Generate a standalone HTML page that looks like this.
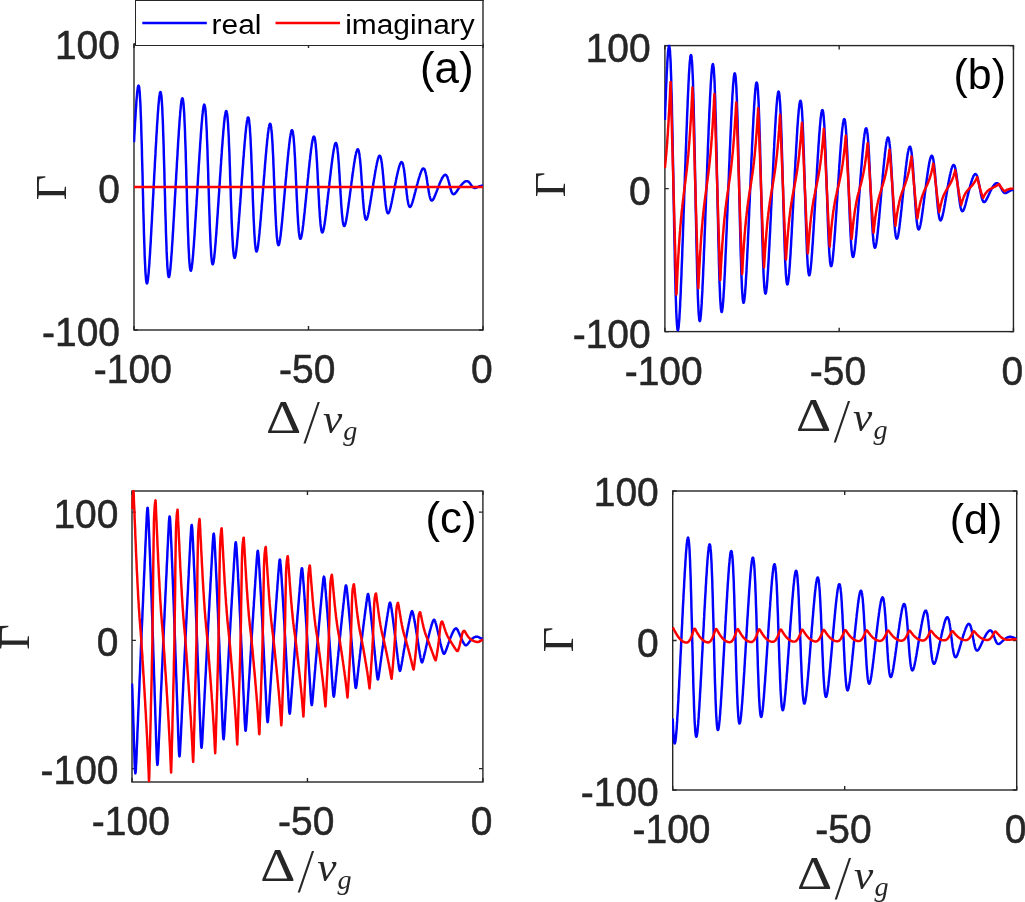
<!DOCTYPE html>
<html lang="en"><head><meta charset="utf-8"><title>Gamma vs Delta/v_g</title>
<style>html,body{margin:0;padding:0;background:#fff}svg{display:block}</style></head><body>
<svg width="1025" height="902" viewBox="0 0 1025 902" role="img" aria-label="Gamma versus Delta over v_g, four panels">
<rect width="1025" height="902" fill="#fff"/>
<clipPath id="clip_a"><rect x="133.3" y="42.4" width="350.4" height="289.2"/></clipPath>
<rect x="134" y="44" width="349" height="286" fill="none" stroke="#262626" stroke-width="1.4"/>
<path d="M134,330v-3.9M134,44v3.9M308.5,330v-3.9M308.5,44v3.9M483,330v-3.9M483,44v3.9M134,330h3.9M483,330h-3.9M134,187h3.9M483,187h-3.9M134,44h3.9M483,44h-3.9" stroke="#262626" stroke-width="1.4" fill="none"/>
<g clip-path="url(#clip_a)" fill="none" stroke-width="2.45" stroke-linejoin="round" stroke-linecap="butt">
<polyline stroke="#0000ff" points="134,142.3 134.2,139 134.3,135.8 134.5,132.6 134.7,129.4 134.9,126.3 135,123.2 135.2,120.2 135.4,117.3 135.6,114.4 135.7,111.6 135.9,108.9 136.1,106.3 136.3,103.8 136.4,101.4 136.6,99.1 136.8,97 137,95 137.1,93.1 137.3,91.5 137.5,90 137.7,88.6 137.8,87.5 138,86.7 138.2,86 138.4,85.6 138.5,85.5 138.7,85.7 138.9,86.1 139.1,86.9 139.2,88 139.4,89.5 139.6,91.3 139.8,93.5 139.9,96.1 140.1,99 140.3,102.4 140.5,106.1 140.6,110.3 140.8,114.8 141,119.7 141.2,125 141.3,130.6 141.5,136.5 141.7,142.7 141.9,149.2 142,155.9 142.2,162.8 142.4,169.9 142.6,177 142.7,184.2 142.9,191.4 143.1,198.5 143.2,205.6 143.4,212.5 143.6,219.2 143.8,225.7 143.9,232 144.1,237.9 144.3,243.6 144.5,248.9 144.6,253.8 144.8,258.4 145,262.6 145.2,266.3 145.3,269.7 145.5,272.7 145.7,275.3 145.9,277.5 146,279.4 146.2,280.9 146.4,282 146.6,282.8 146.7,283.3 146.9,283.5 147.1,283.4 147.3,283 147.4,282.4 147.6,281.5 147.8,280.4 148,279.1 148.1,277.7 148.3,276 148.5,274.2 148.7,272.2 148.8,270.1 149,267.9 149.2,265.6 149.4,263.1 149.5,260.6 149.7,257.9 149.9,255.2 150.1,252.4 150.2,249.6 150.4,246.7 150.6,243.7 150.8,240.7 150.9,237.7 151.1,234.6 151.3,231.4 151.4,228.3 151.6,225.1 151.8,221.9 152,218.7 152.1,215.4 152.3,212.2 152.5,208.9 152.7,205.6 152.8,202.3 153,199 153.2,195.7 153.4,192.5 153.5,189.2 153.7,185.9 153.9,182.6 154.1,179.3 154.2,176 154.4,172.7 154.6,169.5 154.8,166.2 154.9,163 155.1,159.8 155.3,156.6 155.5,153.4 155.6,150.2 155.8,147.1 156,144 156.2,140.9 156.3,137.9 156.5,134.9 156.7,132 156.9,129.1 157,126.2 157.2,123.4 157.4,120.7 157.6,118 157.7,115.5 157.9,113 158.1,110.5 158.3,108.2 158.4,106 158.6,103.9 158.8,102 159,100.1 159.1,98.5 159.3,97 159.5,95.6 159.7,94.4 159.8,93.5 160,92.7 160.2,92.2 160.3,91.9 160.5,91.9 160.7,92.2 160.9,92.7 161,93.5 161.2,94.7 161.4,96.2 161.6,98 161.7,100.2 161.9,102.7 162.1,105.6 162.3,108.9 162.4,112.5 162.6,116.5 162.8,120.8 163,125.6 163.1,130.6 163.3,135.9 163.5,141.6 163.7,147.5 163.8,153.7 164,160 164.2,166.5 164.4,173.1 164.5,179.8 164.7,186.5 164.9,193.3 165.1,199.9 165.2,206.5 165.4,212.9 165.6,219.1 165.8,225.1 165.9,230.9 166.1,236.4 166.3,241.5 166.5,246.4 166.6,250.9 166.8,255 167,258.8 167.2,262.2 167.3,265.3 167.5,267.9 167.7,270.2 167.9,272.2 168,273.8 168.2,275.1 168.4,276 168.6,276.7 168.7,277 168.9,277.1 169.1,276.9 169.2,276.5 169.4,275.8 169.6,274.9 169.8,273.9 169.9,272.6 170.1,271.1 170.3,269.5 170.5,267.8 170.6,265.9 170.8,263.9 171,261.8 171.2,259.6 171.3,257.2 171.5,254.8 171.7,252.3 171.9,249.8 172,247.2 172.2,244.5 172.4,241.7 172.6,238.9 172.7,236.1 172.9,233.3 173.1,230.4 173.3,227.4 173.4,224.5 173.6,221.5 173.8,218.5 174,215.5 174.1,212.4 174.3,209.4 174.5,206.3 174.7,203.3 174.8,200.2 175,197.1 175.2,194 175.4,191 175.5,187.9 175.7,184.8 175.9,181.7 176.1,178.7 176.2,175.6 176.4,172.6 176.6,169.5 176.8,166.5 176.9,163.5 177.1,160.5 177.3,157.5 177.5,154.6 177.6,151.6 177.8,148.7 178,145.8 178.1,143 178.3,140.2 178.5,137.4 178.7,134.7 178.8,132 179,129.3 179.2,126.8 179.4,124.2 179.5,121.8 179.7,119.4 179.9,117.1 180.1,114.9 180.2,112.8 180.4,110.7 180.6,108.8 180.8,107.1 180.9,105.4 181.1,103.9 181.3,102.5 181.5,101.3 181.6,100.3 181.8,99.5 182,98.9 182.2,98.4 182.3,98.3 182.5,98.3 182.7,98.7 182.9,99.3 183,100.1 183.2,101.3 183.4,102.8 183.6,104.6 183.7,106.8 183.9,109.2 184.1,112.1 184.3,115.2 184.4,118.7 184.6,122.6 184.8,126.7 185,131.2 185.1,136 185.3,141.1 185.5,146.4 185.7,152 185.8,157.8 186,163.8 186.2,169.9 186.3,176.1 186.5,182.3 186.7,188.6 186.9,194.8 187,201 187.2,207.1 187.4,213 187.6,218.7 187.7,224.2 187.9,229.5 188.1,234.5 188.3,239.2 188.4,243.6 188.6,247.7 188.8,251.4 189,254.8 189.1,257.9 189.3,260.6 189.5,263 189.7,265 189.8,266.7 190,268.1 190.2,269.2 190.4,270 190.5,270.5 190.7,270.7 190.9,270.7 191.1,270.4 191.2,269.9 191.4,269.3 191.6,268.4 191.8,267.3 191.9,266.1 192.1,264.7 192.3,263.1 192.5,261.5 192.6,259.7 192.8,257.8 193,255.8 193.2,253.7 193.3,251.5 193.5,249.2 193.7,246.9 193.9,244.4 194,242 194.2,239.5 194.4,236.9 194.6,234.3 194.7,231.7 194.9,229 195.1,226.3 195.2,223.5 195.4,220.8 195.6,218 195.8,215.2 195.9,212.4 196.1,209.6 196.3,206.8 196.5,203.9 196.6,201.1 196.8,198.2 197,195.4 197.2,192.5 197.3,189.6 197.5,186.8 197.7,183.9 197.9,181.1 198,178.2 198.2,175.4 198.4,172.6 198.6,169.7 198.7,166.9 198.9,164.1 199.1,161.4 199.3,158.6 199.4,155.9 199.6,153.2 199.8,150.5 200,147.8 200.1,145.2 200.3,142.6 200.5,140 200.7,137.5 200.8,135 201,132.6 201.2,130.2 201.4,127.9 201.5,125.7 201.7,123.5 201.9,121.4 202.1,119.3 202.2,117.4 202.4,115.6 202.6,113.8 202.8,112.2 202.9,110.7 203.1,109.4 203.3,108.2 203.5,107.1 203.6,106.2 203.8,105.5 204,105 204.1,104.7 204.3,104.6 204.5,104.8 204.7,105.2 204.8,105.8 205,106.7 205.2,107.9 205.4,109.4 205.5,111.2 205.7,113.3 205.9,115.7 206.1,118.4 206.2,121.4 206.4,124.8 206.6,128.5 206.8,132.4 206.9,136.7 207.1,141.2 207.3,146 207.5,151.1 207.6,156.3 207.8,161.7 208,167.3 208.2,173 208.3,178.7 208.5,184.5 208.7,190.3 208.9,196.1 209,201.8 209.2,207.3 209.4,212.8 209.6,218 209.7,223.1 209.9,227.9 210.1,232.4 210.3,236.7 210.4,240.6 210.6,244.3 210.8,247.6 211,250.7 211.1,253.4 211.3,255.8 211.5,257.9 211.7,259.6 211.8,261.1 212,262.3 212.2,263.2 212.4,263.8 212.5,264.2 212.7,264.3 212.9,264.2 213,263.9 213.2,263.4 213.4,262.7 213.6,261.8 213.7,260.8 213.9,259.6 214.1,258.3 214.3,256.8 214.4,255.2 214.6,253.5 214.8,251.7 215,249.8 215.1,247.8 215.3,245.8 215.5,243.7 215.7,241.5 215.8,239.2 216,236.9 216.2,234.6 216.4,232.2 216.5,229.8 216.7,227.3 216.9,224.9 217.1,222.3 217.2,219.8 217.4,217.3 217.6,214.7 217.8,212.1 217.9,209.5 218.1,206.9 218.3,204.3 218.5,201.6 218.6,199 218.8,196.4 219,193.7 219.2,191.1 219.3,188.4 219.5,185.8 219.7,183.2 219.9,180.5 220,177.9 220.2,175.3 220.4,172.7 220.6,170.1 220.7,167.5 220.9,164.9 221.1,162.4 221.2,159.9 221.4,157.3 221.6,154.8 221.8,152.4 221.9,149.9 222.1,147.5 222.3,145.1 222.5,142.8 222.6,140.5 222.8,138.2 223,136 223.2,133.8 223.3,131.7 223.5,129.6 223.7,127.7 223.9,125.7 224,123.9 224.2,122.2 224.4,120.5 224.6,119 224.7,117.5 224.9,116.2 225.1,115 225.3,113.9 225.4,113 225.6,112.2 225.8,111.7 226,111.3 226.1,111 226.3,111 226.5,111.3 226.7,111.7 226.8,112.4 227,113.3 227.2,114.5 227.4,116 227.5,117.7 227.7,119.7 227.9,122 228.1,124.6 228.2,127.5 228.4,130.7 228.6,134.2 228.8,138 228.9,142 229.1,146.2 229.3,150.7 229.5,155.4 229.6,160.3 229.8,165.3 230,170.5 230.1,175.8 230.3,181.1 230.5,186.4 230.7,191.7 230.8,197 231,202.2 231.2,207.3 231.4,212.2 231.5,217 231.7,221.6 231.9,225.9 232.1,230 232.2,233.8 232.4,237.4 232.6,240.6 232.8,243.6 232.9,246.3 233.1,248.7 233.3,250.8 233.5,252.6 233.6,254.1 233.8,255.4 234,256.4 234.2,257.1 234.3,257.6 234.5,257.9 234.7,258 234.9,257.8 235,257.4 235.2,256.9 235.4,256.2 235.6,255.3 235.7,254.3 235.9,253.2 236.1,251.9 236.3,250.5 236.4,249 236.6,247.4 236.8,245.7 237,244 237.1,242.1 237.3,240.2 237.5,238.2 237.7,236.2 237.8,234.1 238,232 238.2,229.8 238.4,227.6 238.5,225.4 238.7,223.1 238.9,220.9 239,218.5 239.2,216.2 239.4,213.9 239.6,211.5 239.7,209.1 239.9,206.7 240.1,204.3 240.3,201.9 240.4,199.5 240.6,197.1 240.8,194.7 241,192.2 241.1,189.8 241.3,187.4 241.5,185 241.7,182.6 241.8,180.2 242,177.8 242.2,175.4 242.4,173 242.5,170.6 242.7,168.2 242.9,165.9 243.1,163.6 243.2,161.2 243.4,158.9 243.6,156.7 243.8,154.4 243.9,152.2 244.1,150 244.3,147.8 244.5,145.7 244.6,143.6 244.8,141.5 245,139.5 245.2,137.5 245.3,135.6 245.5,133.8 245.7,132 245.9,130.3 246,128.6 246.2,127 246.4,125.5 246.6,124.2 246.7,122.9 246.9,121.7 247.1,120.7 247.3,119.7 247.4,118.9 247.6,118.3 247.8,117.8 247.9,117.5 248.1,117.4 248.3,117.5 248.5,117.7 248.6,118.2 248.8,118.9 249,119.8 249.2,121 249.3,122.4 249.5,124.1 249.7,126.1 249.9,128.3 250,130.8 250.2,133.5 250.4,136.5 250.6,139.8 250.7,143.3 250.9,147 251.1,151 251.3,155.2 251.4,159.5 251.6,164 251.8,168.7 252,173.4 252.1,178.3 252.3,183.1 252.5,188 252.7,192.9 252.8,197.7 253,202.4 253.2,207 253.4,211.4 253.5,215.7 253.7,219.8 253.9,223.7 254.1,227.3 254.2,230.7 254.4,233.9 254.6,236.8 254.8,239.4 254.9,241.8 255.1,243.8 255.3,245.7 255.5,247.2 255.6,248.5 255.8,249.6 256,250.4 256.1,251 256.3,251.4 256.5,251.6 256.7,251.5 256.8,251.3 257,250.9 257.2,250.4 257.4,249.7 257.5,248.9 257.7,247.9 257.9,246.8 258.1,245.6 258.2,244.3 258.4,242.9 258.6,241.4 258.8,239.9 258.9,238.2 259.1,236.5 259.3,234.8 259.5,232.9 259.6,231.1 259.8,229.2 260,227.2 260.2,225.2 260.3,223.2 260.5,221.2 260.7,219.1 260.9,217 261,214.9 261.2,212.7 261.4,210.6 261.6,208.4 261.7,206.3 261.9,204.1 262.1,201.9 262.3,199.7 262.4,197.5 262.6,195.3 262.8,193.1 263,190.9 263.1,188.7 263.3,186.5 263.5,184.3 263.7,182.1 263.8,179.9 264,177.8 264.2,175.6 264.4,173.4 264.5,171.3 264.7,169.1 264.9,167 265,164.9 265.2,162.8 265.4,160.7 265.6,158.6 265.7,156.6 265.9,154.6 266.1,152.6 266.3,150.6 266.4,148.7 266.6,146.8 266.8,145 267,143.2 267.1,141.4 267.3,139.7 267.5,138 267.7,136.4 267.8,134.9 268,133.4 268.2,132 268.4,130.7 268.5,129.5 268.7,128.3 268.9,127.3 269.1,126.4 269.2,125.6 269.4,125 269.6,124.4 269.8,124.1 269.9,123.8 270.1,123.8 270.3,123.9 270.5,124.2 270.6,124.7 270.8,125.4 271,126.4 271.2,127.5 271.3,128.9 271.5,130.5 271.7,132.3 271.9,134.4 272,136.7 272.2,139.3 272.4,142.1 272.6,145.1 272.7,148.4 272.9,151.9 273.1,155.5 273.3,159.4 273.4,163.4 273.6,167.5 273.8,171.7 273.9,176.1 274.1,180.4 274.3,184.9 274.5,189.3 274.6,193.6 274.8,198 275,202.2 275.2,206.3 275.3,210.3 275.5,214.1 275.7,217.7 275.9,221.2 276,224.4 276.2,227.4 276.4,230.2 276.6,232.7 276.7,235 276.9,237 277.1,238.8 277.3,240.4 277.4,241.7 277.6,242.8 277.8,243.7 278,244.4 278.1,244.8 278.3,245.1 278.5,245.2 278.7,245.1 278.8,244.9 279,244.5 279.2,243.9 279.4,243.2 279.5,242.4 279.7,241.5 279.9,240.5 280.1,239.4 280.2,238.2 280.4,236.9 280.6,235.5 280.8,234.1 280.9,232.6 281.1,231 281.3,229.4 281.5,227.7 281.6,226 281.8,224.3 282,222.5 282.2,220.7 282.3,218.9 282.5,217 282.7,215.2 282.8,213.3 283,211.4 283.2,209.4 283.4,207.5 283.5,205.5 283.7,203.6 283.9,201.6 284.1,199.6 284.2,197.7 284.4,195.7 284.6,193.7 284.8,191.7 284.9,189.7 285.1,187.7 285.3,185.8 285.5,183.8 285.6,181.8 285.8,179.9 286,177.9 286.2,175.9 286.3,174 286.5,172.1 286.7,170.1 286.9,168.2 287,166.3 287.2,164.5 287.4,162.6 287.6,160.8 287.7,158.9 287.9,157.1 288.1,155.4 288.3,153.6 288.4,151.9 288.6,150.2 288.8,148.6 289,146.9 289.1,145.4 289.3,143.8 289.5,142.4 289.7,141 289.8,139.6 290,138.3 290.2,137.1 290.4,135.9 290.5,134.9 290.7,133.9 290.9,133 291.1,132.2 291.2,131.6 291.4,131 291.6,130.6 291.7,130.3 291.9,130.2 292.1,130.2 292.3,130.4 292.4,130.7 292.6,131.2 292.8,131.9 293,132.8 293.1,133.9 293.3,135.2 293.5,136.7 293.7,138.5 293.8,140.4 294,142.6 294.2,145 294.4,147.5 294.5,150.3 294.7,153.3 294.9,156.5 295.1,159.8 295.2,163.3 295.4,166.9 295.6,170.7 295.8,174.5 295.9,178.4 296.1,182.3 296.3,186.3 296.5,190.2 296.6,194.1 296.8,197.9 297,201.7 297.2,205.3 297.3,208.8 297.5,212.2 297.7,215.4 297.9,218.4 298,221.2 298.2,223.8 298.4,226.2 298.6,228.4 298.7,230.4 298.9,232.1 299.1,233.7 299.3,235 299.4,236.1 299.6,237 299.8,237.7 299.9,238.3 300.1,238.6 300.3,238.8 300.5,238.8 300.6,238.7 300.8,238.4 301,238 301.2,237.5 301.3,236.8 301.5,236.1 301.7,235.2 301.9,234.3 302,233.2 302.2,232.1 302.4,230.9 302.6,229.7 302.7,228.4 302.9,227 303.1,225.6 303.3,224.2 303.4,222.7 303.6,221.1 303.8,219.6 304,218 304.1,216.4 304.3,214.7 304.5,213.1 304.7,211.4 304.8,209.7 305,208 305.2,206.2 305.4,204.5 305.5,202.8 305.7,201 305.9,199.3 306.1,197.5 306.2,195.7 306.4,194 306.6,192.2 306.8,190.5 306.9,188.7 307.1,186.9 307.3,185.2 307.5,183.4 307.6,181.7 307.8,179.9 308,178.2 308.2,176.4 308.3,174.7 308.5,173 308.7,171.3 308.8,169.6 309,167.9 309.2,166.3 309.4,164.6 309.5,163 309.7,161.4 309.9,159.8 310.1,158.2 310.2,156.7 310.4,155.2 310.6,153.7 310.8,152.3 310.9,150.9 311.1,149.5 311.3,148.1 311.5,146.9 311.6,145.6 311.8,144.4 312,143.3 312.2,142.3 312.3,141.3 312.5,140.4 312.7,139.5 312.9,138.8 313,138.1 313.2,137.6 313.4,137.1 313.6,136.8 313.7,136.6 313.9,136.5 314.1,136.6 314.3,136.8 314.4,137.2 314.6,137.7 314.8,138.4 315,139.2 315.1,140.3 315.3,141.5 315.5,142.9 315.7,144.5 315.8,146.3 316,148.3 316.2,150.4 316.4,152.8 316.5,155.3 316.7,158 316.9,160.9 317.1,163.9 317.2,167 317.4,170.2 317.6,173.6 317.7,177 317.9,180.4 318.1,183.9 318.3,187.4 318.4,190.8 318.6,194.3 318.8,197.6 319,200.9 319.1,204.1 319.3,207.1 319.5,210 319.7,212.8 319.8,215.4 320,217.8 320.2,220 320.4,222.1 320.5,223.9 320.7,225.6 320.9,227.1 321.1,228.4 321.2,229.5 321.4,230.4 321.6,231.1 321.8,231.7 321.9,232.1 322.1,232.3 322.3,232.4 322.5,232.4 322.6,232.2 322.8,232 323,231.6 323.2,231 323.3,230.4 323.5,229.7 323.7,228.9 323.9,228.1 324,227.1 324.2,226.1 324.4,225.1 324.6,224 324.7,222.8 324.9,221.6 325.1,220.3 325.3,219 325.4,217.7 325.6,216.3 325.8,215 326,213.5 326.1,212.1 326.3,210.7 326.5,209.2 326.6,207.7 326.8,206.2 327,204.7 327.2,203.2 327.3,201.7 327.5,200.1 327.7,198.6 327.9,197.1 328,195.5 328.2,194 328.4,192.4 328.6,190.9 328.7,189.3 328.9,187.8 329.1,186.3 329.3,184.7 329.4,183.2 329.6,181.7 329.8,180.1 330,178.6 330.1,177.1 330.3,175.6 330.5,174.1 330.7,172.6 330.8,171.2 331,169.7 331.2,168.2 331.4,166.8 331.5,165.4 331.7,164 331.9,162.6 332.1,161.3 332.2,159.9 332.4,158.6 332.6,157.4 332.8,156.1 332.9,154.9 333.1,153.7 333.3,152.6 333.5,151.5 333.6,150.4 333.8,149.4 334,148.4 334.2,147.5 334.3,146.7 334.5,145.9 334.7,145.3 334.8,144.6 335,144.1 335.2,143.7 335.4,143.3 335.5,143.1 335.7,142.9 335.9,142.9 336.1,143 336.2,143.3 336.4,143.6 336.6,144.1 336.8,144.8 336.9,145.6 337.1,146.5 337.3,147.7 337.5,149 337.6,150.4 337.8,152 338,153.8 338.2,155.8 338.3,157.8 338.5,160.1 338.7,162.5 338.9,165 339,167.7 339.2,170.4 339.4,173.2 339.6,176.2 339.7,179.1 339.9,182.1 340.1,185.2 340.3,188.2 340.4,191.2 340.6,194.1 340.8,197 341,199.8 341.1,202.5 341.3,205.1 341.5,207.6 341.7,209.9 341.8,212.1 342,214.2 342.2,216 342.4,217.7 342.5,219.3 342.7,220.7 342.9,221.9 343.1,222.9 343.2,223.8 343.4,224.5 343.6,225.1 343.7,225.6 343.9,225.9 344.1,226 344.3,226.1 344.4,226 344.6,225.8 344.8,225.5 345,225.1 345.1,224.7 345.3,224.1 345.5,223.5 345.7,222.7 345.8,222 346,221.1 346.2,220.3 346.4,219.3 346.5,218.3 346.7,217.3 346.9,216.2 347.1,215.1 347.2,214 347.4,212.9 347.6,211.7 347.8,210.5 347.9,209.2 348.1,208 348.3,206.7 348.5,205.5 348.6,204.2 348.8,202.9 349,201.6 349.2,200.3 349.3,199 349.5,197.7 349.7,196.3 349.9,195 350,193.7 350.2,192.4 350.4,191 350.6,189.7 350.7,188.4 350.9,187.1 351.1,185.7 351.3,184.4 351.4,183.1 351.6,181.8 351.8,180.5 352,179.2 352.1,177.9 352.3,176.6 352.5,175.3 352.6,174.1 352.8,172.8 353,171.6 353.2,170.4 353.3,169.1 353.5,167.9 353.7,166.8 353.9,165.6 354,164.4 354.2,163.3 354.4,162.2 354.6,161.1 354.7,160.1 354.9,159.1 355.1,158.1 355.3,157.1 355.4,156.2 355.6,155.3 355.8,154.5 356,153.7 356.1,152.9 356.3,152.2 356.5,151.6 356.7,151.1 356.8,150.6 357,150.1 357.2,149.8 357.4,149.5 357.5,149.4 357.7,149.3 357.9,149.3 358.1,149.4 358.2,149.7 358.4,150 358.6,150.5 358.8,151.1 358.9,151.9 359.1,152.7 359.3,153.8 359.5,154.9 359.6,156.2 359.8,157.6 360,159.2 360.2,160.9 360.3,162.7 360.5,164.7 360.7,166.7 360.9,168.9 361,171.2 361.2,173.5 361.4,176 361.5,178.5 361.7,181 361.9,183.5 362.1,186.1 362.2,188.6 362.4,191.2 362.6,193.6 362.8,196.1 362.9,198.4 363.1,200.7 363.3,202.8 363.5,204.9 363.6,206.8 363.8,208.6 364,210.3 364.2,211.8 364.3,213.2 364.5,214.4 364.7,215.6 364.9,216.5 365,217.4 365.2,218.1 365.4,218.6 365.6,219.1 365.7,219.4 365.9,219.6 366.1,219.7 366.3,219.7 366.4,219.6 366.6,219.4 366.8,219.1 367,218.7 367.1,218.3 367.3,217.8 367.5,217.2 367.7,216.6 367.8,215.9 368,215.2 368.2,214.5 368.4,213.6 368.5,212.8 368.7,211.9 368.9,211 369.1,210.1 369.2,209.1 369.4,208.1 369.6,207.1 369.7,206.1 369.9,205.1 370.1,204 370.3,203 370.4,201.9 370.6,200.8 370.8,199.7 371,198.6 371.1,197.5 371.3,196.4 371.5,195.3 371.7,194.2 371.8,193.1 372,192 372.2,190.9 372.4,189.8 372.5,188.7 372.7,187.6 372.9,186.5 373.1,185.4 373.2,184.3 373.4,183.2 373.6,182.1 373.8,181 373.9,179.9 374.1,178.9 374.3,177.8 374.5,176.7 374.6,175.7 374.8,174.7 375,173.6 375.2,172.6 375.3,171.6 375.5,170.6 375.7,169.6 375.9,168.7 376,167.7 376.2,166.8 376.4,165.9 376.6,165 376.7,164.2 376.9,163.3 377.1,162.5 377.3,161.8 377.4,161 377.6,160.3 377.8,159.6 378,159 378.1,158.4 378.3,157.9 378.5,157.4 378.6,156.9 378.8,156.5 379,156.2 379.2,156 379.3,155.8 379.5,155.7 379.7,155.7 379.9,155.7 380,155.9 380.2,156.1 380.4,156.5 380.6,156.9 380.7,157.4 380.9,158.1 381.1,158.8 381.3,159.7 381.4,160.7 381.6,161.8 381.8,163 382,164.4 382.1,165.8 382.3,167.3 382.5,169 382.7,170.7 382.8,172.5 383,174.4 383.2,176.4 383.4,178.4 383.5,180.5 383.7,182.5 383.9,184.6 384.1,186.7 384.2,188.8 384.4,190.9 384.6,192.9 384.8,194.8 384.9,196.7 385.1,198.5 385.3,200.3 385.5,201.9 385.6,203.4 385.8,204.9 386,206.2 386.2,207.4 386.3,208.5 386.5,209.4 386.7,210.3 386.9,211 387,211.7 387.2,212.2 387.4,212.6 387.5,212.9 387.7,213.1 387.9,213.3 388.1,213.3 388.2,213.3 388.4,213.2 388.6,213 388.8,212.7 388.9,212.4 389.1,212 389.3,211.6 389.5,211.1 389.6,210.6 389.8,210 390,209.4 390.2,208.7 390.3,208.1 390.5,207.4 390.7,206.6 390.9,205.9 391,205.1 391.2,204.3 391.4,203.5 391.6,202.7 391.7,201.9 391.9,201 392.1,200.2 392.3,199.3 392.4,198.5 392.6,197.6 392.8,196.7 393,195.8 393.1,194.9 393.3,194 393.5,193.1 393.7,192.2 393.8,191.4 394,190.5 394.2,189.6 394.4,188.7 394.5,187.8 394.7,186.9 394.9,186 395.1,185.1 395.2,184.3 395.4,183.4 395.6,182.5 395.8,181.7 395.9,180.8 396.1,180 396.3,179.1 396.4,178.3 396.6,177.4 396.8,176.6 397,175.8 397.1,175 397.3,174.2 397.5,173.4 397.7,172.7 397.8,171.9 398,171.2 398.2,170.5 398.4,169.8 398.5,169.1 398.7,168.4 398.9,167.7 399.1,167.1 399.2,166.5 399.4,166 399.6,165.4 399.8,164.9 399.9,164.4 400.1,164 400.3,163.6 400.5,163.2 400.6,162.9 400.8,162.6 401,162.4 401.2,162.2 401.3,162.1 401.5,162 401.7,162.1 401.9,162.1 402,162.3 402.2,162.5 402.4,162.8 402.6,163.2 402.7,163.7 402.9,164.2 403.1,164.9 403.3,165.6 403.4,166.4 403.6,167.3 403.8,168.3 404,169.4 404.1,170.5 404.3,171.8 404.5,173.1 404.6,174.5 404.8,175.9 405,177.4 405.2,179 405.3,180.6 405.5,182.2 405.7,183.8 405.9,185.4 406,187.1 406.2,188.7 406.4,190.2 406.6,191.8 406.7,193.3 406.9,194.7 407.1,196.1 407.3,197.4 407.4,198.7 407.6,199.8 407.8,200.9 408,201.9 408.1,202.8 408.3,203.6 408.5,204.3 408.7,204.9 408.8,205.4 409,205.9 409.2,206.2 409.4,206.5 409.5,206.7 409.7,206.9 409.9,206.9 410.1,206.9 410.2,206.9 410.4,206.7 410.6,206.6 410.8,206.3 410.9,206.1 411.1,205.8 411.3,205.4 411.5,205 411.6,204.6 411.8,204.1 412,203.6 412.2,203.1 412.3,202.6 412.5,202 412.7,201.5 412.9,200.9 413,200.3 413.2,199.7 413.4,199.1 413.5,198.4 413.7,197.8 413.9,197.1 414.1,196.5 414.2,195.8 414.4,195.1 414.6,194.5 414.8,193.8 414.9,193.1 415.1,192.4 415.3,191.8 415.5,191.1 415.6,190.4 415.8,189.7 416,189.1 416.2,188.4 416.3,187.7 416.5,187 416.7,186.4 416.9,185.7 417,185.1 417.2,184.4 417.4,183.8 417.6,183.1 417.7,182.5 417.9,181.8 418.1,181.2 418.3,180.6 418.4,179.9 418.6,179.3 418.8,178.7 419,178.1 419.1,177.5 419.3,177 419.5,176.4 419.7,175.8 419.8,175.3 420,174.8 420.2,174.2 420.4,173.7 420.5,173.2 420.7,172.7 420.9,172.3 421.1,171.8 421.2,171.4 421.4,171 421.6,170.6 421.8,170.3 421.9,169.9 422.1,169.6 422.3,169.3 422.4,169.1 422.6,168.9 422.8,168.7 423,168.6 423.1,168.5 423.3,168.4 423.5,168.4 423.7,168.5 423.8,168.5 424,168.7 424.2,168.9 424.4,169.1 424.5,169.4 424.7,169.8 424.9,170.3 425.1,170.8 425.2,171.3 425.4,171.9 425.6,172.6 425.8,173.4 425.9,174.2 426.1,175 426.3,176 426.5,176.9 426.6,178 426.8,179 427,180.1 427.2,181.3 427.3,182.4 427.5,183.6 427.7,184.7 427.9,185.9 428,187.1 428.2,188.2 428.4,189.3 428.6,190.4 428.7,191.5 428.9,192.5 429.1,193.4 429.3,194.3 429.4,195.2 429.6,196 429.8,196.7 430,197.4 430.1,198 430.3,198.5 430.5,199 430.7,199.4 430.8,199.7 431,200 431.2,200.2 431.3,200.4 431.5,200.5 431.7,200.6 431.9,200.6 432,200.5 432.2,200.5 432.4,200.3 432.6,200.2 432.7,200 432.9,199.8 433.1,199.6 433.3,199.3 433.4,199 433.6,198.7 433.8,198.3 434,198 434.1,197.6 434.3,197.2 434.5,196.8 434.7,196.4 434.8,196 435,195.6 435.2,195.1 435.4,194.7 435.5,194.3 435.7,193.8 435.9,193.4 436.1,192.9 436.2,192.4 436.4,192 436.6,191.5 436.8,191 436.9,190.6 437.1,190.1 437.3,189.7 437.5,189.2 437.6,188.7 437.8,188.3 438,187.8 438.2,187.4 438.3,186.9 438.5,186.5 438.7,186 438.9,185.6 439,185.1 439.2,184.7 439.4,184.3 439.5,183.8 439.7,183.4 439.9,183 440.1,182.6 440.2,182.2 440.4,181.8 440.6,181.4 440.8,181 440.9,180.6 441.1,180.2 441.3,179.9 441.5,179.5 441.6,179.1 441.8,178.8 442,178.5 442.2,178.1 442.3,177.8 442.5,177.5 442.7,177.2 442.9,176.9 443,176.7 443.2,176.4 443.4,176.2 443.6,175.9 443.7,175.7 443.9,175.5 444.1,175.4 444.3,175.2 444.4,175.1 444.6,175 444.8,174.9 445,174.8 445.1,174.8 445.3,174.8 445.5,174.8 445.7,174.9 445.8,174.9 446,175.1 446.2,175.2 446.4,175.4 446.5,175.6 446.7,175.9 446.9,176.2 447.1,176.5 447.2,176.9 447.4,177.3 447.6,177.8 447.8,178.3 447.9,178.8 448.1,179.4 448.3,179.9 448.4,180.6 448.6,181.2 448.8,181.9 449,182.5 449.1,183.2 449.3,183.9 449.5,184.6 449.7,185.4 449.8,186.1 450,186.8 450.2,187.4 450.4,188.1 450.5,188.7 450.7,189.3 450.9,189.9 451.1,190.5 451.2,191 451.4,191.5 451.6,191.9 451.8,192.3 451.9,192.7 452.1,193 452.3,193.3 452.5,193.5 452.6,193.7 452.8,193.9 453,194 453.2,194.1 453.3,194.2 453.5,194.2 453.7,194.2 453.9,194.2 454,194.1 454.2,194.1 454.4,194 454.6,193.9 454.7,193.7 454.9,193.6 455.1,193.4 455.3,193.2 455.4,193.1 455.6,192.9 455.8,192.6 456,192.4 456.1,192.2 456.3,192 456.5,191.7 456.7,191.5 456.8,191.2 457,191 457.2,190.7 457.3,190.5 457.5,190.2 457.7,190 457.9,189.7 458,189.5 458.2,189.2 458.4,188.9 458.6,188.7 458.7,188.4 458.9,188.2 459.1,187.9 459.3,187.7 459.4,187.4 459.6,187.2 459.8,186.9 460,186.7 460.1,186.5 460.3,186.2 460.5,186 460.7,185.8 460.8,185.6 461,185.3 461.2,185.1 461.4,184.9 461.5,184.7 461.7,184.5 461.9,184.3 462.1,184.1 462.2,183.9 462.4,183.7 462.6,183.6 462.8,183.4 462.9,183.2 463.1,183 463.3,182.9 463.5,182.7 463.6,182.6 463.8,182.4 464,182.3 464.2,182.2 464.3,182 464.5,181.9 464.7,181.8 464.9,181.7 465,181.6 465.2,181.5 465.4,181.4 465.6,181.3 465.7,181.3 465.9,181.2 466.1,181.2 466.2,181.1 466.4,181.1 466.6,181.1 466.8,181.1 466.9,181.1 467.1,181.1 467.3,181.2 467.5,181.2 467.6,181.3 467.8,181.3 468,181.4 468.2,181.5 468.3,181.6 468.5,181.7 468.7,181.9 468.9,182 469,182.2 469.2,182.4 469.4,182.6 469.6,182.8 469.7,183 469.9,183.2 470.1,183.4 470.3,183.7 470.4,183.9 470.6,184.2 470.8,184.4 471,184.7 471.1,184.9 471.3,185.2 471.5,185.4 471.7,185.7 471.8,185.9 472,186.1 472.2,186.4 472.4,186.6 472.5,186.8 472.7,186.9 472.9,187.1 473.1,187.3 473.2,187.4 473.4,187.5 473.6,187.6 473.8,187.7 473.9,187.8 474.1,187.8 474.3,187.9 474.4,187.9 474.6,187.9 474.8,187.9 475,187.9 475.1,187.9 475.3,187.9 475.5,187.9 475.7,187.8 475.8,187.8 476,187.7 476.2,187.7 476.4,187.6 476.5,187.6 476.7,187.5 476.9,187.4 477.1,187.3 477.2,187.3 477.4,187.2 477.6,187.1 477.8,187 477.9,187 478.1,186.9 478.3,186.8 478.5,186.7 478.6,186.7 478.8,186.6 479,186.5 479.2,186.4 479.3,186.4 479.5,186.3 479.7,186.3 479.9,186.2 480,186.1 480.2,186.1 480.4,186 480.6,186 480.7,186 480.9,185.9 481.1,185.9 481.3,185.9 481.4,185.8 481.6,185.8 481.8,185.8 482,185.8 482.1,185.7 482.3,185.7 482.5,185.7 482.7,185.7 482.8,185.7 483,185.7"/>
<polyline stroke="#ff0000" points="134,187 134.2,187 134.3,187 134.5,187 134.7,187 134.9,187 135,187 135.2,187 135.4,187 135.6,187 135.7,187 135.9,187 136.1,187 136.3,187 136.4,187 136.6,187 136.8,187 137,187 137.1,187 137.3,187 137.5,187 137.7,187 137.8,187 138,187 138.2,187 138.4,187 138.5,187 138.7,187 138.9,187 139.1,187 139.2,187 139.4,187 139.6,187 139.8,187 139.9,187 140.1,187 140.3,187 140.5,187 140.6,187 140.8,187 141,187 141.2,187 141.3,187 141.5,187 141.7,187 141.9,187 142,187 142.2,187 142.4,187 142.6,187 142.7,187 142.9,187 143.1,187 143.2,187 143.4,187 143.6,187 143.8,187 143.9,187 144.1,187 144.3,187 144.5,187 144.6,187 144.8,187 145,187 145.2,187 145.3,187 145.5,187 145.7,187 145.9,187 146,187 146.2,187 146.4,187 146.6,187 146.7,187 146.9,187 147.1,187 147.3,187 147.4,187 147.6,187 147.8,187 148,187 148.1,187 148.3,187 148.5,187 148.7,187 148.8,187 149,187 149.2,187 149.4,187 149.5,187 149.7,187 149.9,187 150.1,187 150.2,187 150.4,187 150.6,187 150.8,187 150.9,187 151.1,187 151.3,187 151.4,187 151.6,187 151.8,187 152,187 152.1,187 152.3,187 152.5,187 152.7,187 152.8,187 153,187 153.2,187 153.4,187 153.5,187 153.7,187 153.9,187 154.1,187 154.2,187 154.4,187 154.6,187 154.8,187 154.9,187 155.1,187 155.3,187 155.5,187 155.6,187 155.8,187 156,187 156.2,187 156.3,187 156.5,187 156.7,187 156.9,187 157,187 157.2,187 157.4,187 157.6,187 157.7,187 157.9,187 158.1,187 158.3,187 158.4,187 158.6,187 158.8,187 159,187 159.1,187 159.3,187 159.5,187 159.7,187 159.8,187 160,187 160.2,187 160.3,187 160.5,187 160.7,187 160.9,187 161,187 161.2,187 161.4,187 161.6,187 161.7,187 161.9,187 162.1,187 162.3,187 162.4,187 162.6,187 162.8,187 163,187 163.1,187 163.3,187 163.5,187 163.7,187 163.8,187 164,187 164.2,187 164.4,187 164.5,187 164.7,187 164.9,187 165.1,187 165.2,187 165.4,187 165.6,187 165.8,187 165.9,187 166.1,187 166.3,187 166.5,187 166.6,187 166.8,187 167,187 167.2,187 167.3,187 167.5,187 167.7,187 167.9,187 168,187 168.2,187 168.4,187 168.6,187 168.7,187 168.9,187 169.1,187 169.2,187 169.4,187 169.6,187 169.8,187 169.9,187 170.1,187 170.3,187 170.5,187 170.6,187 170.8,187 171,187 171.2,187 171.3,187 171.5,187 171.7,187 171.9,187 172,187 172.2,187 172.4,187 172.6,187 172.7,187 172.9,187 173.1,187 173.3,187 173.4,187 173.6,187 173.8,187 174,187 174.1,187 174.3,187 174.5,187 174.7,187 174.8,187 175,187 175.2,187 175.4,187 175.5,187 175.7,187 175.9,187 176.1,187 176.2,187 176.4,187 176.6,187 176.8,187 176.9,187 177.1,187 177.3,187 177.5,187 177.6,187 177.8,187 178,187 178.1,187 178.3,187 178.5,187 178.7,187 178.8,187 179,187 179.2,187 179.4,187 179.5,187 179.7,187 179.9,187 180.1,187 180.2,187 180.4,187 180.6,187 180.8,187 180.9,187 181.1,187 181.3,187 181.5,187 181.6,187 181.8,187 182,187 182.2,187 182.3,187 182.5,187 182.7,187 182.9,187 183,187 183.2,187 183.4,187 183.6,187 183.7,187 183.9,187 184.1,187 184.3,187 184.4,187 184.6,187 184.8,187 185,187 185.1,187 185.3,187 185.5,187 185.7,187 185.8,187 186,187 186.2,187 186.3,187 186.5,187 186.7,187 186.9,187 187,187 187.2,187 187.4,187 187.6,187 187.7,187 187.9,187 188.1,187 188.3,187 188.4,187 188.6,187 188.8,187 189,187 189.1,187 189.3,187 189.5,187 189.7,187 189.8,187 190,187 190.2,187 190.4,187 190.5,187 190.7,187 190.9,187 191.1,187 191.2,187 191.4,187 191.6,187 191.8,187 191.9,187 192.1,187 192.3,187 192.5,187 192.6,187 192.8,187 193,187 193.2,187 193.3,187 193.5,187 193.7,187 193.9,187 194,187 194.2,187 194.4,187 194.6,187 194.7,187 194.9,187 195.1,187 195.2,187 195.4,187 195.6,187 195.8,187 195.9,187 196.1,187 196.3,187 196.5,187 196.6,187 196.8,187 197,187 197.2,187 197.3,187 197.5,187 197.7,187 197.9,187 198,187 198.2,187 198.4,187 198.6,187 198.7,187 198.9,187 199.1,187 199.3,187 199.4,187 199.6,187 199.8,187 200,187 200.1,187 200.3,187 200.5,187 200.7,187 200.8,187 201,187 201.2,187 201.4,187 201.5,187 201.7,187 201.9,187 202.1,187 202.2,187 202.4,187 202.6,187 202.8,187 202.9,187 203.1,187 203.3,187 203.5,187 203.6,187 203.8,187 204,187 204.1,187 204.3,187 204.5,187 204.7,187 204.8,187 205,187 205.2,187 205.4,187 205.5,187 205.7,187 205.9,187 206.1,187 206.2,187 206.4,187 206.6,187 206.8,187 206.9,187 207.1,187 207.3,187 207.5,187 207.6,187 207.8,187 208,187 208.2,187 208.3,187 208.5,187 208.7,187 208.9,187 209,187 209.2,187 209.4,187 209.6,187 209.7,187 209.9,187 210.1,187 210.3,187 210.4,187 210.6,187 210.8,187 211,187 211.1,187 211.3,187 211.5,187 211.7,187 211.8,187 212,187 212.2,187 212.4,187 212.5,187 212.7,187 212.9,187 213,187 213.2,187 213.4,187 213.6,187 213.7,187 213.9,187 214.1,187 214.3,187 214.4,187 214.6,187 214.8,187 215,187 215.1,187 215.3,187 215.5,187 215.7,187 215.8,187 216,187 216.2,187 216.4,187 216.5,187 216.7,187 216.9,187 217.1,187 217.2,187 217.4,187 217.6,187 217.8,187 217.9,187 218.1,187 218.3,187 218.5,187 218.6,187 218.8,187 219,187 219.2,187 219.3,187 219.5,187 219.7,187 219.9,187 220,187 220.2,187 220.4,187 220.6,187 220.7,187 220.9,187 221.1,187 221.2,187 221.4,187 221.6,187 221.8,187 221.9,187 222.1,187 222.3,187 222.5,187 222.6,187 222.8,187 223,187 223.2,187 223.3,187 223.5,187 223.7,187 223.9,187 224,187 224.2,187 224.4,187 224.6,187 224.7,187 224.9,187 225.1,187 225.3,187 225.4,187 225.6,187 225.8,187 226,187 226.1,187 226.3,187 226.5,187 226.7,187 226.8,187 227,187 227.2,187 227.4,187 227.5,187 227.7,187 227.9,187 228.1,187 228.2,187 228.4,187 228.6,187 228.8,187 228.9,187 229.1,187 229.3,187 229.5,187 229.6,187 229.8,187 230,187 230.1,187 230.3,187 230.5,187 230.7,187 230.8,187 231,187 231.2,187 231.4,187 231.5,187 231.7,187 231.9,187 232.1,187 232.2,187 232.4,187 232.6,187 232.8,187 232.9,187 233.1,187 233.3,187 233.5,187 233.6,187 233.8,187 234,187 234.2,187 234.3,187 234.5,187 234.7,187 234.9,187 235,187 235.2,187 235.4,187 235.6,187 235.7,187 235.9,187 236.1,187 236.3,187 236.4,187 236.6,187 236.8,187 237,187 237.1,187 237.3,187 237.5,187 237.7,187 237.8,187 238,187 238.2,187 238.4,187 238.5,187 238.7,187 238.9,187 239,187 239.2,187 239.4,187 239.6,187 239.7,187 239.9,187 240.1,187 240.3,187 240.4,187 240.6,187 240.8,187 241,187 241.1,187 241.3,187 241.5,187 241.7,187 241.8,187 242,187 242.2,187 242.4,187 242.5,187 242.7,187 242.9,187 243.1,187 243.2,187 243.4,187 243.6,187 243.8,187 243.9,187 244.1,187 244.3,187 244.5,187 244.6,187 244.8,187 245,187 245.2,187 245.3,187 245.5,187 245.7,187 245.9,187 246,187 246.2,187 246.4,187 246.6,187 246.7,187 246.9,187 247.1,187 247.3,187 247.4,187 247.6,187 247.8,187 247.9,187 248.1,187 248.3,187 248.5,187 248.6,187 248.8,187 249,187 249.2,187 249.3,187 249.5,187 249.7,187 249.9,187 250,187 250.2,187 250.4,187 250.6,187 250.7,187 250.9,187 251.1,187 251.3,187 251.4,187 251.6,187 251.8,187 252,187 252.1,187 252.3,187 252.5,187 252.7,187 252.8,187 253,187 253.2,187 253.4,187 253.5,187 253.7,187 253.9,187 254.1,187 254.2,187 254.4,187 254.6,187 254.8,187 254.9,187 255.1,187 255.3,187 255.5,187 255.6,187 255.8,187 256,187 256.1,187 256.3,187 256.5,187 256.7,187 256.8,187 257,187 257.2,187 257.4,187 257.5,187 257.7,187 257.9,187 258.1,187 258.2,187 258.4,187 258.6,187 258.8,187 258.9,187 259.1,187 259.3,187 259.5,187 259.6,187 259.8,187 260,187 260.2,187 260.3,187 260.5,187 260.7,187 260.9,187 261,187 261.2,187 261.4,187 261.6,187 261.7,187 261.9,187 262.1,187 262.3,187 262.4,187 262.6,187 262.8,187 263,187 263.1,187 263.3,187 263.5,187 263.7,187 263.8,187 264,187 264.2,187 264.4,187 264.5,187 264.7,187 264.9,187 265,187 265.2,187 265.4,187 265.6,187 265.7,187 265.9,187 266.1,187 266.3,187 266.4,187 266.6,187 266.8,187 267,187 267.1,187 267.3,187 267.5,187 267.7,187 267.8,187 268,187 268.2,187 268.4,187 268.5,187 268.7,187 268.9,187 269.1,187 269.2,187 269.4,187 269.6,187 269.8,187 269.9,187 270.1,187 270.3,187 270.5,187 270.6,187 270.8,187 271,187 271.2,187 271.3,187 271.5,187 271.7,187 271.9,187 272,187 272.2,187 272.4,187 272.6,187 272.7,187 272.9,187 273.1,187 273.3,187 273.4,187 273.6,187 273.8,187 273.9,187 274.1,187 274.3,187 274.5,187 274.6,187 274.8,187 275,187 275.2,187 275.3,187 275.5,187 275.7,187 275.9,187 276,187 276.2,187 276.4,187 276.6,187 276.7,187 276.9,187 277.1,187 277.3,187 277.4,187 277.6,187 277.8,187 278,187 278.1,187 278.3,187 278.5,187 278.7,187 278.8,187 279,187 279.2,187 279.4,187 279.5,187 279.7,187 279.9,187 280.1,187 280.2,187 280.4,187 280.6,187 280.8,187 280.9,187 281.1,187 281.3,187 281.5,187 281.6,187 281.8,187 282,187 282.2,187 282.3,187 282.5,187 282.7,187 282.8,187 283,187 283.2,187 283.4,187 283.5,187 283.7,187 283.9,187 284.1,187 284.2,187 284.4,187 284.6,187 284.8,187 284.9,187 285.1,187 285.3,187 285.5,187 285.6,187 285.8,187 286,187 286.2,187 286.3,187 286.5,187 286.7,187 286.9,187 287,187 287.2,187 287.4,187 287.6,187 287.7,187 287.9,187 288.1,187 288.3,187 288.4,187 288.6,187 288.8,187 289,187 289.1,187 289.3,187 289.5,187 289.7,187 289.8,187 290,187 290.2,187 290.4,187 290.5,187 290.7,187 290.9,187 291.1,187 291.2,187 291.4,187 291.6,187 291.7,187 291.9,187 292.1,187 292.3,187 292.4,187 292.6,187 292.8,187 293,187 293.1,187 293.3,187 293.5,187 293.7,187 293.8,187 294,187 294.2,187 294.4,187 294.5,187 294.7,187 294.9,187 295.1,187 295.2,187 295.4,187 295.6,187 295.8,187 295.9,187 296.1,187 296.3,187 296.5,187 296.6,187 296.8,187 297,187 297.2,187 297.3,187 297.5,187 297.7,187 297.9,187 298,187 298.2,187 298.4,187 298.6,187 298.7,187 298.9,187 299.1,187 299.3,187 299.4,187 299.6,187 299.8,187 299.9,187 300.1,187 300.3,187 300.5,187 300.6,187 300.8,187 301,187 301.2,187 301.3,187 301.5,187 301.7,187 301.9,187 302,187 302.2,187 302.4,187 302.6,187 302.7,187 302.9,187 303.1,187 303.3,187 303.4,187 303.6,187 303.8,187 304,187 304.1,187 304.3,187 304.5,187 304.7,187 304.8,187 305,187 305.2,187 305.4,187 305.5,187 305.7,187 305.9,187 306.1,187 306.2,187 306.4,187 306.6,187 306.8,187 306.9,187 307.1,187 307.3,187 307.5,187 307.6,187 307.8,187 308,187 308.2,187 308.3,187 308.5,187 308.7,187 308.8,187 309,187 309.2,187 309.4,187 309.5,187 309.7,187 309.9,187 310.1,187 310.2,187 310.4,187 310.6,187 310.8,187 310.9,187 311.1,187 311.3,187 311.5,187 311.6,187 311.8,187 312,187 312.2,187 312.3,187 312.5,187 312.7,187 312.9,187 313,187 313.2,187 313.4,187 313.6,187 313.7,187 313.9,187 314.1,187 314.3,187 314.4,187 314.6,187 314.8,187 315,187 315.1,187 315.3,187 315.5,187 315.7,187 315.8,187 316,187 316.2,187 316.4,187 316.5,187 316.7,187 316.9,187 317.1,187 317.2,187 317.4,187 317.6,187 317.7,187 317.9,187 318.1,187 318.3,187 318.4,187 318.6,187 318.8,187 319,187 319.1,187 319.3,187 319.5,187 319.7,187 319.8,187 320,187 320.2,187 320.4,187 320.5,187 320.7,187 320.9,187 321.1,187 321.2,187 321.4,187 321.6,187 321.8,187 321.9,187 322.1,187 322.3,187 322.5,187 322.6,187 322.8,187 323,187 323.2,187 323.3,187 323.5,187 323.7,187 323.9,187 324,187 324.2,187 324.4,187 324.6,187 324.7,187 324.9,187 325.1,187 325.3,187 325.4,187 325.6,187 325.8,187 326,187 326.1,187 326.3,187 326.5,187 326.6,187 326.8,187 327,187 327.2,187 327.3,187 327.5,187 327.7,187 327.9,187 328,187 328.2,187 328.4,187 328.6,187 328.7,187 328.9,187 329.1,187 329.3,187 329.4,187 329.6,187 329.8,187 330,187 330.1,187 330.3,187 330.5,187 330.7,187 330.8,187 331,187 331.2,187 331.4,187 331.5,187 331.7,187 331.9,187 332.1,187 332.2,187 332.4,187 332.6,187 332.8,187 332.9,187 333.1,187 333.3,187 333.5,187 333.6,187 333.8,187 334,187 334.2,187 334.3,187 334.5,187 334.7,187 334.8,187 335,187 335.2,187 335.4,187 335.5,187 335.7,187 335.9,187 336.1,187 336.2,187 336.4,187 336.6,187 336.8,187 336.9,187 337.1,187 337.3,187 337.5,187 337.6,187 337.8,187 338,187 338.2,187 338.3,187 338.5,187 338.7,187 338.9,187 339,187 339.2,187 339.4,187 339.6,187 339.7,187 339.9,187 340.1,187 340.3,187 340.4,187 340.6,187 340.8,187 341,187 341.1,187 341.3,187 341.5,187 341.7,187 341.8,187 342,187 342.2,187 342.4,187 342.5,187 342.7,187 342.9,187 343.1,187 343.2,187 343.4,187 343.6,187 343.7,187 343.9,187 344.1,187 344.3,187 344.4,187 344.6,187 344.8,187 345,187 345.1,187 345.3,187 345.5,187 345.7,187 345.8,187 346,187 346.2,187 346.4,187 346.5,187 346.7,187 346.9,187 347.1,187 347.2,187 347.4,187 347.6,187 347.8,187 347.9,187 348.1,187 348.3,187 348.5,187 348.6,187 348.8,187 349,187 349.2,187 349.3,187 349.5,187 349.7,187 349.9,187 350,187 350.2,187 350.4,187 350.6,187 350.7,187 350.9,187 351.1,187 351.3,187 351.4,187 351.6,187 351.8,187 352,187 352.1,187 352.3,187 352.5,187 352.6,187 352.8,187 353,187 353.2,187 353.3,187 353.5,187 353.7,187 353.9,187 354,187 354.2,187 354.4,187 354.6,187 354.7,187 354.9,187 355.1,187 355.3,187 355.4,187 355.6,187 355.8,187 356,187 356.1,187 356.3,187 356.5,187 356.7,187 356.8,187 357,187 357.2,187 357.4,187 357.5,187 357.7,187 357.9,187 358.1,187 358.2,187 358.4,187 358.6,187 358.8,187 358.9,187 359.1,187 359.3,187 359.5,187 359.6,187 359.8,187 360,187 360.2,187 360.3,187 360.5,187 360.7,187 360.9,187 361,187 361.2,187 361.4,187 361.5,187 361.7,187 361.9,187 362.1,187 362.2,187 362.4,187 362.6,187 362.8,187 362.9,187 363.1,187 363.3,187 363.5,187 363.6,187 363.8,187 364,187 364.2,187 364.3,187 364.5,187 364.7,187 364.9,187 365,187 365.2,187 365.4,187 365.6,187 365.7,187 365.9,187 366.1,187 366.3,187 366.4,187 366.6,187 366.8,187 367,187 367.1,187 367.3,187 367.5,187 367.7,187 367.8,187 368,187 368.2,187 368.4,187 368.5,187 368.7,187 368.9,187 369.1,187 369.2,187 369.4,187 369.6,187 369.7,187 369.9,187 370.1,187 370.3,187 370.4,187 370.6,187 370.8,187 371,187 371.1,187 371.3,187 371.5,187 371.7,187 371.8,187 372,187 372.2,187 372.4,187 372.5,187 372.7,187 372.9,187 373.1,187 373.2,187 373.4,187 373.6,187 373.8,187 373.9,187 374.1,187 374.3,187 374.5,187 374.6,187 374.8,187 375,187 375.2,187 375.3,187 375.5,187 375.7,187 375.9,187 376,187 376.2,187 376.4,187 376.6,187 376.7,187 376.9,187 377.1,187 377.3,187 377.4,187 377.6,187 377.8,187 378,187 378.1,187 378.3,187 378.5,187 378.6,187 378.8,187 379,187 379.2,187 379.3,187 379.5,187 379.7,187 379.9,187 380,187 380.2,187 380.4,187 380.6,187 380.7,187 380.9,187 381.1,187 381.3,187 381.4,187 381.6,187 381.8,187 382,187 382.1,187 382.3,187 382.5,187 382.7,187 382.8,187 383,187 383.2,187 383.4,187 383.5,187 383.7,187 383.9,187 384.1,187 384.2,187 384.4,187 384.6,187 384.8,187 384.9,187 385.1,187 385.3,187 385.5,187 385.6,187 385.8,187 386,187 386.2,187 386.3,187 386.5,187 386.7,187 386.9,187 387,187 387.2,187 387.4,187 387.5,187 387.7,187 387.9,187 388.1,187 388.2,187 388.4,187 388.6,187 388.8,187 388.9,187 389.1,187 389.3,187 389.5,187 389.6,187 389.8,187 390,187 390.2,187 390.3,187 390.5,187 390.7,187 390.9,187 391,187 391.2,187 391.4,187 391.6,187 391.7,187 391.9,187 392.1,187 392.3,187 392.4,187 392.6,187 392.8,187 393,187 393.1,187 393.3,187 393.5,187 393.7,187 393.8,187 394,187 394.2,187 394.4,187 394.5,187 394.7,187 394.9,187 395.1,187 395.2,187 395.4,187 395.6,187 395.8,187 395.9,187 396.1,187 396.3,187 396.4,187 396.6,187 396.8,187 397,187 397.1,187 397.3,187 397.5,187 397.7,187 397.8,187 398,187 398.2,187 398.4,187 398.5,187 398.7,187 398.9,187 399.1,187 399.2,187 399.4,187 399.6,187 399.8,187 399.9,187 400.1,187 400.3,187 400.5,187 400.6,187 400.8,187 401,187 401.2,187 401.3,187 401.5,187 401.7,187 401.9,187 402,187 402.2,187 402.4,187 402.6,187 402.7,187 402.9,187 403.1,187 403.3,187 403.4,187 403.6,187 403.8,187 404,187 404.1,187 404.3,187 404.5,187 404.6,187 404.8,187 405,187 405.2,187 405.3,187 405.5,187 405.7,187 405.9,187 406,187 406.2,187 406.4,187 406.6,187 406.7,187 406.9,187 407.1,187 407.3,187 407.4,187 407.6,187 407.8,187 408,187 408.1,187 408.3,187 408.5,187 408.7,187 408.8,187 409,187 409.2,187 409.4,187 409.5,187 409.7,187 409.9,187 410.1,187 410.2,187 410.4,187 410.6,187 410.8,187 410.9,187 411.1,187 411.3,187 411.5,187 411.6,187 411.8,187 412,187 412.2,187 412.3,187 412.5,187 412.7,187 412.9,187 413,187 413.2,187 413.4,187 413.5,187 413.7,187 413.9,187 414.1,187 414.2,187 414.4,187 414.6,187 414.8,187 414.9,187 415.1,187 415.3,187 415.5,187 415.6,187 415.8,187 416,187 416.2,187 416.3,187 416.5,187 416.7,187 416.9,187 417,187 417.2,187 417.4,187 417.6,187 417.7,187 417.9,187 418.1,187 418.3,187 418.4,187 418.6,187 418.8,187 419,187 419.1,187 419.3,187 419.5,187 419.7,187 419.8,187 420,187 420.2,187 420.4,187 420.5,187 420.7,187 420.9,187 421.1,187 421.2,187 421.4,187 421.6,187 421.8,187 421.9,187 422.1,187 422.3,187 422.4,187 422.6,187 422.8,187 423,187 423.1,187 423.3,187 423.5,187 423.7,187 423.8,187 424,187 424.2,187 424.4,187 424.5,187 424.7,187 424.9,187 425.1,187 425.2,187 425.4,187 425.6,187 425.8,187 425.9,187 426.1,187 426.3,187 426.5,187 426.6,187 426.8,187 427,187 427.2,187 427.3,187 427.5,187 427.7,187 427.9,187 428,187 428.2,187 428.4,187 428.6,187 428.7,187 428.9,187 429.1,187 429.3,187 429.4,187 429.6,187 429.8,187 430,187 430.1,187 430.3,187 430.5,187 430.7,187 430.8,187 431,187 431.2,187 431.3,187 431.5,187 431.7,187 431.9,187 432,187 432.2,187 432.4,187 432.6,187 432.7,187 432.9,187 433.1,187 433.3,187 433.4,187 433.6,187 433.8,187 434,187 434.1,187 434.3,187 434.5,187 434.7,187 434.8,187 435,187 435.2,187 435.4,187 435.5,187 435.7,187 435.9,187 436.1,187 436.2,187 436.4,187 436.6,187 436.8,187 436.9,187 437.1,187 437.3,187 437.5,187 437.6,187 437.8,187 438,187 438.2,187 438.3,187 438.5,187 438.7,187 438.9,187 439,187 439.2,187 439.4,187 439.5,187 439.7,187 439.9,187 440.1,187 440.2,187 440.4,187 440.6,187 440.8,187 440.9,187 441.1,187 441.3,187 441.5,187 441.6,187 441.8,187 442,187 442.2,187 442.3,187 442.5,187 442.7,187 442.9,187 443,187 443.2,187 443.4,187 443.6,187 443.7,187 443.9,187 444.1,187 444.3,187 444.4,187 444.6,187 444.8,187 445,187 445.1,187 445.3,187 445.5,187 445.7,187 445.8,187 446,187 446.2,187 446.4,187 446.5,187 446.7,187 446.9,187 447.1,187 447.2,187 447.4,187 447.6,187 447.8,187 447.9,187 448.1,187 448.3,187 448.4,187 448.6,187 448.8,187 449,187 449.1,187 449.3,187 449.5,187 449.7,187 449.8,187 450,187 450.2,187 450.4,187 450.5,187 450.7,187 450.9,187 451.1,187 451.2,187 451.4,187 451.6,187 451.8,187 451.9,187 452.1,187 452.3,187 452.5,187 452.6,187 452.8,187 453,187 453.2,187 453.3,187 453.5,187 453.7,187 453.9,187 454,187 454.2,187 454.4,187 454.6,187 454.7,187 454.9,187 455.1,187 455.3,187 455.4,187 455.6,187 455.8,187 456,187 456.1,187 456.3,187 456.5,187 456.7,187 456.8,187 457,187 457.2,187 457.3,187 457.5,187 457.7,187 457.9,187 458,187 458.2,187 458.4,187 458.6,187 458.7,187 458.9,187 459.1,187 459.3,187 459.4,187 459.6,187 459.8,187 460,187 460.1,187 460.3,187 460.5,187 460.7,187 460.8,187 461,187 461.2,187 461.4,187 461.5,187 461.7,187 461.9,187 462.1,187 462.2,187 462.4,187 462.6,187 462.8,187 462.9,187 463.1,187 463.3,187 463.5,187 463.6,187 463.8,187 464,187 464.2,187 464.3,187 464.5,187 464.7,187 464.9,187 465,187 465.2,187 465.4,187 465.6,187 465.7,187 465.9,187 466.1,187 466.2,187 466.4,187 466.6,187 466.8,187 466.9,187 467.1,187 467.3,187 467.5,187 467.6,187 467.8,187 468,187 468.2,187 468.3,187 468.5,187 468.7,187 468.9,187 469,187 469.2,187 469.4,187 469.6,187 469.7,187 469.9,187 470.1,187 470.3,187 470.4,187 470.6,187 470.8,187 471,187 471.1,187 471.3,187 471.5,187 471.7,187 471.8,187 472,187 472.2,187 472.4,187 472.5,187 472.7,187 472.9,187 473.1,187 473.2,187 473.4,187 473.6,187 473.8,187 473.9,187 474.1,187 474.3,187 474.4,187 474.6,187 474.8,187 475,187 475.1,187 475.3,187 475.5,187 475.7,187 475.8,187 476,187 476.2,187 476.4,187 476.5,187 476.7,187 476.9,187 477.1,187 477.2,187 477.4,187 477.6,187 477.8,187 477.9,187 478.1,187 478.3,187 478.5,187 478.6,187 478.8,187 479,187 479.2,187 479.3,187 479.5,187 479.7,187 479.9,187 480,187 480.2,187 480.4,187 480.6,187 480.7,187 480.9,187 481.1,187 481.3,187 481.4,187 481.6,187 481.8,187 482,187 482.1,187 482.3,187 482.5,187 482.7,187 482.8,187 483,187"/>
</g>
<text transform="translate(120,58.9) scale(1.0000,1.0630)" font-size="39" text-anchor="end" fill="#262626" font-family="'Liberation Sans', Arial, Helvetica, sans-serif" stroke="#262626" stroke-width="0.5">100</text>
<text transform="translate(120,202.6) scale(1.0000,1.0630)" font-size="39" text-anchor="end" fill="#262626" font-family="'Liberation Sans', Arial, Helvetica, sans-serif" stroke="#262626" stroke-width="0.5">0</text>
<text transform="translate(120,345.9) scale(1.0000,1.0630)" font-size="39" text-anchor="end" fill="#262626" font-family="'Liberation Sans', Arial, Helvetica, sans-serif" stroke="#262626" stroke-width="0.5">-100</text>
<text transform="translate(132.8,382.6) scale(1.0000,1.0630)" font-size="39" text-anchor="middle" fill="#262626" font-family="'Liberation Sans', Arial, Helvetica, sans-serif" stroke="#262626" stroke-width="0.5">-100</text>
<text transform="translate(307.3,382.6) scale(1.0000,1.0630)" font-size="39" text-anchor="middle" fill="#262626" font-family="'Liberation Sans', Arial, Helvetica, sans-serif" stroke="#262626" stroke-width="0.5">-50</text>
<text transform="translate(481.8,382.6) scale(1.0000,1.0630)" font-size="39" text-anchor="middle" fill="#262626" font-family="'Liberation Sans', Arial, Helvetica, sans-serif" stroke="#262626" stroke-width="0.5">0</text>
<text x="420" y="82.5" font-size="43.9" text-anchor="start" fill="#000" font-family="'Liberation Sans', Arial, Helvetica, sans-serif">(a)</text>
<text transform="translate(66.3,187.5) rotate(-90)" font-size="44.2" text-anchor="middle" fill="#262626" font-family="'Liberation Serif', 'DejaVu Serif', serif">Γ</text>
<g fill="#262626" font-family="'Liberation Serif', 'DejaVu Serif', serif">
<text transform="translate(265.92,432.5) scale(1.181,1)" font-size="46.3">Δ</text>
<text transform="translate(303.5,442.8) skewX(-5.3) scale(1,1.382)" font-size="45">/</text>
<text transform="translate(322.9,432.5) scale(1.04,0.95)" font-size="41.7" font-style="italic">v</text>
<text x="343.2" y="439.9" font-size="28.2" font-style="italic">g</text>
</g>
<clipPath id="clip_b"><rect x="664.2" y="44" width="349.95" height="289.2"/></clipPath>
<rect x="664.9" y="45.6" width="348.55" height="286" fill="none" stroke="#262626" stroke-width="1.4"/>
<path d="M664.9,331.6v-3.9M664.9,45.6v3.9M839.17,331.6v-3.9M839.17,45.6v3.9M1013.45,331.6v-3.9M1013.45,45.6v3.9M664.9,331.6h3.9M1013.45,331.6h-3.9M664.9,188.6h3.9M1013.45,188.6h-3.9M664.9,45.6h3.9M1013.45,45.6h-3.9" stroke="#262626" stroke-width="1.4" fill="none"/>
<g clip-path="url(#clip_b)" fill="none" stroke-width="2.45" stroke-linejoin="round" stroke-linecap="butt">
<polyline stroke="#0000ff" points="664.9,120 665.1,115.2 665.2,110.4 665.4,105.7 665.6,101.1 665.8,96.6 665.9,92.2 666.1,87.9 666.3,83.8 666.5,79.8 666.6,75.9 666.8,72.2 667,68.7 667.2,65.4 667.3,62.3 667.5,59.4 667.7,56.7 667.9,54.3 668,52.1 668.2,50.2 668.4,48.7 668.6,47.4 668.7,46.5 668.9,46 669.1,45.8 669.3,46 669.4,46.6 669.6,47.7 669.8,49.2 670,51.1 670.1,53.6 670.3,56.5 670.5,59.9 670.7,63.9 670.8,68.3 671,73.2 671.2,78.7 671.3,84.6 671.5,91 671.7,97.9 671.9,105.3 672,113.1 672.2,121.2 672.4,129.7 672.6,138.6 672.7,147.7 672.9,157 673.1,166.5 673.3,176.2 673.4,185.9 673.6,195.6 673.8,205.3 674,214.8 674.1,224.3 674.3,233.5 674.5,242.5 674.7,251.1 674.8,259.5 675,267.4 675.2,275 675.4,282.1 675.5,288.7 675.7,294.9 675.9,300.5 676.1,305.7 676.2,310.4 676.4,314.5 676.6,318.1 676.8,321.3 676.9,323.9 677.1,326.1 677.3,327.8 677.4,329.1 677.6,329.9 677.8,330.3 678,330.3 678.1,329.9 678.3,329.1 678.5,328 678.7,326.6 678.8,324.9 679,322.9 679.2,320.7 679.4,318.1 679.5,315.4 679.7,312.4 679.9,309.3 680.1,305.9 680.2,302.4 680.4,298.7 680.6,294.9 680.8,290.9 680.9,286.8 681.1,282.6 681.3,278.3 681.5,273.9 681.6,269.4 681.8,264.8 682,260.2 682.2,255.5 682.3,250.7 682.5,245.9 682.7,241 682.9,236.2 683,231.2 683.2,226.3 683.4,221.3 683.5,216.3 683.7,211.3 683.9,206.2 684.1,201.2 684.2,196.2 684.4,191.1 684.6,186.1 684.8,181.1 684.9,176 685.1,171 685.3,166.1 685.5,161.1 685.6,156.2 685.8,151.3 686,146.4 686.2,141.6 686.3,136.8 686.5,132.1 686.7,127.5 686.9,122.9 687,118.3 687.2,113.9 687.4,109.5 687.6,105.2 687.7,101.1 687.9,97 688.1,93 688.3,89.2 688.4,85.5 688.6,81.9 688.8,78.5 688.9,75.3 689.1,72.3 689.3,69.4 689.5,66.8 689.6,64.3 689.8,62.2 690,60.2 690.2,58.6 690.3,57.2 690.5,56.2 690.7,55.4 690.9,55 691,55 691.2,55.3 691.4,56 691.6,57.2 691.7,58.7 691.9,60.7 692.1,63.1 692.3,66 692.4,69.4 692.6,73.2 692.8,77.6 693,82.3 693.1,87.6 693.3,93.3 693.5,99.5 693.7,106.1 693.8,113.1 694,120.5 694.2,128.3 694.4,136.3 694.5,144.7 694.7,153.3 694.9,162.1 695,171.1 695.2,180.1 695.4,189.2 695.6,198.3 695.7,207.3 695.9,216.2 696.1,225 696.3,233.5 696.4,241.8 696.6,249.8 696.8,257.5 697,264.8 697.1,271.7 697.3,278.2 697.5,284.3 697.7,289.9 697.8,295 698,299.7 698.2,303.9 698.4,307.6 698.5,310.8 698.7,313.6 698.9,315.9 699.1,317.8 699.2,319.3 699.4,320.3 699.6,320.9 699.8,321.1 699.9,321 700.1,320.5 700.3,319.7 700.5,318.6 700.6,317.2 700.8,315.5 701,313.5 701.1,311.3 701.3,308.9 701.5,306.3 701.7,303.4 701.8,300.4 702,297.2 702.2,293.8 702.4,290.4 702.5,286.7 702.7,283 702.9,279.1 703.1,275.1 703.2,271.1 703.4,266.9 703.6,262.7 703.8,258.4 703.9,254.1 704.1,249.6 704.3,245.2 704.5,240.7 704.6,236.1 704.8,231.5 705,226.9 705.2,222.3 705.3,217.6 705.5,213 705.7,208.3 705.9,203.6 706,198.9 706.2,194.2 706.4,189.5 706.6,184.8 706.7,180.1 706.9,175.4 707.1,170.7 707.2,166.1 707.4,161.5 707.6,156.9 707.8,152.3 707.9,147.8 708.1,143.3 708.3,138.9 708.5,134.5 708.6,130.2 708.8,125.9 709,121.7 709.2,117.6 709.3,113.6 709.5,109.6 709.7,105.7 709.9,102 710,98.3 710.2,94.8 710.4,91.4 710.6,88.1 710.7,85 710.9,82.1 711.1,79.3 711.3,76.7 711.4,74.3 711.6,72.1 711.8,70.2 712,68.5 712.1,67 712.3,65.8 712.5,65 712.7,64.4 712.8,64.1 713,64.2 713.2,64.6 713.3,65.4 713.5,66.6 713.7,68.2 713.9,70.2 714,72.6 714.2,75.5 714.4,78.8 714.6,82.5 714.7,86.7 714.9,91.3 715.1,96.3 715.3,101.8 715.4,107.7 715.6,114 715.8,120.7 716,127.7 716.1,135 716.3,142.6 716.5,150.5 716.7,158.6 716.8,166.8 717,175.2 717.2,183.6 717.4,192.1 717.5,200.5 717.7,208.9 717.9,217.2 718.1,225.3 718.2,233.1 718.4,240.8 718.6,248.1 718.8,255.2 718.9,261.8 719.1,268.1 719.3,274.1 719.4,279.6 719.6,284.6 719.8,289.2 720,293.4 720.1,297.2 720.3,300.5 720.5,303.3 720.7,305.8 720.8,307.8 721,309.4 721.2,310.6 721.4,311.4 721.5,311.9 721.7,312 721.9,311.7 722.1,311.2 722.2,310.3 722.4,309.2 722.6,307.8 722.8,306.1 722.9,304.2 723.1,302.1 723.3,299.7 723.5,297.2 723.6,294.5 723.8,291.6 724,288.6 724.2,285.5 724.3,282.2 724.5,278.7 724.7,275.2 724.9,271.6 725,267.9 725.2,264.1 725.4,260.2 725.5,256.2 725.7,252.2 725.9,248.1 726.1,244 726.2,239.9 726.4,235.7 726.6,231.4 726.8,227.1 726.9,222.9 727.1,218.5 727.3,214.2 727.5,209.8 727.6,205.5 727.8,201.1 728,196.8 728.2,192.4 728.3,188 728.5,183.7 728.7,179.3 728.9,175 729,170.7 729.2,166.4 729.4,162.1 729.6,157.8 729.7,153.6 729.9,149.4 730.1,145.3 730.3,141.2 730.4,137.2 730.6,133.2 730.8,129.2 731,125.3 731.1,121.5 731.3,117.8 731.5,114.2 731.6,110.6 731.8,107.2 732,103.8 732.2,100.6 732.3,97.5 732.5,94.5 732.7,91.7 732.9,89 733,86.5 733.2,84.1 733.4,82 733.6,80 733.7,78.3 733.9,76.8 734.1,75.6 734.3,74.6 734.4,73.8 734.6,73.4 734.8,73.3 735,73.5 735.1,74 735.3,74.9 735.5,76.1 735.7,77.7 735.8,79.7 736,82.1 736.2,84.8 736.4,88 736.5,91.6 736.7,95.6 736.9,100.1 737,104.9 737.2,110.1 737.4,115.7 737.6,121.6 737.7,127.9 737.9,134.5 738.1,141.4 738.3,148.5 738.4,155.9 738.6,163.4 738.8,171.1 739,178.9 739.1,186.7 739.3,194.6 739.5,202.4 739.7,210.1 739.8,217.7 740,225.1 740.2,232.3 740.4,239.3 740.5,246 740.7,252.4 740.9,258.5 741.1,264.2 741.2,269.5 741.4,274.5 741.6,279 741.8,283.2 741.9,286.9 742.1,290.2 742.3,293.2 742.5,295.7 742.6,297.8 742.8,299.5 743,300.9 743.1,301.8 743.3,302.5 743.5,302.8 743.7,302.8 743.8,302.4 744,301.8 744.2,300.9 744.4,299.8 744.5,298.4 744.7,296.8 744.9,294.9 745.1,292.9 745.2,290.7 745.4,288.3 745.6,285.7 745.8,283 745.9,280.2 746.1,277.2 746.3,274.1 746.5,270.9 746.6,267.6 746.8,264.2 747,260.8 747.2,257.2 747.3,253.6 747.5,249.9 747.7,246.2 747.9,242.4 748,238.6 748.2,234.7 748.4,230.8 748.6,226.9 748.7,223 748.9,219 749.1,215 749.2,211 749.4,207 749.6,202.9 749.8,198.9 749.9,194.9 750.1,190.8 750.3,186.8 750.5,182.8 750.6,178.8 750.8,174.8 751,170.8 751.2,166.8 751.3,162.9 751.5,159 751.7,155.1 751.9,151.3 752,147.5 752.2,143.7 752.4,140 752.6,136.3 752.7,132.7 752.9,129.2 753.1,125.7 753.3,122.3 753.4,118.9 753.6,115.7 753.8,112.6 754,109.5 754.1,106.6 754.3,103.7 754.5,101 754.7,98.5 754.8,96.1 755,93.8 755.2,91.7 755.3,89.8 755.5,88.1 755.7,86.6 755.9,85.3 756,84.2 756.2,83.4 756.4,82.8 756.6,82.5 756.7,82.5 756.9,82.7 757.1,83.3 757.3,84.3 757.4,85.5 757.6,87.1 757.8,89.1 758,91.4 758.1,94.1 758.3,97.2 758.5,100.6 758.7,104.4 758.8,108.6 759,113.2 759.2,118.1 759.4,123.4 759.5,128.9 759.7,134.8 759.9,141 760.1,147.4 760.2,154.1 760.4,160.9 760.6,167.9 760.8,175 760.9,182.2 761.1,189.4 761.3,196.6 761.4,203.8 761.6,210.8 761.8,217.8 762,224.5 762.1,231.1 762.3,237.5 762.5,243.5 762.7,249.3 762.8,254.8 763,259.9 763.2,264.7 763.4,269.1 763.5,273.2 763.7,276.9 763.9,280.2 764.1,283.1 764.2,285.6 764.4,287.8 764.6,289.6 764.8,291.1 764.9,292.2 765.1,293 765.3,293.5 765.5,293.7 765.6,293.5 765.8,293.1 766,292.5 766.2,291.6 766.3,290.4 766.5,289.1 766.7,287.5 766.9,285.8 767,283.8 767.2,281.7 767.4,279.5 767.5,277.1 767.7,274.5 767.9,271.9 768.1,269.1 768.2,266.2 768.4,263.3 768.6,260.2 768.8,257.1 768.9,253.9 769.1,250.6 769.3,247.2 769.5,243.8 769.6,240.4 769.8,236.9 770,233.4 770.2,229.8 770.3,226.3 770.5,222.6 770.7,219 770.9,215.4 771,211.7 771.2,208 771.4,204.3 771.6,200.6 771.7,196.9 771.9,193.2 772.1,189.5 772.3,185.8 772.4,182.1 772.6,178.5 772.8,174.8 773,171.2 773.1,167.5 773.3,164 773.5,160.4 773.6,156.8 773.8,153.3 774,149.9 774.2,146.4 774.3,143 774.5,139.7 774.7,136.4 774.9,133.2 775,130 775.2,126.9 775.4,123.9 775.6,121 775.7,118.1 775.9,115.4 776.1,112.7 776.3,110.2 776.4,107.8 776.6,105.5 776.8,103.3 777,101.3 777.1,99.4 777.3,97.7 777.5,96.2 777.7,94.9 777.8,93.8 778,92.9 778.2,92.2 778.4,91.8 778.5,91.6 778.7,91.7 778.9,92 779.1,92.7 779.2,93.6 779.4,94.9 779.6,96.5 779.7,98.4 779.9,100.6 780.1,103.2 780.3,106.1 780.4,109.4 780.6,113 780.8,117 781,121.3 781.1,125.9 781.3,130.8 781.5,136 781.7,141.5 781.8,147.2 782,153.1 782.2,159.3 782.4,165.6 782.5,172 782.7,178.5 782.9,185.1 783.1,191.7 783.2,198.2 783.4,204.7 783.6,211.2 783.8,217.4 783.9,223.6 784.1,229.5 784.3,235.2 784.5,240.7 784.6,245.8 784.8,250.7 785,255.3 785.1,259.6 785.3,263.5 785.5,267 785.7,270.3 785.8,273.2 786,275.7 786.2,277.9 786.4,279.8 786.5,281.3 786.7,282.6 786.9,283.5 787.1,284.1 787.2,284.4 787.4,284.5 787.6,284.3 787.8,283.8 787.9,283.1 788.1,282.2 788.3,281.1 788.5,279.8 788.6,278.3 788.8,276.7 789,274.8 789.2,272.9 789.3,270.8 789.5,268.5 789.7,266.2 789.9,263.7 790,261.2 790.2,258.5 790.4,255.8 790.6,253 790.7,250.1 790.9,247.1 791.1,244.1 791.2,241.1 791.4,238 791.6,234.8 791.8,231.6 791.9,228.4 792.1,225.2 792.3,221.9 792.5,218.6 792.6,215.3 792.8,211.9 793,208.6 793.2,205.2 793.3,201.9 793.5,198.5 793.7,195.1 793.9,191.8 794,188.4 794.2,185.1 794.4,181.7 794.6,178.4 794.7,175.1 794.9,171.8 795.1,168.5 795.3,165.2 795.4,162 795.6,158.8 795.8,155.6 796,152.5 796.1,149.4 796.3,146.3 796.5,143.3 796.7,140.3 796.8,137.4 797,134.6 797.2,131.8 797.3,129.1 797.5,126.4 797.7,123.9 797.9,121.4 798,119.1 798.2,116.8 798.4,114.6 798.6,112.6 798.7,110.7 798.9,108.9 799.1,107.3 799.3,105.8 799.4,104.5 799.6,103.4 799.8,102.4 800,101.7 800.1,101.2 800.3,100.8 800.5,100.8 800.7,100.9 800.8,101.4 801,102 801.2,103 801.4,104.2 801.5,105.8 801.7,107.6 801.9,109.8 802.1,112.2 802.2,115 802.4,118 802.6,121.4 802.8,125.1 802.9,129.1 803.1,133.4 803.3,137.9 803.4,142.7 803.6,147.8 803.8,153 804,158.5 804.1,164.1 804.3,169.8 804.5,175.7 804.7,181.6 804.8,187.5 805,193.5 805.2,199.4 805.4,205.3 805.5,211.1 805.7,216.7 805.9,222.2 806.1,227.5 806.2,232.6 806.4,237.4 806.6,242 806.8,246.3 806.9,250.4 807.1,254.1 807.3,257.5 807.5,260.7 807.6,263.5 807.8,266 808,268.2 808.2,270 808.3,271.6 808.5,272.9 808.7,273.9 808.9,274.6 809,275.1 809.2,275.3 809.4,275.3 809.5,275 809.7,274.5 809.9,273.8 810.1,272.9 810.2,271.9 810.4,270.6 810.6,269.2 810.8,267.7 810.9,266 811.1,264.1 811.3,262.2 811.5,260.1 811.6,258 811.8,255.7 812,253.4 812.2,251 812.3,248.5 812.5,245.9 812.7,243.3 812.9,240.6 813,237.9 813.2,235.1 813.4,232.3 813.6,229.4 813.7,226.5 813.9,223.6 814.1,220.7 814.3,217.7 814.4,214.7 814.6,211.7 814.8,208.7 815,205.7 815.1,202.7 815.3,199.7 815.5,196.6 815.6,193.6 815.8,190.6 816,187.5 816.2,184.5 816.3,181.5 816.5,178.5 816.7,175.6 816.9,172.6 817,169.6 817.2,166.7 817.4,163.8 817.6,160.9 817.7,158.1 817.9,155.3 818.1,152.5 818.3,149.8 818.4,147.1 818.6,144.5 818.8,141.9 819,139.3 819.1,136.8 819.3,134.4 819.5,132.1 819.7,129.8 819.8,127.7 820,125.6 820.2,123.6 820.4,121.7 820.5,119.9 820.7,118.2 820.9,116.7 821.1,115.3 821.2,114 821.4,112.9 821.6,111.9 821.7,111.2 821.9,110.6 822.1,110.2 822.3,110 822.4,110 822.6,110.2 822.8,110.7 823,111.4 823.1,112.3 823.3,113.5 823.5,115 823.7,116.7 823.8,118.8 824,121.1 824.2,123.6 824.4,126.5 824.5,129.6 824.7,133 824.9,136.7 825.1,140.6 825.2,144.8 825.4,149.1 825.6,153.7 825.8,158.5 825.9,163.4 826.1,168.5 826.3,173.7 826.5,178.9 826.6,184.2 826.8,189.6 827,194.9 827.2,200.2 827.3,205.4 827.5,210.5 827.7,215.5 827.8,220.4 828,225.1 828.2,229.5 828.4,233.8 828.5,237.8 828.7,241.6 828.9,245.1 829.1,248.3 829.2,251.3 829.4,254 829.6,256.4 829.8,258.5 829.9,260.4 830.1,262 830.3,263.3 830.5,264.4 830.6,265.2 830.8,265.7 831,266.1 831.2,266.2 831.3,266.1 831.5,265.7 831.7,265.2 831.9,264.5 832,263.7 832.2,262.7 832.4,261.5 832.6,260.2 832.7,258.8 832.9,257.2 833.1,255.5 833.2,253.8 833.4,251.9 833.6,249.9 833.8,247.9 833.9,245.8 834.1,243.6 834.3,241.3 834.5,239 834.6,236.6 834.8,234.2 835,231.8 835.2,229.3 835.3,226.8 835.5,224.2 835.7,221.6 835.9,219 836,216.4 836.2,213.8 836.4,211.1 836.6,208.4 836.7,205.8 836.9,203.1 837.1,200.4 837.3,197.7 837.4,195 837.6,192.3 837.8,189.6 838,186.9 838.1,184.2 838.3,181.6 838.5,178.9 838.7,176.3 838.8,173.6 839,171 839.2,168.4 839.3,165.9 839.5,163.3 839.7,160.8 839.9,158.3 840,155.9 840.2,153.5 840.4,151.1 840.6,148.8 840.7,146.5 840.9,144.3 841.1,142.1 841.3,140 841.4,137.9 841.6,136 841.8,134.1 842,132.2 842.1,130.5 842.3,128.9 842.5,127.3 842.7,125.9 842.8,124.6 843,123.4 843.2,122.3 843.4,121.4 843.5,120.6 843.7,120 843.9,119.5 844.1,119.2 844.2,119.1 844.4,119.2 844.6,119.5 844.8,119.9 844.9,120.6 845.1,121.6 845.3,122.7 845.4,124.1 845.6,125.8 845.8,127.6 846,129.8 846.1,132.1 846.3,134.7 846.5,137.6 846.7,140.7 846.8,144 847,147.5 847.2,151.3 847.4,155.2 847.5,159.3 847.7,163.6 847.9,168 848.1,172.5 848.2,177.1 848.4,181.8 848.6,186.5 848.8,191.2 848.9,195.9 849.1,200.5 849.3,205.1 849.5,209.6 849.6,214 849.8,218.2 850,222.2 850.2,226.1 850.3,229.8 850.5,233.3 850.7,236.5 850.9,239.5 851,242.3 851.2,244.8 851.4,247.1 851.5,249.1 851.7,250.9 851.9,252.5 852.1,253.8 852.2,254.9 852.4,255.7 852.6,256.3 852.8,256.8 852.9,257 853.1,257 853.3,256.8 853.5,256.5 853.6,256 853.8,255.3 854,254.5 854.2,253.5 854.3,252.5 854.5,251.3 854.7,250 854.9,248.6 855,247 855.2,245.4 855.4,243.8 855.6,242 855.7,240.2 855.9,238.3 856.1,236.4 856.3,234.4 856.4,232.3 856.6,230.2 856.8,228.1 857,225.9 857.1,223.7 857.3,221.5 857.5,219.2 857.6,217 857.8,214.7 858,212.4 858.2,210 858.3,207.7 858.5,205.3 858.7,203 858.9,200.6 859,198.3 859.2,195.9 859.4,193.6 859.6,191.2 859.7,188.8 859.9,186.5 860.1,184.1 860.3,181.8 860.4,179.5 860.6,177.2 860.8,174.9 861,172.6 861.1,170.4 861.3,168.1 861.5,165.9 861.7,163.8 861.8,161.6 862,159.5 862.2,157.4 862.4,155.3 862.5,153.3 862.7,151.3 862.9,149.4 863.1,147.5 863.2,145.7 863.4,144 863.6,142.3 863.7,140.6 863.9,139.1 864.1,137.6 864.3,136.2 864.4,134.9 864.6,133.7 864.8,132.6 865,131.6 865.1,130.7 865.3,129.9 865.5,129.3 865.7,128.8 865.8,128.5 866,128.3 866.2,128.3 866.4,128.4 866.5,128.7 866.7,129.2 866.9,129.9 867.1,130.8 867.2,131.9 867.4,133.2 867.6,134.7 867.8,136.4 867.9,138.3 868.1,140.4 868.3,142.8 868.5,145.3 868.6,148.1 868.8,151 869,154.2 869.2,157.5 869.3,161 869.5,164.6 869.7,168.3 869.8,172.2 870,176.1 870.2,180.2 870.4,184.2 870.5,188.3 870.7,192.4 870.9,196.5 871.1,200.5 871.2,204.4 871.4,208.3 871.6,212 871.8,215.6 871.9,219.1 872.1,222.4 872.3,225.5 872.5,228.4 872.6,231.1 872.8,233.7 873,236 873.2,238.1 873.3,240 873.5,241.7 873.7,243.1 873.9,244.4 874,245.4 874.2,246.3 874.4,247 874.6,247.4 874.7,247.7 874.9,247.8 875.1,247.8 875.2,247.6 875.4,247.2 875.6,246.7 875.8,246.1 875.9,245.4 876.1,244.5 876.3,243.5 876.5,242.4 876.6,241.3 876.8,240 877,238.7 877.2,237.3 877.3,235.8 877.5,234.3 877.7,232.7 877.9,231 878,229.3 878.2,227.6 878.4,225.8 878.6,224 878.7,222.1 878.9,220.2 879.1,218.3 879.3,216.4 879.4,214.5 879.6,212.5 879.8,210.5 880,208.5 880.1,206.5 880.3,204.5 880.5,202.5 880.7,200.5 880.8,198.4 881,196.4 881.2,194.4 881.3,192.3 881.5,190.3 881.7,188.3 881.9,186.3 882,184.3 882.2,182.3 882.4,180.3 882.6,178.4 882.7,176.4 882.9,174.5 883.1,172.5 883.3,170.6 883.4,168.8 883.6,166.9 883.8,165.1 884,163.3 884.1,161.5 884.3,159.8 884.5,158.1 884.7,156.4 884.8,154.8 885,153.2 885.2,151.7 885.4,150.2 885.5,148.8 885.7,147.4 885.9,146.1 886.1,144.9 886.2,143.7 886.4,142.6 886.6,141.6 886.8,140.7 886.9,139.9 887.1,139.2 887.3,138.6 887.4,138.1 887.6,137.8 887.8,137.5 888,137.4 888.1,137.5 888.3,137.6 888.5,138 888.7,138.4 888.8,139.1 889,139.9 889.2,140.9 889.4,142.1 889.5,143.4 889.7,144.9 889.9,146.7 890.1,148.5 890.2,150.6 890.4,152.8 890.6,155.2 890.8,157.8 890.9,160.5 891.1,163.4 891.3,166.4 891.5,169.5 891.6,172.7 891.8,176 892,179.4 892.2,182.8 892.3,186.3 892.5,189.7 892.7,193.2 892.9,196.6 893,200 893.2,203.3 893.4,206.5 893.5,209.6 893.7,212.6 893.9,215.5 894.1,218.2 894.2,220.8 894.4,223.2 894.6,225.5 894.8,227.5 894.9,229.4 895.1,231.1 895.3,232.7 895.5,234 895.6,235.2 895.8,236.2 896,237 896.2,237.6 896.3,238.1 896.5,238.4 896.7,238.6 896.9,238.7 897,238.6 897.2,238.3 897.4,238 897.6,237.5 897.7,237 897.9,236.3 898.1,235.5 898.3,234.7 898.4,233.7 898.6,232.7 898.8,231.6 899,230.5 899.1,229.2 899.3,228 899.5,226.7 899.6,225.3 899.8,223.9 900,222.4 900.2,221 900.3,219.5 900.5,217.9 900.7,216.3 900.9,214.8 901,213.2 901.2,211.5 901.4,209.9 901.6,208.2 901.7,206.6 901.9,204.9 902.1,203.2 902.3,201.5 902.4,199.8 902.6,198.1 902.8,196.4 903,194.8 903.1,193.1 903.3,191.4 903.5,189.7 903.7,188 903.8,186.3 904,184.7 904.2,183 904.4,181.4 904.5,179.7 904.7,178.1 904.9,176.5 905.1,174.9 905.2,173.3 905.4,171.8 905.6,170.3 905.7,168.8 905.9,167.3 906.1,165.8 906.3,164.4 906.4,163 906.6,161.6 906.8,160.3 907,159 907.1,157.8 907.3,156.6 907.5,155.4 907.7,154.3 907.8,153.3 908,152.3 908.2,151.4 908.4,150.5 908.5,149.7 908.7,149 908.9,148.4 909.1,147.8 909.2,147.4 909.4,147 909.6,146.8 909.8,146.6 909.9,146.6 910.1,146.7 910.3,146.9 910.5,147.2 910.6,147.6 910.8,148.2 911,149 911.2,149.9 911.3,150.9 911.5,152 911.7,153.4 911.8,154.8 912,156.4 912.2,158.2 912.4,160.1 912.5,162.1 912.7,164.3 912.9,166.6 913.1,169 913.2,171.5 913.4,174 913.6,176.7 913.8,179.4 913.9,182.2 914.1,185 914.3,187.9 914.5,190.7 914.6,193.5 914.8,196.3 915,199 915.2,201.7 915.3,204.3 915.5,206.8 915.7,209.3 915.9,211.6 916,213.7 916.2,215.8 916.4,217.7 916.6,219.5 916.7,221.1 916.9,222.6 917.1,223.9 917.3,225.1 917.4,226.1 917.6,227 917.8,227.8 917.9,228.4 918.1,228.9 918.3,229.2 918.5,229.4 918.6,229.5 918.8,229.5 919,229.4 919.2,229.1 919.3,228.8 919.5,228.4 919.7,227.9 919.9,227.3 920,226.6 920.2,225.9 920.4,225.1 920.6,224.2 920.7,223.3 920.9,222.4 921.1,221.4 921.3,220.3 921.4,219.2 921.6,218.1 921.8,216.9 922,215.8 922.1,214.5 922.3,213.3 922.5,212.1 922.7,210.8 922.8,209.5 923,208.2 923.2,206.9 923.3,205.5 923.5,204.2 923.7,202.8 923.9,201.5 924,200.1 924.2,198.8 924.4,197.4 924.6,196.1 924.7,194.7 924.9,193.3 925.1,192 925.3,190.6 925.4,189.3 925.6,187.9 925.8,186.6 926,185.3 926.1,183.9 926.3,182.6 926.5,181.3 926.7,180.1 926.8,178.8 927,177.5 927.2,176.3 927.4,175.1 927.5,173.8 927.7,172.7 927.9,171.5 928.1,170.3 928.2,169.2 928.4,168.1 928.6,167.1 928.8,166 928.9,165 929.1,164.1 929.3,163.1 929.4,162.2 929.6,161.4 929.8,160.6 930,159.8 930.1,159.1 930.3,158.5 930.5,157.9 930.7,157.4 930.8,156.9 931,156.5 931.2,156.2 931.4,156 931.5,155.8 931.7,155.7 931.9,155.8 932.1,155.9 932.2,156.1 932.4,156.4 932.6,156.8 932.8,157.3 932.9,157.9 933.1,158.7 933.3,159.5 933.5,160.5 933.6,161.6 933.8,162.8 934,164.1 934.2,165.5 934.3,167.1 934.5,168.7 934.7,170.4 934.9,172.3 935,174.2 935.2,176.2 935.4,178.2 935.5,180.3 935.7,182.5 935.9,184.6 936.1,186.8 936.2,189.1 936.4,191.3 936.6,193.4 936.8,195.6 936.9,197.7 937.1,199.8 937.3,201.8 937.5,203.7 937.6,205.5 937.8,207.3 938,208.9 938.2,210.5 938.3,211.9 938.5,213.2 938.7,214.4 938.9,215.5 939,216.5 939.2,217.4 939.4,218.1 939.6,218.7 939.7,219.3 939.9,219.7 940.1,220 940.3,220.2 940.4,220.3 940.6,220.4 940.8,220.3 941,220.2 941.1,219.9 941.3,219.6 941.5,219.3 941.6,218.8 941.8,218.4 942,217.8 942.2,217.2 942.3,216.6 942.5,215.9 942.7,215.2 942.9,214.4 943,213.6 943.2,212.8 943.4,212 943.6,211.1 943.7,210.2 943.9,209.3 944.1,208.3 944.3,207.4 944.4,206.4 944.6,205.4 944.8,204.4 945,203.4 945.1,202.4 945.3,201.4 945.5,200.4 945.7,199.3 945.8,198.3 946,197.3 946.2,196.2 946.4,195.2 946.5,194.2 946.7,193.2 946.9,192.1 947.1,191.1 947.2,190.1 947.4,189.1 947.6,188.1 947.7,187.1 947.9,186.1 948.1,185.1 948.3,184.1 948.4,183.2 948.6,182.2 948.8,181.3 949,180.3 949.1,179.4 949.3,178.5 949.5,177.6 949.7,176.8 949.8,175.9 950,175.1 950.2,174.3 950.4,173.5 950.5,172.7 950.7,172 950.9,171.2 951.1,170.5 951.2,169.9 951.4,169.2 951.6,168.6 951.8,168.1 951.9,167.6 952.1,167.1 952.3,166.6 952.5,166.2 952.6,165.9 952.8,165.6 953,165.3 953.2,165.1 953.3,165 953.5,164.9 953.7,164.9 953.8,164.9 954,165.1 954.2,165.3 954.4,165.5 954.5,165.9 954.7,166.3 954.9,166.8 955.1,167.4 955.2,168.1 955.4,168.8 955.6,169.6 955.8,170.6 955.9,171.6 956.1,172.6 956.3,173.8 956.5,175 956.6,176.3 956.8,177.6 957,179 957.2,180.5 957.3,182 957.5,183.5 957.7,185.1 957.9,186.7 958,188.2 958.2,189.8 958.4,191.4 958.6,193 958.7,194.5 958.9,196 959.1,197.4 959.3,198.8 959.4,200.2 959.6,201.4 959.8,202.6 959.9,203.8 960.1,204.8 960.3,205.8 960.5,206.7 960.6,207.5 960.8,208.2 961,208.9 961.2,209.4 961.3,209.9 961.5,210.3 961.7,210.6 961.9,210.9 962,211.1 962.2,211.2 962.4,211.2 962.6,211.2 962.7,211.1 962.9,211 963.1,210.8 963.3,210.5 963.4,210.2 963.6,209.9 963.8,209.5 964,209.1 964.1,208.7 964.3,208.2 964.5,207.7 964.7,207.2 964.8,206.6 965,206 965.2,205.5 965.4,204.8 965.5,204.2 965.7,203.6 965.9,202.9 966,202.3 966.2,201.6 966.4,200.9 966.6,200.2 966.7,199.5 966.9,198.9 967.1,198.2 967.3,197.5 967.4,196.8 967.6,196 967.8,195.3 968,194.6 968.1,193.9 968.3,193.2 968.5,192.5 968.7,191.9 968.8,191.2 969,190.5 969.2,189.8 969.4,189.1 969.5,188.5 969.7,187.8 969.9,187.1 970.1,186.5 970.2,185.9 970.4,185.2 970.6,184.6 970.8,184 970.9,183.4 971.1,182.8 971.3,182.2 971.4,181.6 971.6,181.1 971.8,180.5 972,180 972.1,179.5 972.3,179 972.5,178.5 972.7,178.1 972.8,177.6 973,177.2 973.2,176.8 973.4,176.4 973.5,176 973.7,175.7 973.9,175.4 974.1,175.1 974.2,174.9 974.4,174.6 974.6,174.5 974.8,174.3 974.9,174.2 975.1,174.1 975.3,174 975.5,174 975.6,174.1 975.8,174.1 976,174.3 976.2,174.4 976.3,174.6 976.5,174.9 976.7,175.2 976.9,175.6 977,176 977.2,176.4 977.4,176.9 977.5,177.5 977.7,178.1 977.9,178.8 978.1,179.5 978.2,180.2 978.4,181 978.6,181.8 978.8,182.7 978.9,183.5 979.1,184.5 979.3,185.4 979.5,186.3 979.6,187.3 979.8,188.3 980,189.2 980.2,190.2 980.3,191.1 980.5,192 980.7,192.9 980.9,193.8 981,194.7 981.2,195.5 981.4,196.2 981.6,197 981.7,197.7 981.9,198.3 982.1,198.9 982.3,199.4 982.4,199.9 982.6,200.3 982.8,200.7 983,201.1 983.1,201.3 983.3,201.6 983.5,201.8 983.6,201.9 983.8,202 984,202.1 984.2,202.1 984.3,202.1 984.5,202 984.7,201.9 984.9,201.8 985,201.6 985.2,201.5 985.4,201.3 985.6,201 985.7,200.8 985.9,200.5 986.1,200.2 986.3,199.9 986.4,199.6 986.6,199.3 986.8,199 987,198.6 987.1,198.3 987.3,197.9 987.5,197.5 987.7,197.2 987.8,196.8 988,196.4 988.2,196 988.4,195.7 988.5,195.3 988.7,194.9 988.9,194.5 989.1,194.1 989.2,193.7 989.4,193.4 989.6,193 989.7,192.6 989.9,192.2 990.1,191.9 990.3,191.5 990.4,191.1 990.6,190.8 990.8,190.4 991,190.1 991.1,189.7 991.3,189.4 991.5,189.1 991.7,188.7 991.8,188.4 992,188.1 992.2,187.8 992.4,187.5 992.5,187.2 992.7,186.9 992.9,186.6 993.1,186.4 993.2,186.1 993.4,185.9 993.6,185.6 993.8,185.4 993.9,185.2 994.1,184.9 994.3,184.7 994.5,184.5 994.6,184.4 994.8,184.2 995,184 995.2,183.9 995.3,183.7 995.5,183.6 995.7,183.5 995.8,183.4 996,183.3 996.2,183.2 996.4,183.2 996.5,183.1 996.7,183.1 996.9,183.1 997.1,183.1 997.2,183.1 997.4,183.2 997.6,183.3 997.8,183.3 997.9,183.4 998.1,183.5 998.3,183.7 998.5,183.8 998.6,184 998.8,184.2 999,184.4 999.2,184.6 999.3,184.9 999.5,185.1 999.7,185.4 999.9,185.7 1000,186 1000.2,186.3 1000.4,186.7 1000.6,187 1000.7,187.3 1000.9,187.7 1001.1,188 1001.3,188.4 1001.4,188.7 1001.6,189.1 1001.8,189.4 1001.9,189.8 1002.1,190.1 1002.3,190.4 1002.5,190.7 1002.6,191 1002.8,191.3 1003,191.5 1003.2,191.8 1003.3,192 1003.5,192.2 1003.7,192.4 1003.9,192.5 1004,192.6 1004.2,192.8 1004.4,192.9 1004.6,192.9 1004.7,193 1004.9,193 1005.1,193.1 1005.3,193.1 1005.4,193.1 1005.6,193.1 1005.8,193 1006,193 1006.1,192.9 1006.3,192.9 1006.5,192.8 1006.7,192.7 1006.8,192.6 1007,192.5 1007.2,192.4 1007.4,192.3 1007.5,192.2 1007.7,192.1 1007.9,192 1008,191.9 1008.2,191.8 1008.4,191.7 1008.6,191.6 1008.7,191.5 1008.9,191.4 1009.1,191.3 1009.3,191.2 1009.4,191.1 1009.6,191 1009.8,190.9 1010,190.8 1010.1,190.7 1010.3,190.6 1010.5,190.5 1010.7,190.4 1010.8,190.4 1011,190.3 1011.2,190.2 1011.4,190.2 1011.5,190.1 1011.7,190.1 1011.9,190 1012.1,190 1012.2,190 1012.4,189.9 1012.6,189.9 1012.8,189.9 1012.9,189.9 1013.1,189.9 1013.3,189.9 1013.5,189.9"/>
<polyline stroke="#ff0000" points="664.9,168.1 665.1,166.4 665.2,164.6 665.4,162.9 665.6,161 665.8,159.2 665.9,157.3 666.1,155.3 666.3,153.3 666.5,151.2 666.6,149.1 666.8,146.9 667,144.6 667.2,142.3 667.3,139.9 667.5,137.4 667.7,134.9 667.9,132.3 668,129.6 668.2,126.8 668.4,123.9 668.6,121 668.7,117.9 668.9,114.8 669.1,111.6 669.3,108.2 669.4,104.8 669.6,101.3 669.8,97.6 670,93.9 670.1,90 670.3,86.1 670.5,82 670.7,82.3 670.8,88.9 671,95.4 671.2,101.9 671.3,108.4 671.5,115 671.7,121.5 671.9,128 672,134.4 672.2,140.9 672.4,147.4 672.6,153.9 672.7,160.4 672.9,166.8 673.1,173.3 673.3,179.7 673.4,186.2 673.6,192.6 673.8,199 674,205.4 674.1,211.8 674.3,218.2 674.5,224.6 674.7,231 674.8,237.4 675,243.8 675.2,250.2 675.4,256.6 675.5,262.9 675.7,269.3 675.9,275.6 676.1,282 676.2,288.3 676.4,294.6 676.6,292.3 676.8,288.2 676.9,284.3 677.1,280.4 677.3,276.7 677.4,273.1 677.6,269.6 677.8,266.2 678,262.9 678.1,259.7 678.3,256.6 678.5,253.6 678.7,250.7 678.8,247.9 679,245.1 679.2,242.5 679.4,239.9 679.5,237.4 679.7,235 679.9,232.7 680.1,230.4 680.2,228.2 680.4,226.1 680.6,224 680.8,222 680.9,220 681.1,218.1 681.3,216.3 681.5,214.5 681.6,212.7 681.8,211 682,209.4 682.2,207.7 682.3,206.1 682.5,204.6 682.7,203.1 682.9,201.6 683,200.1 683.2,198.6 683.4,197.2 683.5,195.8 683.7,194.4 683.9,193 684.1,191.6 684.2,190.3 684.4,188.9 684.6,187.5 684.8,186.2 684.9,184.8 685.1,183.4 685.3,182 685.5,180.7 685.6,179.2 685.8,177.8 686,176.4 686.2,174.9 686.3,173.4 686.5,171.9 686.7,170.4 686.9,168.8 687,167.2 687.2,165.6 687.4,163.9 687.6,162.2 687.7,160.4 687.9,158.6 688.1,156.8 688.3,154.9 688.4,152.9 688.6,150.9 688.8,148.8 688.9,146.7 689.1,144.5 689.3,142.2 689.5,139.9 689.6,137.5 689.8,135 690,132.4 690.2,129.8 690.3,127.1 690.5,124.3 690.7,121.4 690.9,118.5 691,115.4 691.2,112.3 691.4,109 691.6,105.7 691.7,102.3 691.9,98.7 692.1,95.1 692.3,91.4 692.4,87.5 692.6,91.2 692.8,97.3 693,103.4 693.1,109.5 693.3,115.6 693.5,121.7 693.7,127.8 693.8,133.9 694,140 694.2,146 694.4,152.1 694.5,158.2 694.7,164.2 694.9,170.2 695,176.3 695.2,182.3 695.4,188.3 695.6,194.3 695.7,200.4 695.9,206.4 696.1,212.4 696.3,218.3 696.4,224.3 696.6,230.3 696.8,236.3 697,242.2 697.1,248.2 697.3,254.1 697.5,260.1 697.7,266 697.8,272 698,277.9 698.2,283.8 698.4,288.2 698.5,284.3 698.7,280.5 698.9,276.8 699.1,273.3 699.2,269.8 699.4,266.5 699.6,263.2 699.8,260.1 699.9,257 700.1,254.1 700.3,251.2 700.5,248.4 700.6,245.7 700.8,243.1 701,240.6 701.1,238.1 701.3,235.8 701.5,233.5 701.7,231.2 701.8,229.1 702,227 702.2,224.9 702.4,222.9 702.5,221 702.7,219.2 702.9,217.4 703.1,215.6 703.2,213.9 703.4,212.2 703.6,210.6 703.8,209 703.9,207.5 704.1,206 704.3,204.5 704.5,203 704.6,201.6 704.8,200.2 705,198.9 705.2,197.5 705.3,196.2 705.5,194.9 705.7,193.6 705.9,192.3 706,191 706.2,189.7 706.4,188.4 706.6,187.2 706.7,185.9 706.9,184.6 707.1,183.3 707.2,182 707.4,180.7 707.6,179.4 707.8,178.1 707.9,176.7 708.1,175.4 708.3,174 708.5,172.6 708.6,171.1 708.8,169.6 709,168.1 709.2,166.6 709.3,165 709.5,163.4 709.7,161.8 709.9,160.1 710,158.3 710.2,156.5 710.4,154.7 710.6,152.8 710.7,150.8 710.9,148.8 711.1,146.7 711.3,144.6 711.4,142.4 711.6,140.2 711.8,137.8 712,135.4 712.1,133 712.3,130.4 712.5,127.8 712.7,125.1 712.8,122.3 713,119.4 713.2,116.5 713.3,113.4 713.5,110.3 713.7,107.1 713.9,103.7 714,100.3 714.2,96.8 714.4,94 714.6,99.7 714.7,105.4 714.9,111.1 715.1,116.8 715.3,122.5 715.4,128.2 715.6,133.9 715.8,139.5 716,145.2 716.1,150.9 716.3,156.5 716.5,162.1 716.7,167.8 716.8,173.4 717,179 717.2,184.6 717.4,190.2 717.5,195.8 717.7,201.4 717.9,207 718.1,212.6 718.2,218.2 718.4,223.7 718.6,229.3 718.8,234.8 718.9,240.4 719.1,245.9 719.3,251.5 719.4,257 719.6,262.5 719.8,268 720,273.5 720.1,279 720.3,280 720.5,276.4 720.7,272.9 720.8,269.6 721,266.3 721.2,263.1 721.4,260 721.5,257 721.7,254.1 721.9,251.3 722.1,248.6 722.2,245.9 722.4,243.4 722.6,240.9 722.8,238.5 722.9,236.2 723.1,233.9 723.3,231.7 723.5,229.6 723.6,227.5 723.8,225.6 724,223.6 724.2,221.7 724.3,219.9 724.5,218.2 724.7,216.4 724.9,214.8 725,213.2 725.2,211.6 725.4,210 725.5,208.6 725.7,207.1 725.9,205.7 726.1,204.3 726.2,202.9 726.4,201.6 726.6,200.3 726.8,199 726.9,197.7 727.1,196.5 727.3,195.2 727.5,194 727.6,192.8 727.8,191.6 728,190.4 728.2,189.2 728.3,188.1 728.5,186.9 728.7,185.7 728.9,184.5 729,183.3 729.2,182.1 729.4,180.9 729.6,179.7 729.7,178.4 729.9,177.2 730.1,175.9 730.3,174.6 730.4,173.3 730.6,171.9 730.8,170.5 731,169.1 731.1,167.7 731.3,166.2 731.5,164.7 731.6,163.2 731.8,161.6 732,159.9 732.2,158.3 732.3,156.5 732.5,154.8 732.7,152.9 732.9,151.1 733,149.1 733.2,147.1 733.4,145.1 733.6,143 733.7,140.8 733.9,138.5 734.1,136.2 734.3,133.8 734.4,131.4 734.6,128.8 734.8,126.2 735,123.6 735.1,120.8 735.3,117.9 735.5,115 735.7,112 735.8,108.9 736,105.7 736.2,102.4 736.4,102.7 736.5,108 736.7,113.3 736.9,118.6 737,123.9 737.2,129.1 737.4,134.4 737.6,139.7 737.7,144.9 737.9,150.2 738.1,155.4 738.3,160.6 738.4,165.8 738.6,171.1 738.8,176.3 739,181.5 739.1,186.7 739.3,191.9 739.5,197 739.7,202.2 739.8,207.4 740,212.6 740.2,217.7 740.4,222.9 740.5,228 740.7,233.1 740.9,238.3 741.1,243.4 741.2,248.5 741.4,253.6 741.6,258.7 741.8,263.8 741.9,268.9 742.1,274 742.3,272.1 742.5,268.8 742.6,265.6 742.8,262.5 743,259.5 743.1,256.5 743.3,253.7 743.5,251 743.7,248.3 743.8,245.7 744,243.2 744.2,240.8 744.4,238.5 744.5,236.2 744.7,234 744.9,231.9 745.1,229.8 745.2,227.8 745.4,225.9 745.6,224 745.8,222.1 745.9,220.4 746.1,218.7 746.3,217 746.5,215.4 746.6,213.8 746.8,212.3 747,210.8 747.2,209.4 747.3,207.9 747.5,206.6 747.7,205.2 747.9,203.9 748,202.7 748.2,201.4 748.4,200.2 748.6,199 748.7,197.8 748.9,196.6 749.1,195.5 749.2,194.3 749.4,193.2 749.6,192.1 749.8,191 749.9,189.9 750.1,188.8 750.3,187.7 750.5,186.6 750.6,185.5 750.8,184.4 751,183.3 751.2,182.2 751.3,181.1 751.5,180 751.7,178.8 751.9,177.7 752,176.5 752.2,175.3 752.4,174 752.6,172.8 752.7,171.5 752.9,170.2 753.1,168.9 753.3,167.5 753.4,166.1 753.6,164.7 753.8,163.2 754,161.7 754.1,160.1 754.3,158.5 754.5,156.8 754.7,155.1 754.8,153.4 755,151.6 755.2,149.7 755.3,147.8 755.5,145.9 755.7,143.8 755.9,141.7 756,139.6 756.2,137.4 756.4,135.1 756.6,132.7 756.7,130.3 756.9,127.8 757.1,125.2 757.3,122.6 757.4,119.9 757.6,117.1 757.8,114.2 758,111.2 758.1,108.2 758.3,111.2 758.5,116 758.7,120.9 758.8,125.8 759,130.6 759.2,135.5 759.4,140.3 759.5,145.2 759.7,150 759.9,154.8 760.1,159.7 760.2,164.5 760.4,169.3 760.6,174.1 760.8,178.9 760.9,183.7 761.1,188.4 761.3,193.2 761.4,198 761.6,202.7 761.8,207.5 762,212.2 762.1,217 762.3,221.7 762.5,226.4 762.7,231.1 762.8,235.9 763,240.6 763.2,245.3 763.4,250 763.5,254.6 763.7,259.3 763.9,264 764.1,267.4 764.2,264.3 764.4,261.3 764.6,258.4 764.8,255.6 764.9,252.8 765.1,250.2 765.3,247.6 765.5,245.1 765.6,242.7 765.8,240.3 766,238 766.2,235.8 766.3,233.7 766.5,231.6 766.7,229.6 766.9,227.7 767,225.8 767.2,224 767.4,222.2 767.5,220.5 767.7,218.9 767.9,217.2 768.1,215.7 768.2,214.2 768.4,212.7 768.6,211.3 768.8,209.9 768.9,208.5 769.1,207.2 769.3,205.9 769.5,204.7 769.6,203.5 769.8,202.3 770,201.1 770.2,200 770.3,198.8 770.5,197.7 770.7,196.7 770.9,195.6 771,194.6 771.2,193.5 771.4,192.5 771.6,191.5 771.7,190.5 771.9,189.5 772.1,188.5 772.3,187.5 772.4,186.5 772.6,185.5 772.8,184.5 773,183.4 773.1,182.4 773.3,181.4 773.5,180.3 773.6,179.3 773.8,178.2 774,177.1 774.2,176 774.3,174.9 774.5,173.7 774.7,172.5 774.9,171.3 775,170.1 775.2,168.8 775.4,167.5 775.6,166.2 775.7,164.9 775.9,163.5 776.1,162 776.3,160.5 776.4,159 776.6,157.4 776.8,155.8 777,154.2 777.1,152.4 777.3,150.7 777.5,148.9 777.7,147 777.8,145.1 778,143.1 778.2,141 778.4,138.9 778.5,136.8 778.7,134.5 778.9,132.2 779.1,129.9 779.2,127.4 779.4,124.9 779.6,122.3 779.7,119.7 779.9,116.9 780.1,114.8 780.3,119.3 780.4,123.8 780.6,128.2 780.8,132.7 781,137.1 781.1,141.6 781.3,146 781.5,150.4 781.7,154.8 781.8,159.2 782,163.6 782.2,168 782.4,172.4 782.5,176.8 782.7,181.2 782.9,185.5 783.1,189.9 783.2,194.3 783.4,198.6 783.6,203 783.8,207.3 783.9,211.6 784.1,215.9 784.3,220.3 784.5,224.6 784.6,228.9 784.8,233.2 785,237.5 785.1,241.7 785.3,246 785.5,250.3 785.7,254.6 785.8,258.8 786,259.5 786.2,256.7 786.4,254 786.5,251.4 786.7,248.8 786.9,246.3 787.1,243.9 787.2,241.6 787.4,239.3 787.6,237.2 787.8,235 787.9,233 788.1,231 788.3,229.1 788.5,227.2 788.6,225.4 788.8,223.6 789,221.9 789.2,220.3 789.3,218.7 789.5,217.2 789.7,215.7 789.9,214.2 790,212.8 790.2,211.4 790.4,210.1 790.6,208.8 790.7,207.6 790.9,206.3 791.1,205.1 791.2,204 791.4,202.9 791.6,201.8 791.8,200.7 791.9,199.6 792.1,198.6 792.3,197.6 792.5,196.6 792.6,195.6 792.8,194.7 793,193.7 793.2,192.8 793.3,191.8 793.5,190.9 793.7,190 793.9,189.1 794,188.2 794.2,187.3 794.4,186.4 794.6,185.4 794.7,184.5 794.9,183.6 795.1,182.7 795.3,181.7 795.4,180.8 795.6,179.8 795.8,178.8 796,177.8 796.1,176.8 796.3,175.8 796.5,174.7 796.7,173.7 796.8,172.6 797,171.4 797.2,170.3 797.3,169.1 797.5,167.9 797.7,166.6 797.9,165.3 798,164 798.2,162.7 798.4,161.3 798.6,159.8 798.7,158.4 798.9,156.8 799.1,155.3 799.3,153.7 799.4,152 799.6,150.3 799.8,148.5 800,146.7 800.1,144.8 800.3,142.9 800.5,140.9 800.7,138.9 800.8,136.8 801,134.6 801.2,132.4 801.4,130.1 801.5,127.7 801.7,125.3 801.9,122.8 802.1,123.1 802.2,127.2 802.4,131.2 802.6,135.3 802.8,139.3 802.9,143.3 803.1,147.3 803.3,151.4 803.4,155.4 803.6,159.4 803.8,163.4 804,167.3 804.1,171.3 804.3,175.3 804.5,179.3 804.7,183.2 804.8,187.2 805,191.1 805.2,195.1 805.4,199 805.5,202.9 805.7,206.8 805.9,210.7 806.1,214.7 806.2,218.6 806.4,222.4 806.6,226.3 806.8,230.2 806.9,234.1 807.1,238 807.3,241.8 807.5,245.7 807.6,249.5 807.8,253.4 808,251.8 808.2,249.3 808.3,246.9 808.5,244.5 808.7,242.2 808.9,240 809,237.9 809.2,235.8 809.4,233.8 809.5,231.8 809.7,229.9 809.9,228.1 810.1,226.3 810.2,224.6 810.4,222.9 810.6,221.3 810.8,219.7 810.9,218.2 811.1,216.7 811.3,215.3 811.5,213.9 811.6,212.6 811.8,211.3 812,210 812.2,208.8 812.3,207.6 812.5,206.4 812.7,205.3 812.9,204.2 813,203.2 813.2,202.1 813.4,201.1 813.6,200.1 813.7,199.2 813.9,198.2 814.1,197.3 814.3,196.4 814.4,195.5 814.6,194.6 814.8,193.8 815,192.9 815.1,192.1 815.3,191.2 815.5,190.4 815.6,189.6 815.8,188.8 816,187.9 816.2,187.1 816.3,186.3 816.5,185.5 816.7,184.7 816.9,183.8 817,183 817.2,182.1 817.4,181.3 817.6,180.4 817.7,179.5 817.9,178.6 818.1,177.7 818.3,176.8 818.4,175.8 818.6,174.8 818.8,173.8 819,172.8 819.1,171.8 819.3,170.7 819.5,169.6 819.7,168.5 819.8,167.3 820,166.1 820.2,164.9 820.4,163.6 820.5,162.3 820.7,161 820.9,159.6 821.1,158.2 821.2,156.7 821.4,155.2 821.6,153.7 821.7,152.1 821.9,150.4 822.1,148.8 822.3,147 822.4,145.2 822.6,143.4 822.8,141.5 823,139.5 823.1,137.5 823.3,135.4 823.5,133.3 823.7,131.1 823.8,128.8 824,131.1 824.2,134.8 824.4,138.4 824.5,142 824.7,145.6 824.9,149.2 825.1,152.8 825.2,156.4 825.4,160 825.6,163.6 825.8,167.2 825.9,170.8 826.1,174.3 826.3,177.9 826.5,181.4 826.6,185 826.8,188.5 827,192 827.2,195.6 827.3,199.1 827.5,202.6 827.7,206.1 827.8,209.6 828,213.1 828.2,216.6 828.4,220 828.5,223.5 828.7,227 828.9,230.4 829.1,233.9 829.2,237.3 829.4,240.8 829.6,244.2 829.8,246.6 829.9,244.3 830.1,242.1 830.3,239.9 830.5,237.8 830.6,235.8 830.8,233.9 831,231.9 831.2,230.1 831.3,228.3 831.5,226.6 831.7,224.9 831.9,223.3 832,221.7 832.2,220.2 832.4,218.7 832.6,217.3 832.7,215.9 832.9,214.5 833.1,213.2 833.2,212 833.4,210.8 833.6,209.6 833.8,208.4 833.9,207.3 834.1,206.2 834.3,205.2 834.5,204.2 834.6,203.2 834.8,202.2 835,201.3 835.2,200.3 835.3,199.4 835.5,198.6 835.7,197.7 835.9,196.9 836,196.1 836.2,195.3 836.4,194.5 836.6,193.7 836.7,192.9 836.9,192.2 837.1,191.4 837.3,190.7 837.4,190 837.6,189.2 837.8,188.5 838,187.8 838.1,187 838.3,186.3 838.5,185.6 838.7,184.8 838.8,184.1 839,183.4 839.2,182.6 839.3,181.8 839.5,181.1 839.7,180.3 839.9,179.5 840,178.6 840.2,177.8 840.4,177 840.6,176.1 840.7,175.2 840.9,174.3 841.1,173.4 841.3,172.4 841.4,171.4 841.6,170.4 841.8,169.4 842,168.3 842.1,167.2 842.3,166.1 842.5,164.9 842.7,163.7 842.8,162.5 843,161.2 843.2,159.9 843.4,158.6 843.5,157.2 843.7,155.8 843.9,154.3 844.1,152.8 844.2,151.2 844.4,149.6 844.6,148 844.8,146.3 844.9,144.6 845.1,142.8 845.3,140.9 845.4,139 845.6,137.1 845.8,135.6 846,138.9 846.1,142.1 846.3,145.3 846.5,148.5 846.7,151.7 846.8,154.9 847,158.1 847.2,161.3 847.4,164.4 847.5,167.6 847.7,170.8 847.9,173.9 848.1,177 848.2,180.2 848.4,183.3 848.6,186.4 848.8,189.6 848.9,192.7 849.1,195.8 849.3,198.9 849.5,202 849.6,205.1 849.8,208.1 850,211.2 850.2,214.3 850.3,217.3 850.5,220.4 850.7,223.4 850.9,226.5 851,229.5 851.2,232.5 851.4,235.6 851.5,238.6 851.7,239 851.9,237 852.1,235.1 852.2,233.2 852.4,231.3 852.6,229.6 852.8,227.9 852.9,226.2 853.1,224.6 853.3,223 853.5,221.5 853.6,220 853.8,218.6 854,217.2 854.2,215.9 854.3,214.6 854.5,213.4 854.7,212.2 854.9,211 855,209.9 855.2,208.8 855.4,207.7 855.6,206.7 855.7,205.7 855.9,204.7 856.1,203.8 856.3,202.8 856.4,202 856.6,201.1 856.8,200.2 857,199.4 857.1,198.6 857.3,197.9 857.5,197.1 857.6,196.4 857.8,195.6 858,194.9 858.2,194.2 858.3,193.5 858.5,192.8 858.7,192.2 858.9,191.5 859,190.9 859.2,190.2 859.4,189.6 859.6,188.9 859.7,188.3 859.9,187.7 860.1,187 860.3,186.4 860.4,185.7 860.6,185.1 860.8,184.4 861,183.8 861.1,183.1 861.3,182.5 861.5,181.8 861.7,181.1 861.8,180.4 862,179.7 862.2,178.9 862.4,178.2 862.5,177.4 862.7,176.6 862.9,175.8 863.1,175 863.2,174.2 863.4,173.3 863.6,172.4 863.7,171.5 863.9,170.6 864.1,169.6 864.3,168.6 864.4,167.6 864.6,166.6 864.8,165.5 865,164.4 865.1,163.2 865.3,162 865.5,160.8 865.7,159.6 865.8,158.3 866,157 866.2,155.6 866.4,154.2 866.5,152.8 866.7,151.3 866.9,149.8 867.1,148.2 867.2,146.6 867.4,144.9 867.6,143.2 867.8,143.5 867.9,146.3 868.1,149.1 868.3,151.9 868.5,154.7 868.6,157.5 868.8,160.3 869,163 869.2,165.8 869.3,168.5 869.5,171.3 869.7,174 869.8,176.8 870,179.5 870.2,182.2 870.4,184.9 870.5,187.6 870.7,190.3 870.9,193 871.1,195.7 871.2,198.4 871.4,201.1 871.6,203.8 871.8,206.4 871.9,209.1 872.1,211.7 872.3,214.4 872.5,217 872.6,219.6 872.8,222.3 873,224.9 873.2,227.5 873.3,230.1 873.5,232.7 873.7,231.6 873.9,229.9 874,228.2 874.2,226.6 874.4,225 874.6,223.5 874.7,222 874.9,220.6 875.1,219.2 875.2,217.9 875.4,216.6 875.6,215.3 875.8,214.1 875.9,212.9 876.1,211.8 876.3,210.7 876.5,209.6 876.6,208.6 876.8,207.6 877,206.6 877.2,205.7 877.3,204.8 877.5,203.9 877.7,203 877.9,202.2 878,201.4 878.2,200.6 878.4,199.8 878.6,199.1 878.7,198.4 878.9,197.7 879.1,197 879.3,196.3 879.4,195.7 879.6,195 879.8,194.4 880,193.8 880.1,193.2 880.3,192.6 880.5,192.1 880.7,191.5 880.8,190.9 881,190.4 881.2,189.8 881.3,189.2 881.5,188.7 881.7,188.2 881.9,187.6 882,187.1 882.2,186.5 882.4,186 882.6,185.4 882.7,184.9 882.9,184.3 883.1,183.7 883.3,183.1 883.4,182.6 883.6,182 883.8,181.4 884,180.7 884.1,180.1 884.3,179.5 884.5,178.8 884.7,178.1 884.8,177.5 885,176.7 885.2,176 885.4,175.3 885.5,174.5 885.7,173.7 885.9,172.9 886.1,172.1 886.2,171.3 886.4,170.4 886.6,169.5 886.8,168.6 886.9,167.6 887.1,166.6 887.3,165.6 887.4,164.6 887.6,163.5 887.8,162.4 888,161.3 888.1,160.1 888.3,158.9 888.5,157.7 888.7,156.4 888.8,155.1 889,153.8 889.2,152.4 889.4,151 889.5,149.5 889.7,151.1 889.9,153.5 890.1,155.9 890.2,158.2 890.4,160.6 890.6,163 890.8,165.3 890.9,167.7 891.1,170 891.3,172.4 891.5,174.7 891.6,177 891.8,179.4 892,181.7 892.2,184 892.3,186.3 892.5,188.6 892.7,190.8 892.9,193.1 893,195.4 893.2,197.7 893.4,199.9 893.5,202.2 893.7,204.4 893.9,206.7 894.1,208.9 894.2,211.1 894.4,213.3 894.6,215.6 894.8,217.8 894.9,220 895.1,222.2 895.3,224.3 895.5,225.8 895.6,224.4 895.8,222.9 896,221.5 896.2,220.2 896.3,218.8 896.5,217.6 896.7,216.3 896.9,215.1 897,214 897.2,212.9 897.4,211.8 897.6,210.7 897.7,209.7 897.9,208.7 898.1,207.8 898.3,206.8 898.4,206 898.6,205.1 898.8,204.3 899,203.4 899.1,202.7 899.3,201.9 899.5,201.2 899.6,200.5 899.8,199.8 900,199.1 900.2,198.4 900.3,197.8 900.5,197.2 900.7,196.6 900.9,196 901,195.4 901.2,194.9 901.4,194.3 901.6,193.8 901.7,193.3 901.9,192.8 902.1,192.3 902.3,191.8 902.4,191.3 902.6,190.8 902.8,190.4 903,189.9 903.1,189.4 903.3,189 903.5,188.5 903.7,188.1 903.8,187.6 904,187.2 904.2,186.7 904.4,186.3 904.5,185.8 904.7,185.3 904.9,184.9 905.1,184.4 905.2,183.9 905.4,183.4 905.6,182.9 905.7,182.4 905.9,181.9 906.1,181.4 906.3,180.8 906.4,180.3 906.6,179.7 906.8,179.2 907,178.6 907.1,178 907.3,177.4 907.5,176.7 907.7,176.1 907.8,175.4 908,174.7 908.2,174 908.4,173.3 908.5,172.5 908.7,171.8 908.9,171 909.1,170.2 909.2,169.3 909.4,168.5 909.6,167.6 909.8,166.7 909.9,165.7 910.1,164.8 910.3,163.8 910.5,162.8 910.6,161.7 910.8,160.6 911,159.5 911.2,158.4 911.3,157.2 911.5,156.4 911.7,158.4 911.8,160.4 912,162.3 912.2,164.3 912.4,166.3 912.5,168.2 912.7,170.1 912.9,172.1 913.1,174 913.2,175.9 913.4,177.8 913.6,179.8 913.8,181.7 913.9,183.5 914.1,185.4 914.3,187.3 914.5,189.2 914.6,191.1 914.8,192.9 915,194.8 915.2,196.6 915.3,198.5 915.5,200.3 915.7,202.1 915.9,204 916,205.8 916.2,207.6 916.4,209.4 916.6,211.2 916.7,213 916.9,214.8 917.1,216.5 917.3,218.3 917.4,218.5 917.6,217.3 917.8,216.1 917.9,215 918.1,213.9 918.3,212.8 918.5,211.8 918.6,210.8 918.8,209.8 919,208.9 919.2,208 919.3,207.1 919.5,206.3 919.7,205.4 919.9,204.6 920,203.9 920.2,203.1 920.4,202.4 920.6,201.7 920.7,201 920.9,200.4 921.1,199.8 921.3,199.1 921.4,198.6 921.6,198 921.8,197.4 922,196.9 922.1,196.4 922.3,195.9 922.5,195.4 922.7,194.9 922.8,194.4 923,194 923.2,193.5 923.3,193.1 923.5,192.7 923.7,192.2 923.9,191.8 924,191.4 924.2,191 924.4,190.7 924.6,190.3 924.7,189.9 924.9,189.5 925.1,189.2 925.3,188.8 925.4,188.4 925.6,188.1 925.8,187.7 926,187.3 926.1,187 926.3,186.6 926.5,186.2 926.7,185.9 926.8,185.5 927,185.1 927.2,184.7 927.4,184.3 927.5,183.9 927.7,183.5 927.9,183.1 928.1,182.7 928.2,182.3 928.4,181.8 928.6,181.4 928.8,180.9 928.9,180.5 929.1,180 929.3,179.5 929.4,179 929.6,178.5 929.8,178 930,177.4 930.1,176.9 930.3,176.3 930.5,175.7 930.7,175.1 930.8,174.5 931,173.8 931.2,173.2 931.4,172.5 931.5,171.8 931.7,171.1 931.9,170.3 932.1,169.6 932.2,168.8 932.4,168 932.6,167.2 932.8,166.3 932.9,165.5 933.1,164.6 933.3,163.6 933.5,163.9 933.6,165.4 933.8,167 934,168.5 934.2,170.1 934.3,171.6 934.5,173.1 934.7,174.7 934.9,176.2 935,177.7 935.2,179.2 935.4,180.7 935.5,182.2 935.7,183.7 935.9,185.2 936.1,186.6 936.2,188.1 936.4,189.6 936.6,191 936.8,192.5 936.9,193.9 937.1,195.3 937.3,196.8 937.5,198.2 937.6,199.6 937.8,201 938,202.4 938.2,203.8 938.3,205.2 938.5,206.5 938.7,207.9 938.9,209.3 939,210.6 939.2,212 939.4,211.4 939.6,210.4 939.7,209.5 939.9,208.7 940.1,207.8 940.3,207 940.4,206.2 940.6,205.4 940.8,204.7 941,203.9 941.1,203.2 941.3,202.6 941.5,201.9 941.6,201.3 941.8,200.7 942,200.1 942.2,199.5 942.3,199 942.5,198.4 942.7,197.9 942.9,197.4 943,197 943.2,196.5 943.4,196 943.6,195.6 943.7,195.2 943.9,194.8 944.1,194.4 944.3,194 944.4,193.6 944.6,193.2 944.8,192.9 945,192.5 945.1,192.2 945.3,191.9 945.5,191.6 945.7,191.2 945.8,190.9 946,190.6 946.2,190.3 946.4,190.1 946.5,189.8 946.7,189.5 946.9,189.2 947.1,188.9 947.2,188.6 947.4,188.4 947.6,188.1 947.7,187.8 947.9,187.6 948.1,187.3 948.3,187 948.4,186.7 948.6,186.5 948.8,186.2 949,185.9 949.1,185.6 949.3,185.3 949.5,185 949.7,184.7 949.8,184.4 950,184.1 950.2,183.8 950.4,183.5 950.5,183.1 950.7,182.8 950.9,182.5 951.1,182.1 951.2,181.8 951.4,181.4 951.6,181 951.8,180.6 951.9,180.2 952.1,179.8 952.3,179.4 952.5,179 952.6,178.5 952.8,178.1 953,177.6 953.2,177.1 953.3,176.6 953.5,176.1 953.7,175.6 953.8,175.1 954,174.5 954.2,173.9 954.4,173.4 954.5,172.8 954.7,172.2 954.9,171.5 955.1,170.9 955.2,170.2 955.4,171 955.6,172.2 955.8,173.3 955.9,174.4 956.1,175.6 956.3,176.7 956.5,177.8 956.6,178.9 956.8,180 957,181.1 957.2,182.2 957.3,183.3 957.5,184.4 957.7,185.4 957.9,186.5 958,187.5 958.2,188.6 958.4,189.6 958.6,190.7 958.7,191.7 958.9,192.7 959.1,193.7 959.3,194.7 959.4,195.7 959.6,196.7 959.8,197.7 959.9,198.7 960.1,199.7 960.3,200.7 960.5,201.6 960.6,202.6 960.8,203.5 961,204.5 961.2,205.1 961.3,204.4 961.5,203.7 961.7,203.1 961.9,202.5 962,201.9 962.2,201.3 962.4,200.7 962.6,200.2 962.7,199.6 962.9,199.1 963.1,198.7 963.3,198.2 963.4,197.7 963.6,197.3 963.8,196.8 964,196.4 964.1,196 964.3,195.7 964.5,195.3 964.7,194.9 964.8,194.6 965,194.2 965.2,193.9 965.4,193.6 965.5,193.3 965.7,193 965.9,192.7 966,192.5 966.2,192.2 966.4,191.9 966.6,191.7 966.7,191.4 966.9,191.2 967.1,191 967.3,190.8 967.4,190.5 967.6,190.3 967.8,190.1 968,189.9 968.1,189.7 968.3,189.5 968.5,189.3 968.7,189.1 968.8,188.9 969,188.8 969.2,188.6 969.4,188.4 969.5,188.2 969.7,188 969.9,187.8 970.1,187.7 970.2,187.5 970.4,187.3 970.6,187.1 970.8,186.9 970.9,186.8 971.1,186.6 971.3,186.4 971.4,186.2 971.6,186 971.8,185.8 972,185.6 972.1,185.4 972.3,185.2 972.5,185 972.7,184.8 972.8,184.5 973,184.3 973.2,184.1 973.4,183.8 973.5,183.6 973.7,183.4 973.9,183.1 974.1,182.9 974.2,182.6 974.4,182.3 974.6,182 974.8,181.8 974.9,181.5 975.1,181.2 975.3,180.9 975.5,180.6 975.6,180.2 975.8,179.9 976,179.6 976.2,179.2 976.3,178.9 976.5,178.5 976.7,178.2 976.9,177.8 977,177.4 977.2,177.2 977.4,177.9 977.5,178.6 977.7,179.4 977.9,180.1 978.1,180.8 978.2,181.5 978.4,182.2 978.6,182.9 978.8,183.6 978.9,184.2 979.1,184.9 979.3,185.6 979.5,186.2 979.6,186.9 979.8,187.5 980,188.2 980.2,188.8 980.3,189.4 980.5,190.1 980.7,190.7 980.9,191.3 981,191.9 981.2,192.5 981.4,193 981.6,193.6 981.7,194.2 981.9,194.8 982.1,195.3 982.3,195.9 982.4,196.4 982.6,197 982.8,197.5 983,198 983.1,198 983.3,197.6 983.5,197.2 983.6,196.8 983.8,196.5 984,196.1 984.2,195.7 984.3,195.4 984.5,195.1 984.7,194.8 984.9,194.5 985,194.2 985.2,193.9 985.4,193.6 985.6,193.4 985.7,193.1 985.9,192.9 986.1,192.7 986.3,192.4 986.4,192.2 986.6,192 986.8,191.8 987,191.6 987.1,191.4 987.3,191.3 987.5,191.1 987.7,190.9 987.8,190.8 988,190.6 988.2,190.5 988.4,190.3 988.5,190.2 988.7,190.1 988.9,189.9 989.1,189.8 989.2,189.7 989.4,189.6 989.6,189.5 989.7,189.4 989.9,189.2 990.1,189.1 990.3,189 990.4,188.9 990.6,188.8 990.8,188.7 991,188.6 991.1,188.6 991.3,188.5 991.5,188.4 991.7,188.3 991.8,188.2 992,188.1 992.2,188 992.4,187.9 992.5,187.8 992.7,187.8 992.9,187.7 993.1,187.6 993.2,187.5 993.4,187.4 993.6,187.3 993.8,187.2 993.9,187.2 994.1,187.1 994.3,187 994.5,186.9 994.6,186.8 994.8,186.7 995,186.6 995.2,186.5 995.3,186.4 995.5,186.3 995.7,186.2 995.8,186.1 996,186 996.2,185.9 996.4,185.8 996.5,185.7 996.7,185.6 996.9,185.5 997.1,185.4 997.2,185.3 997.4,185.2 997.6,185 997.8,184.9 997.9,184.8 998.1,184.7 998.3,184.6 998.5,184.5 998.6,184.3 998.8,184.2 999,184.1 999.2,184.2 999.3,184.5 999.5,184.8 999.7,185.1 999.9,185.4 1000,185.7 1000.2,186 1000.4,186.3 1000.6,186.6 1000.7,186.8 1000.9,187.1 1001.1,187.4 1001.3,187.6 1001.4,187.8 1001.6,188.1 1001.8,188.3 1001.9,188.5 1002.1,188.7 1002.3,189 1002.5,189.2 1002.6,189.3 1002.8,189.5 1003,189.7 1003.2,189.9 1003.3,190.1 1003.5,190.2 1003.7,190.4 1003.9,190.5 1004,190.7 1004.2,190.8 1004.4,190.9 1004.6,191.1 1004.7,191.2 1004.9,191.3 1005.1,191.2 1005.3,191 1005.4,190.9 1005.6,190.7 1005.8,190.6 1006,190.5 1006.1,190.4 1006.3,190.2 1006.5,190.1 1006.7,190 1006.8,189.9 1007,189.8 1007.2,189.8 1007.4,189.7 1007.5,189.6 1007.7,189.5 1007.9,189.5 1008,189.4 1008.2,189.3 1008.4,189.3 1008.6,189.2 1008.7,189.2 1008.9,189.1 1009.1,189.1 1009.3,189 1009.4,189 1009.6,188.9 1009.8,188.9 1010,188.9 1010.1,188.8 1010.3,188.8 1010.5,188.8 1010.7,188.8 1010.8,188.7 1011,188.7 1011.2,188.7 1011.4,188.7 1011.5,188.7 1011.7,188.7 1011.9,188.6 1012.1,188.6 1012.2,188.6 1012.4,188.6 1012.6,188.6 1012.8,188.6 1012.9,188.6 1013.1,188.6 1013.3,188.6 1013.5,188.6"/>
</g>
<text transform="translate(650.7,62.2) scale(1.0000,1.0630)" font-size="39" text-anchor="end" fill="#262626" font-family="'Liberation Sans', Arial, Helvetica, sans-serif" stroke="#262626" stroke-width="0.5">100</text>
<text transform="translate(650.7,205.2) scale(1.0000,1.0630)" font-size="39" text-anchor="end" fill="#262626" font-family="'Liberation Sans', Arial, Helvetica, sans-serif" stroke="#262626" stroke-width="0.5">0</text>
<text transform="translate(650.7,347.7) scale(1.0000,1.0630)" font-size="39" text-anchor="end" fill="#262626" font-family="'Liberation Sans', Arial, Helvetica, sans-serif" stroke="#262626" stroke-width="0.5">-100</text>
<text transform="translate(663.7,384.5) scale(1.0000,1.0630)" font-size="39" text-anchor="middle" fill="#262626" font-family="'Liberation Sans', Arial, Helvetica, sans-serif" stroke="#262626" stroke-width="0.5">-100</text>
<text transform="translate(837.97,384.5) scale(1.0000,1.0630)" font-size="39" text-anchor="middle" fill="#262626" font-family="'Liberation Sans', Arial, Helvetica, sans-serif" stroke="#262626" stroke-width="0.5">-50</text>
<text transform="translate(1012.25,384.5) scale(1.0000,1.0630)" font-size="39" text-anchor="middle" fill="#262626" font-family="'Liberation Sans', Arial, Helvetica, sans-serif" stroke="#262626" stroke-width="0.5">0</text>
<text x="953.6" y="88.7" font-size="42.8" text-anchor="start" fill="#000" font-family="'Liberation Sans', Arial, Helvetica, sans-serif">(b)</text>
<text transform="translate(565,184.6) rotate(-90)" font-size="44.2" text-anchor="middle" fill="#262626" font-family="'Liberation Serif', 'DejaVu Serif', serif">Γ</text>
<g fill="#262626" font-family="'Liberation Serif', 'DejaVu Serif', serif">
<text transform="translate(796.12,431.2) scale(1.181,1)" font-size="46.3">Δ</text>
<text transform="translate(833.7,441.5) skewX(-5.3) scale(1,1.382)" font-size="45">/</text>
<text transform="translate(853.1,431.2) scale(1.04,0.95)" font-size="41.7" font-style="italic">v</text>
<text x="873.4" y="438.6" font-size="28.2" font-style="italic">g</text>
</g>
<clipPath id="clip_c"><rect x="131.3" y="489.4" width="352.3" height="294.2"/></clipPath>
<rect x="132" y="491" width="350.9" height="291" fill="none" stroke="#262626" stroke-width="1.4"/>
<path d="M132,782v-3.9M132,491v3.9M307.45,782v-3.9M307.45,491v3.9M482.9,782v-3.9M482.9,491v3.9M132,768.6h3.9M482.9,768.6h-3.9M132,640.35h3.9M482.9,640.35h-3.9M132,512.1h3.9M482.9,512.1h-3.9" stroke="#262626" stroke-width="1.4" fill="none"/>
<g clip-path="url(#clip_c)" fill="none" stroke-width="2.45" stroke-linejoin="round" stroke-linecap="butt">
<polyline stroke="#0000ff" points="132,683.5 132.2,686.8 132.4,690.8 132.5,695.4 132.7,700.5 132.9,705.9 133.1,711.5 133.2,717.3 133.4,723.1 133.6,729 133.8,735 133.9,740.8 134.1,746.7 134.3,752.3 134.5,757.7 134.6,762.7 134.8,766.9 135,770.2 135.2,772.4 135.3,773.4 135.5,773.1 135.7,771.7 135.9,769.2 136,766.1 136.2,762.5 136.4,758.5 136.6,754.4 136.7,750.2 136.9,746 137.1,741.7 137.3,737.5 137.4,733.2 137.6,728.9 137.8,724.7 138,720.5 138.1,716.2 138.3,712 138.5,707.7 138.7,703.5 138.8,699.3 139,695.1 139.2,690.9 139.4,686.6 139.5,682.4 139.7,678.2 139.9,674 140.1,669.8 140.2,665.7 140.4,661.5 140.6,657.3 140.8,653.1 140.9,648.9 141.1,644.8 141.3,640.6 141.5,636.5 141.6,632.4 141.8,628.4 142,624.3 142.2,620.3 142.4,616.2 142.5,612.2 142.7,608.1 142.9,604.1 143.1,600.1 143.2,596 143.4,592 143.6,588 143.8,584 143.9,580 144.1,576 144.3,572 144.5,568 144.6,564 144.8,560 145,556 145.2,552 145.3,548 145.5,544.1 145.7,540.1 145.9,536.2 146,532.2 146.2,528.3 146.4,524.4 146.6,520.7 146.7,517.2 146.9,514 147.1,511.3 147.3,509.2 147.4,508 147.6,507.7 147.8,508.4 148,510 148.1,512.4 148.3,515.5 148.5,519 148.7,522.8 148.8,526.9 149,531.2 149.2,535.5 149.4,540 149.5,544.5 149.7,549.1 149.9,553.7 150.1,558.4 150.2,563.1 150.4,567.9 150.6,572.7 150.8,577.6 150.9,582.5 151.1,587.4 151.3,592.3 151.5,597.3 151.7,602.3 151.8,607.4 152,612.4 152.2,617.5 152.4,622.6 152.5,627.8 152.7,632.9 152.9,638.1 153.1,643.4 153.2,648.8 153.4,654.1 153.6,659.5 153.8,664.9 153.9,670.3 154.1,675.7 154.3,681.2 154.5,686.6 154.6,692.1 154.8,697.6 155,703.1 155.2,708.6 155.3,714.1 155.5,719.7 155.7,725.2 155.9,730.7 156,736.2 156.2,741.7 156.4,746.9 156.6,751.8 156.7,756.3 156.9,760 157.1,762.8 157.3,764.4 157.4,764.9 157.6,764.3 157.8,762.6 158,760 158.1,756.9 158.3,753.4 158.5,749.6 158.7,745.7 158.8,741.8 159,737.8 159.2,733.8 159.4,729.8 159.5,725.8 159.7,721.9 159.9,717.9 160.1,713.9 160.2,709.9 160.4,706 160.6,702 160.8,698 160.9,694.1 161.1,690.1 161.3,686.2 161.5,682.2 161.7,678.3 161.8,674.4 162,670.5 162.2,666.5 162.4,662.6 162.5,658.7 162.7,654.8 162.9,650.9 163.1,647 163.2,643.1 163.4,639.2 163.6,635.4 163.8,631.6 163.9,627.8 164.1,624 164.3,620.2 164.5,616.4 164.6,612.6 164.8,608.8 165,605.1 165.2,601.3 165.3,597.5 165.5,593.8 165.7,590 165.9,586.3 166,582.5 166.2,578.8 166.4,575.1 166.6,571.3 166.7,567.6 166.9,563.9 167.1,560.2 167.3,556.4 167.4,552.7 167.6,549 167.8,545.3 168,541.6 168.1,538 168.3,534.3 168.5,530.7 168.7,527.3 168.8,524.1 169,521.2 169.2,518.9 169.4,517.3 169.5,516.4 169.7,516.5 169.9,517.4 170.1,519.2 170.2,521.7 170.4,524.7 170.6,528.1 170.8,531.8 170.9,535.6 171.1,539.6 171.3,543.7 171.5,547.9 171.7,552.2 171.8,556.5 172,560.8 172.2,565.2 172.4,569.6 172.5,574.1 172.7,578.6 172.9,583.2 173.1,587.7 173.2,592.3 173.4,597 173.6,601.6 173.8,606.3 173.9,611 174.1,615.8 174.3,620.5 174.5,625.3 174.6,630.1 174.8,634.9 175,639.8 175.2,644.8 175.3,649.8 175.5,654.8 175.7,659.8 175.9,664.8 176,669.9 176.2,674.9 176.4,680 176.6,685.1 176.7,690.2 176.9,695.3 177.1,700.5 177.3,705.6 177.4,710.8 177.6,716 177.8,721.1 178,726.3 178.1,731.4 178.3,736.4 178.5,741.2 178.7,745.7 178.8,749.6 179,752.8 179.2,755.1 179.4,756.3 179.5,756.4 179.7,755.4 179.9,753.5 180.1,750.9 180.2,747.8 180.4,744.5 180.6,740.9 180.8,737.2 181,733.5 181.1,729.8 181.3,726.1 181.5,722.4 181.7,718.7 181.8,714.9 182,711.2 182.2,707.5 182.4,703.8 182.5,700.1 182.7,696.4 182.9,692.7 183.1,689.1 183.2,685.4 183.4,681.7 183.6,678 183.8,674.4 183.9,670.7 184.1,667 184.3,663.4 184.5,659.7 184.6,656.1 184.8,652.5 185,648.8 185.2,645.2 185.3,641.6 185.5,637.9 185.7,634.4 185.9,630.9 186,627.3 186.2,623.8 186.4,620.3 186.6,616.8 186.7,613.3 186.9,609.7 187.1,606.2 187.3,602.7 187.4,599.2 187.6,595.7 187.8,592.3 188,588.8 188.1,585.3 188.3,581.8 188.5,578.3 188.7,574.9 188.8,571.4 189,567.9 189.2,564.5 189.4,561 189.5,557.6 189.7,554.1 189.9,550.7 190.1,547.3 190.2,543.9 190.4,540.5 190.6,537.2 190.8,534.1 191,531.2 191.1,528.7 191.3,526.7 191.5,525.4 191.7,524.9 191.8,525.3 192,526.4 192.2,528.3 192.4,530.8 192.5,533.7 192.7,537 192.9,540.5 193.1,544.2 193.2,547.9 193.4,551.8 193.6,555.7 193.8,559.6 193.9,563.7 194.1,567.7 194.3,571.8 194.5,575.9 194.6,580.1 194.8,584.3 195,588.6 195.2,592.8 195.3,597.1 195.5,601.4 195.7,605.8 195.9,610.1 196,614.5 196.2,618.9 196.4,623.3 196.6,627.8 196.7,632.2 196.9,636.7 197.1,641.3 197.3,645.9 197.4,650.5 197.6,655.2 197.8,659.9 198,664.5 198.1,669.2 198.3,673.9 198.5,678.6 198.7,683.4 198.8,688.1 199,692.9 199.2,697.6 199.4,702.4 199.5,707.2 199.7,712 199.9,716.8 200.1,721.5 200.3,726.2 200.4,730.8 200.6,735.2 200.8,739.2 201,742.6 201.1,745.3 201.3,747 201.5,747.8 201.7,747.5 201.8,746.3 202,744.4 202.2,741.8 202.4,738.9 202.5,735.7 202.7,732.3 202.9,728.9 203.1,725.5 203.2,722 203.4,718.5 203.6,715.1 203.8,711.6 203.9,708.2 204.1,704.8 204.3,701.3 204.5,697.9 204.6,694.5 204.8,691.1 205,687.6 205.2,684.2 205.3,680.8 205.5,677.4 205.7,674 205.9,670.6 206,667.2 206.2,663.8 206.4,660.4 206.6,657.1 206.7,653.7 206.9,650.3 207.1,646.9 207.3,643.6 207.4,640.2 207.6,636.9 207.8,633.6 208,630.4 208.1,627.1 208.3,623.8 208.5,620.6 208.7,617.3 208.8,614.1 209,610.8 209.2,607.6 209.4,604.3 209.5,601.1 209.7,597.9 209.9,594.6 210.1,591.4 210.3,588.2 210.4,585 210.6,581.8 210.8,578.6 211,575.4 211.1,572.2 211.3,569 211.5,565.8 211.7,562.6 211.8,559.4 212,556.3 212.2,553.1 212.4,550 212.5,546.9 212.7,543.9 212.9,541.1 213.1,538.5 213.2,536.4 213.4,534.8 213.6,533.8 213.8,533.6 213.9,534.2 214.1,535.5 214.3,537.4 214.5,539.9 214.6,542.7 214.8,545.8 215,549.1 215.2,552.5 215.3,556 215.5,559.6 215.7,563.2 215.9,566.9 216,570.7 216.2,574.4 216.4,578.2 216.6,582 216.7,585.9 216.9,589.8 217.1,593.7 217.3,597.7 217.4,601.6 217.6,605.6 217.8,609.6 218,613.7 218.1,617.7 218.3,621.8 218.5,625.9 218.7,630 218.8,634.1 219,638.3 219.2,642.5 219.4,646.8 219.5,651.1 219.7,655.4 219.9,659.7 220.1,664 220.3,668.3 220.4,672.7 220.6,677 220.8,681.4 221,685.8 221.1,690.2 221.3,694.5 221.5,699 221.7,703.4 221.8,707.8 222,712.2 222.2,716.6 222.4,720.9 222.5,725 222.7,729 222.9,732.5 223.1,735.4 223.2,737.6 223.4,738.9 223.6,739.3 223.8,738.7 223.9,737.4 224.1,735.3 224.3,732.8 224.5,730 224.6,727 224.8,723.9 225,720.7 225.2,717.6 225.3,714.4 225.5,711.2 225.7,708 225.9,704.8 226,701.7 226.2,698.5 226.4,695.3 226.6,692.2 226.7,689 226.9,685.8 227.1,682.7 227.3,679.6 227.4,676.4 227.6,673.3 227.8,670.2 228,667 228.1,663.9 228.3,660.8 228.5,657.7 228.7,654.6 228.8,651.5 229,648.4 229.2,645.3 229.4,642.2 229.6,639.1 229.7,636 229.9,633 230.1,630 230.3,627 230.4,624 230.6,621 230.8,618 231,615 231.1,612.1 231.3,609.1 231.5,606.1 231.7,603.1 231.8,600.2 232,597.2 232.2,594.3 232.4,591.3 232.5,588.4 232.7,585.4 232.9,582.5 233.1,579.5 233.2,576.6 233.4,573.7 233.6,570.7 233.8,567.8 233.9,564.9 234.1,562 234.3,559.1 234.5,556.3 234.6,553.5 234.8,550.8 235,548.2 235.2,546 235.3,544.2 235.5,542.9 235.7,542.2 235.9,542.3 236,543.1 236.2,544.5 236.4,546.5 236.6,548.9 236.7,551.6 236.9,554.5 237.1,557.5 237.3,560.7 237.4,564 237.6,567.3 237.8,570.6 238,574 238.1,577.4 238.3,580.9 238.5,584.4 238.7,587.9 238.8,591.5 239,595.1 239.2,598.7 239.4,602.3 239.6,606 239.7,609.6 239.9,613.3 240.1,617 240.3,620.7 240.4,624.5 240.6,628.2 240.8,632 241,635.8 241.1,639.6 241.3,643.5 241.5,647.4 241.7,651.4 241.8,655.3 242,659.3 242.2,663.2 242.4,667.2 242.5,671.2 242.7,675.2 242.9,679.2 243.1,683.2 243.2,687.2 243.4,691.2 243.6,695.2 243.8,699.3 243.9,703.3 244.1,707.3 244.3,711.3 244.5,715.2 244.6,719 244.8,722.5 245,725.5 245.2,728 245.3,729.8 245.5,730.7 245.7,730.7 245.9,729.9 246,728.4 246.2,726.4 246.4,724 246.6,721.3 246.7,718.5 246.9,715.7 247.1,712.8 247.3,709.8 247.4,706.9 247.6,704 247.8,701.1 248,698.2 248.1,695.3 248.3,692.4 248.5,689.5 248.7,686.6 248.8,683.7 249,680.8 249.2,678 249.4,675.1 249.6,672.2 249.7,669.3 249.9,666.5 250.1,663.6 250.3,660.8 250.4,657.9 250.6,655.1 250.8,652.2 251,649.4 251.1,646.6 251.3,643.7 251.5,640.9 251.7,638.1 251.8,635.4 252,632.6 252.2,629.9 252.4,627.1 252.5,624.4 252.7,621.7 252.9,618.9 253.1,616.2 253.2,613.5 253.4,610.8 253.6,608.1 253.8,605.4 253.9,602.7 254.1,600 254.3,597.3 254.5,594.6 254.6,591.9 254.8,589.2 255,586.5 255.2,583.9 255.3,581.2 255.5,578.5 255.7,575.9 255.9,573.2 256,570.6 256.2,567.9 256.4,565.3 256.6,562.7 256.7,560.2 256.9,557.8 257.1,555.6 257.3,553.6 257.4,552.1 257.6,551.1 257.8,550.8 258,551.1 258.1,552 258.3,553.5 258.5,555.4 258.7,557.7 258.9,560.2 259,563 259.2,565.8 259.4,568.7 259.6,571.7 259.7,574.7 259.9,577.8 260.1,580.9 260.3,584 260.4,587.2 260.6,590.4 260.8,593.6 261,596.9 261.1,600.1 261.3,603.4 261.5,606.7 261.7,610.1 261.8,613.4 262,616.8 262.2,620.1 262.4,623.5 262.5,626.9 262.7,630.4 262.9,633.8 263.1,637.2 263.2,640.7 263.4,644.3 263.6,647.9 263.8,651.4 263.9,655 264.1,658.6 264.3,662.2 264.5,665.8 264.6,669.4 264.8,673 265,676.7 265.2,680.3 265.3,684 265.5,687.6 265.7,691.3 265.9,694.9 266,698.6 266.2,702.2 266.4,705.8 266.6,709.3 266.7,712.6 266.9,715.7 267.1,718.3 267.3,720.3 267.4,721.6 267.6,722.2 267.8,722 268,721 268.1,719.5 268.3,717.5 268.5,715.2 268.7,712.8 268.9,710.2 269,707.6 269.2,705 269.4,702.3 269.6,699.7 269.7,697 269.9,694.4 270.1,691.7 270.3,689.1 270.4,686.5 270.6,683.8 270.8,681.2 271,678.6 271.1,676 271.3,673.4 271.5,670.8 271.7,668.2 271.8,665.6 272,663 272.2,660.4 272.4,657.8 272.5,655.2 272.7,652.7 272.9,650.1 273.1,647.5 273.2,645 273.4,642.4 273.6,639.9 273.8,637.3 273.9,634.9 274.1,632.4 274.3,629.9 274.5,627.4 274.6,624.9 274.8,622.5 275,620 275.2,617.6 275.3,615.1 275.5,612.6 275.7,610.2 275.9,607.8 276,605.3 276.2,602.9 276.4,600.5 276.6,598 276.7,595.6 276.9,593.2 277.1,590.8 277.3,588.4 277.4,586 277.6,583.6 277.8,581.2 278,578.8 278.1,576.4 278.3,574 278.5,571.7 278.7,569.4 278.9,567.1 279,565 279.2,563.1 279.4,561.5 279.6,560.3 279.7,559.6 279.9,559.5 280.1,559.9 280.3,560.9 280.4,562.4 280.6,564.3 280.8,566.4 281,568.8 281.1,571.3 281.3,573.9 281.5,576.5 281.7,579.2 281.8,582 282,584.8 282.2,587.6 282.4,590.4 282.5,593.3 282.7,596.2 282.9,599.1 283.1,602 283.2,605 283.4,607.9 283.6,610.9 283.8,613.9 283.9,616.9 284.1,620 284.3,623 284.5,626.1 284.6,629.2 284.8,632.2 285,635.3 285.2,638.4 285.3,641.6 285.5,644.8 285.7,648 285.9,651.2 286,654.5 286.2,657.7 286.4,660.9 286.6,664.2 286.7,667.4 286.9,670.7 287.1,673.9 287.3,677.2 287.4,680.5 287.6,683.8 287.8,687 288,690.3 288.2,693.6 288.3,696.9 288.5,700.1 288.7,703.2 288.9,706.1 289,708.7 289.2,710.8 289.4,712.5 289.6,713.4 289.7,713.7 289.9,713.2 290.1,712.2 290.3,710.7 290.4,708.8 290.6,706.7 290.8,704.4 291,702.1 291.1,699.7 291.3,697.3 291.5,694.9 291.7,692.6 291.8,690.2 292,687.8 292.2,685.5 292.4,683.1 292.5,680.7 292.7,678.4 292.9,676 293.1,673.7 293.2,671.3 293.4,669 293.6,666.7 293.8,664.3 293.9,662 294.1,659.7 294.3,657.4 294.5,655.1 294.6,652.7 294.8,650.4 295,648.1 295.2,645.8 295.3,643.6 295.5,641.3 295.7,639 295.9,636.7 296,634.5 296.2,632.3 296.4,630.1 296.6,627.9 296.7,625.7 296.9,623.5 297.1,621.3 297.3,619.1 297.4,616.9 297.6,614.7 297.8,612.5 298,610.3 298.2,608.2 298.3,606 298.5,603.8 298.7,601.7 298.9,599.5 299,597.4 299.2,595.2 299.4,593.1 299.6,590.9 299.7,588.8 299.9,586.7 300.1,584.5 300.3,582.4 300.4,580.3 300.6,578.2 300.8,576.2 301,574.2 301.1,572.4 301.3,570.8 301.5,569.4 301.7,568.5 301.8,568.1 302,568.1 302.2,568.7 302.4,569.8 302.5,571.3 302.7,573 302.9,575 303.1,577.2 303.2,579.4 303.4,581.8 303.6,584.1 303.8,586.6 303.9,589 304.1,591.5 304.3,594 304.5,596.6 304.6,599.2 304.8,601.7 305,604.3 305.2,607 305.3,609.6 305.5,612.2 305.7,614.9 305.9,617.6 306,620.3 306.2,623 306.4,625.7 306.6,628.4 306.7,631.2 306.9,633.9 307.1,636.6 307.3,639.4 307.4,642.3 307.6,645.1 307.8,648 308,650.8 308.2,653.7 308.3,656.5 308.5,659.4 308.7,662.3 308.9,665.2 309,668.1 309.2,671 309.4,673.9 309.6,676.8 309.7,679.7 309.9,682.6 310.1,685.5 310.3,688.4 310.4,691.2 310.6,694.1 310.8,696.7 311,699.2 311.1,701.4 311.3,703.2 311.5,704.4 311.7,705.1 311.8,705.1 312,704.5 312.2,703.4 312.4,701.9 312.5,700.2 312.7,698.2 312.9,696.2 313.1,694.1 313.2,692 313.4,689.9 313.6,687.8 313.8,685.7 313.9,683.6 314.1,681.5 314.3,679.4 314.5,677.3 314.6,675.2 314.8,673.1 315,671 315.2,668.9 315.3,666.9 315.5,664.8 315.7,662.7 315.9,660.7 316,658.6 316.2,656.6 316.4,654.5 316.6,652.5 316.7,650.4 316.9,648.4 317.1,646.4 317.3,644.3 317.5,642.3 317.6,640.3 317.8,638.3 318,636.3 318.2,634.4 318.3,632.4 318.5,630.5 318.7,628.5 318.9,626.6 319,624.6 319.2,622.7 319.4,620.8 319.6,618.8 319.7,616.9 319.9,615 320.1,613.1 320.3,611.2 320.4,609.3 320.6,607.4 320.8,605.5 321,603.6 321.1,601.7 321.3,599.8 321.5,597.9 321.7,596.1 321.8,594.2 322,592.3 322.2,590.5 322.4,588.6 322.5,586.8 322.7,584.9 322.9,583.2 323.1,581.5 323.2,579.9 323.4,578.6 323.6,577.6 323.8,576.9 323.9,576.6 324.1,576.9 324.3,577.5 324.5,578.6 324.6,580 324.8,581.6 325,583.5 325.2,585.4 325.3,587.4 325.5,589.5 325.7,591.6 325.9,593.7 326,595.9 326.2,598.1 326.4,600.3 326.6,602.6 326.7,604.8 326.9,607.1 327.1,609.4 327.3,611.7 327.5,614 327.6,616.3 327.8,618.7 328,621 328.2,623.4 328.3,625.8 328.5,628.1 328.7,630.5 328.9,632.9 329,635.3 329.2,637.7 329.4,640.2 329.6,642.7 329.7,645.1 329.9,647.6 330.1,650.1 330.3,652.6 330.4,655.1 330.6,657.6 330.8,660.2 331,662.7 331.1,665.2 331.3,667.7 331.5,670.3 331.7,672.8 331.8,675.3 332,677.9 332.2,680.4 332.4,682.9 332.5,685.4 332.7,687.8 332.9,690.1 333.1,692.1 333.2,693.9 333.4,695.3 333.6,696.2 333.8,696.6 333.9,696.4 334.1,695.7 334.3,694.6 334.5,693.2 334.6,691.7 334.8,689.9 335,688.1 335.2,686.3 335.3,684.5 335.5,682.6 335.7,680.8 335.9,678.9 336,677.1 336.2,675.3 336.4,673.4 336.6,671.6 336.8,669.8 336.9,668 337.1,666.2 337.3,664.4 337.5,662.6 337.6,660.8 337.8,659 338,657.2 338.2,655.4 338.3,653.6 338.5,651.8 338.7,650.1 338.9,648.3 339,646.5 339.2,644.8 339.4,643 339.6,641.3 339.7,639.5 339.9,637.8 340.1,636.1 340.3,634.4 340.4,632.7 340.6,631 340.8,629.3 341,627.7 341.1,626 341.3,624.3 341.5,622.6 341.7,621 341.8,619.3 342,617.7 342.2,616 342.4,614.4 342.5,612.7 342.7,611.1 342.9,609.5 343.1,607.8 343.2,606.2 343.4,604.6 343.6,603 343.8,601.4 343.9,599.7 344.1,598.1 344.3,596.5 344.5,595 344.6,593.4 344.8,591.8 345,590.3 345.2,588.9 345.3,587.7 345.5,586.6 345.7,585.8 345.9,585.4 346,585.3 346.2,585.7 346.4,586.4 346.6,587.4 346.8,588.7 346.9,590.1 347.1,591.7 347.3,593.4 347.5,595.2 347.6,597 347.8,598.8 348,600.7 348.2,602.6 348.3,604.5 348.5,606.4 348.7,608.3 348.9,610.3 349,612.2 349.2,614.2 349.4,616.2 349.6,618.2 349.7,620.2 349.9,622.2 350.1,624.2 350.3,626.3 350.4,628.3 350.6,630.3 350.8,632.4 351,634.5 351.1,636.5 351.3,638.6 351.5,640.7 351.7,642.8 351.8,645 352,647.1 352.2,649.2 352.4,651.4 352.5,653.5 352.7,655.6 352.9,657.8 353.1,659.9 353.2,662.1 353.4,664.2 353.6,666.4 353.8,668.6 353.9,670.7 354.1,672.9 354.3,675 354.5,677.2 354.6,679.2 354.8,681.3 355,683.2 355.2,684.9 355.3,686.3 355.5,687.3 355.7,687.9 355.9,688 356,687.7 356.2,687 356.4,686 356.6,684.7 356.8,683.3 356.9,681.8 357.1,680.3 357.3,678.7 357.5,677.1 357.6,675.5 357.8,674 358,672.4 358.2,670.8 358.3,669.3 358.5,667.7 358.7,666.1 358.9,664.6 359,663.1 359.2,661.5 359.4,660 359.6,658.4 359.7,656.9 359.9,655.4 360.1,653.9 360.3,652.4 360.4,650.8 360.6,649.3 360.8,647.8 361,646.3 361.1,644.8 361.3,643.4 361.5,641.9 361.7,640.4 361.8,638.9 362,637.5 362.2,636 362.4,634.6 362.5,633.2 362.7,631.7 362.9,630.3 363.1,628.9 363.2,627.5 363.4,626.1 363.6,624.7 363.8,623.3 363.9,621.9 364.1,620.5 364.3,619.1 364.5,617.7 364.6,616.4 364.8,615 365,613.6 365.2,612.3 365.3,610.9 365.5,609.5 365.7,608.2 365.9,606.8 366.1,605.5 366.2,604.2 366.4,602.8 366.6,601.5 366.8,600.2 366.9,598.9 367.1,597.7 367.3,596.5 367.5,595.5 367.6,594.7 367.8,594.2 368,593.9 368.2,594 368.3,594.4 368.5,595.1 368.7,596 368.9,597.2 369,598.5 369.2,599.9 369.4,601.3 369.6,602.8 369.7,604.3 369.9,605.9 370.1,607.4 370.3,609 370.4,610.6 370.6,612.3 370.8,613.9 371,615.5 371.1,617.2 371.3,618.8 371.5,620.5 371.7,622.1 371.8,623.8 372,625.5 372.2,627.2 372.4,628.9 372.5,630.6 372.7,632.3 372.9,634 373.1,635.8 373.2,637.5 373.4,639.2 373.6,641 373.8,642.8 373.9,644.6 374.1,646.3 374.3,648.1 374.5,649.9 374.6,651.7 374.8,653.5 375,655.3 375.2,657.1 375.3,658.9 375.5,660.7 375.7,662.4 375.9,664.2 376.1,666 376.2,667.8 376.4,669.5 376.6,671.3 376.8,673 376.9,674.6 377.1,676.1 377.3,677.3 377.5,678.4 377.6,679.1 377.8,679.5 378,679.5 378.2,679.1 378.3,678.4 378.5,677.5 378.7,676.5 378.9,675.3 379,674.1 379.2,672.8 379.4,671.5 379.6,670.3 379.7,669 379.9,667.7 380.1,666.4 380.3,665.1 380.4,663.8 380.6,662.6 380.8,661.3 381,660 381.1,658.7 381.3,657.4 381.5,656.1 381.7,654.9 381.8,653.6 382,652.3 382.2,651 382.4,649.8 382.5,648.5 382.7,647.2 382.9,646 383.1,644.7 383.2,643.5 383.4,642.2 383.6,641 383.8,639.7 383.9,638.5 384.1,637.3 384.3,636.1 384.5,634.9 384.6,633.7 384.8,632.5 385,631.3 385.2,630.1 385.3,629 385.5,627.8 385.7,626.6 385.9,625.5 386.1,624.3 386.2,623.1 386.4,622 386.6,620.8 386.8,619.7 386.9,618.6 387.1,617.5 387.3,616.3 387.5,615.2 387.6,614.1 387.8,613 388,612 388.2,610.9 388.3,609.8 388.5,608.8 388.7,607.8 388.9,606.8 389,605.8 389.2,604.9 389.4,604.1 389.6,603.4 389.7,602.9 389.9,602.6 390.1,602.5 390.3,602.7 390.4,603.1 390.6,603.7 390.8,604.5 391,605.4 391.1,606.4 391.3,607.5 391.5,608.6 391.7,609.8 391.8,611 392,612.3 392.2,613.5 392.4,614.8 392.5,616.1 392.7,617.4 392.9,618.8 393.1,620.1 393.2,621.4 393.4,622.8 393.6,624.2 393.8,625.6 393.9,627 394.1,628.4 394.3,629.8 394.5,631.2 394.6,632.6 394.8,634 395,635.4 395.2,636.8 395.4,638.3 395.5,639.7 395.7,641.2 395.9,642.7 396.1,644.1 396.2,645.6 396.4,647.1 396.6,648.5 396.8,650 396.9,651.5 397.1,652.9 397.3,654.4 397.5,655.8 397.6,657.2 397.8,658.6 398,660 398.2,661.4 398.3,662.7 398.5,664 398.7,665.3 398.9,666.6 399,667.7 399.2,668.7 399.4,669.6 399.6,670.3 399.7,670.7 399.9,670.9 400.1,670.8 400.3,670.5 400.4,670 400.6,669.3 400.8,668.5 401,667.7 401.1,666.8 401.3,665.8 401.5,664.9 401.7,663.9 401.8,662.9 402,661.9 402.2,660.9 402.4,659.9 402.5,658.8 402.7,657.8 402.9,656.8 403.1,655.7 403.2,654.7 403.4,653.7 403.6,652.6 403.8,651.6 403.9,650.5 404.1,649.5 404.3,648.5 404.5,647.4 404.6,646.4 404.8,645.3 405,644.3 405.2,643.3 405.4,642.3 405.5,641.2 405.7,640.2 405.9,639.2 406.1,638.2 406.2,637.3 406.4,636.3 406.6,635.3 406.8,634.4 406.9,633.4 407.1,632.5 407.3,631.5 407.5,630.6 407.6,629.6 407.8,628.7 408,627.8 408.2,626.9 408.3,626 408.5,625.1 408.7,624.2 408.9,623.3 409,622.4 409.2,621.5 409.4,620.7 409.6,619.8 409.7,619 409.9,618.2 410.1,617.4 410.3,616.6 410.4,615.8 410.6,615.1 410.8,614.4 411,613.7 411.1,613.1 411.3,612.5 411.5,612 411.7,611.6 411.8,611.3 412,611.1 412.2,611.2 412.4,611.4 412.5,611.7 412.7,612.2 412.9,612.8 413.1,613.5 413.2,614.3 413.4,615.1 413.6,615.9 413.8,616.8 413.9,617.7 414.1,618.7 414.3,619.6 414.5,620.6 414.6,621.6 414.8,622.6 415,623.6 415.2,624.7 415.4,625.7 415.5,626.8 415.7,627.9 415.9,628.9 416.1,630 416.2,631.1 416.4,632.2 416.6,633.3 416.8,634.4 416.9,635.5 417.1,636.6 417.3,637.7 417.5,638.8 417.6,640 417.8,641.1 418,642.2 418.2,643.4 418.3,644.5 418.5,645.6 418.7,646.8 418.9,647.9 419,649 419.2,650.1 419.4,651.1 419.6,652.2 419.7,653.2 419.9,654.2 420.1,655.2 420.3,656.2 420.4,657.2 420.6,658.1 420.8,658.9 421,659.8 421.1,660.5 421.3,661.2 421.5,661.7 421.7,662.1 421.8,662.3 422,662.4 422.2,662.3 422.4,662 422.5,661.6 422.7,661.2 422.9,660.6 423.1,660 423.2,659.4 423.4,658.7 423.6,658.1 423.8,657.4 423.9,656.6 424.1,655.9 424.3,655.2 424.5,654.4 424.7,653.6 424.8,652.9 425,652.1 425.2,651.3 425.4,650.5 425.5,649.7 425.7,649 425.9,648.2 426.1,647.4 426.2,646.6 426.4,645.8 426.6,645 426.8,644.2 426.9,643.5 427.1,642.7 427.3,641.9 427.5,641.1 427.6,640.4 427.8,639.6 428,638.9 428.2,638.1 428.3,637.4 428.5,636.7 428.7,636 428.9,635.3 429,634.6 429.2,633.9 429.4,633.2 429.6,632.5 429.7,631.9 429.9,631.2 430.1,630.5 430.3,629.9 430.4,629.2 430.6,628.6 430.8,627.9 431,627.3 431.1,626.7 431.3,626.1 431.5,625.5 431.7,624.9 431.8,624.4 432,623.8 432.2,623.3 432.4,622.8 432.5,622.3 432.7,621.8 432.9,621.4 433.1,621 433.2,620.6 433.4,620.3 433.6,620.1 433.8,619.9 433.9,619.8 434.1,619.7 434.3,619.8 434.5,620 434.7,620.3 434.8,620.6 435,621.1 435.2,621.5 435.4,622.1 435.5,622.6 435.7,623.2 435.9,623.8 436.1,624.4 436.2,625.1 436.4,625.7 436.6,626.4 436.8,627.1 436.9,627.8 437.1,628.5 437.3,629.3 437.5,630 437.6,630.7 437.8,631.5 438,632.3 438.2,633 438.3,633.8 438.5,634.5 438.7,635.3 438.9,636.1 439,636.8 439.2,637.6 439.4,638.3 439.6,639.1 439.7,639.9 439.9,640.7 440.1,641.5 440.3,642.2 440.4,643 440.6,643.8 440.8,644.5 441,645.2 441.1,646 441.3,646.7 441.5,647.4 441.7,648 441.8,648.7 442,649.3 442.2,650 442.4,650.5 442.5,651.1 442.7,651.6 442.9,652.1 443.1,652.6 443.2,653 443.4,653.3 443.6,653.6 443.8,653.7 444,653.8 444.1,653.8 444.3,653.7 444.5,653.5 444.7,653.3 444.8,653 445,652.7 445.2,652.3 445.4,651.9 445.5,651.5 445.7,651.1 445.9,650.6 446.1,650.2 446.2,649.7 446.4,649.2 446.6,648.7 446.8,648.2 446.9,647.7 447.1,647.2 447.3,646.7 447.5,646.2 447.6,645.7 447.8,645.2 448,644.6 448.2,644.1 448.3,643.6 448.5,643.1 448.7,642.6 448.9,642.1 449,641.6 449.2,641.1 449.4,640.6 449.6,640.1 449.7,639.6 449.9,639.2 450.1,638.7 450.3,638.2 450.4,637.8 450.6,637.4 450.8,636.9 451,636.5 451.1,636.1 451.3,635.7 451.5,635.2 451.7,634.8 451.8,634.4 452,634 452.2,633.7 452.4,633.3 452.5,632.9 452.7,632.5 452.9,632.2 453.1,631.8 453.2,631.5 453.4,631.2 453.6,630.8 453.8,630.5 454,630.2 454.1,630 454.3,629.7 454.5,629.5 454.7,629.2 454.8,629 455,628.8 455.2,628.7 455.4,628.5 455.5,628.4 455.7,628.4 455.9,628.3 456.1,628.3 456.2,628.4 456.4,628.5 456.6,628.6 456.8,628.8 456.9,629 457.1,629.3 457.3,629.5 457.5,629.8 457.6,630.1 457.8,630.5 458,630.8 458.2,631.2 458.3,631.5 458.5,631.9 458.7,632.3 458.9,632.7 459,633.1 459.2,633.5 459.4,633.9 459.6,634.3 459.7,634.7 459.9,635.1 460.1,635.5 460.3,635.9 460.4,636.3 460.6,636.7 460.8,637.1 461,637.5 461.1,637.9 461.3,638.3 461.5,638.7 461.7,639.1 461.8,639.5 462,639.9 462.2,640.3 462.4,640.7 462.5,641.1 462.7,641.4 462.9,641.8 463.1,642.1 463.2,642.4 463.4,642.8 463.6,643.1 463.8,643.4 464,643.6 464.1,643.9 464.3,644.1 464.5,644.4 464.7,644.6 464.8,644.8 465,644.9 465.2,645.1 465.4,645.2 465.5,645.2 465.7,645.3 465.9,645.3 466.1,645.3 466.2,645.3 466.4,645.2 466.6,645.1 466.8,645 466.9,644.8 467.1,644.7 467.3,644.5 467.5,644.3 467.6,644.1 467.8,643.9 468,643.7 468.2,643.5 468.3,643.3 468.5,643 468.7,642.8 468.9,642.6 469,642.3 469.2,642.1 469.4,641.9 469.6,641.7 469.7,641.4 469.9,641.2 470.1,641 470.3,640.8 470.4,640.6 470.6,640.4 470.8,640.2 471,640 471.1,639.8 471.3,639.6 471.5,639.4 471.7,639.2 471.8,639 472,638.9 472.2,638.7 472.4,638.6 472.5,638.4 472.7,638.3 472.9,638.2 473.1,638 473.3,637.9 473.4,637.8 473.6,637.7 473.8,637.6 474,637.5 474.1,637.4 474.3,637.3 474.5,637.2 474.7,637.1 474.8,637 475,637 475.2,636.9 475.4,636.8 475.5,636.8 475.7,636.7 475.9,636.7 476.1,636.7 476.2,636.7 476.4,636.7 476.6,636.7 476.8,636.7 476.9,636.7 477.1,636.7 477.3,636.7 477.5,636.7 477.6,636.8 477.8,636.8 478,636.9 478.2,637 478.3,637 478.5,637.1 478.7,637.2 478.9,637.3 479,637.3 479.2,637.4 479.4,637.5 479.6,637.6 479.7,637.7 479.9,637.8 480.1,637.9 480.3,638 480.4,638 480.6,638.1 480.8,638.2 481,638.3 481.1,638.3 481.3,638.4 481.5,638.5 481.7,638.5 481.8,638.6 482,638.6 482.2,638.7 482.4,638.7 482.5,638.7 482.7,638.8 482.9,638.8"/>
<polyline stroke="#ff0000" points="132,509 132.2,505.7 132.4,502.3 132.5,499.4 132.7,497 132.9,494.9 133.1,493.2 133.2,491.8 133.4,490.9 133.6,492.1 133.8,495.9 133.9,500.3 134.1,504.7 134.3,509.1 134.5,513.4 134.6,517.8 134.8,522.1 135,526.3 135.2,530.6 135.3,534.8 135.5,539.1 135.7,543.3 135.9,547.6 136,551.7 136.2,555.9 136.4,559.9 136.6,563.8 136.7,567.6 136.9,571.3 137.1,574.8 137.3,578.3 137.4,581.8 137.6,585.2 137.8,588.5 138,591.8 138.1,595 138.3,598.1 138.5,601.1 138.7,604 138.8,606.9 139,609.7 139.2,612.4 139.4,614.9 139.5,617.4 139.7,619.7 139.9,622 140.1,624.3 140.2,626.5 140.4,628.7 140.6,631 140.8,633.2 140.9,635.5 141.1,637.9 141.3,640.4 141.5,643 141.6,645.6 141.8,648.3 142,651 142.2,653.8 142.4,656.6 142.5,659.4 142.7,662.2 142.9,665 143.1,667.8 143.2,670.7 143.4,673.5 143.6,676.3 143.8,679.2 143.9,682.1 144.1,684.9 144.3,687.8 144.5,690.8 144.6,693.7 144.8,696.7 145,699.6 145.2,702.7 145.3,705.7 145.5,708.8 145.7,711.9 145.9,715 146,718.1 146.2,721.3 146.4,724.5 146.6,727.7 146.7,731 146.9,734.4 147.1,737.9 147.3,741.4 147.4,745 147.6,748.8 147.8,752.6 148,756.6 148.1,760.7 148.3,764.8 148.5,769.1 148.7,773.4 148.8,777.8 149,781.1 149.2,778.8 149.4,772.7 149.5,765.8 149.7,758.7 149.9,751.6 150.1,744.4 150.2,737 150.4,729.5 150.6,722 150.8,714.5 150.9,707.1 151.1,699.6 151.3,692 151.5,684.2 151.7,676.2 151.8,667.9 152,659.2 152.2,650.1 152.4,640.4 152.5,629.7 152.7,616.9 152.9,602.5 153.1,587 153.2,571.4 153.4,556.4 153.6,542.7 153.8,531.1 153.9,522.4 154.1,516.9 154.3,513 154.5,510 154.6,507.4 154.8,505.2 155,503.4 155.2,501.9 155.3,500.7 155.5,500.3 155.7,502.4 155.9,506.3 156,510.4 156.2,514.6 156.4,518.7 156.6,522.7 156.7,526.8 156.9,530.8 157.1,534.8 157.3,538.8 157.4,542.8 157.6,546.8 157.8,550.7 158,554.7 158.1,558.6 158.3,562.4 158.5,566.2 158.7,569.8 158.8,573.3 159,576.7 159.2,580.1 159.4,583.3 159.5,586.5 159.7,589.7 159.9,592.8 160.1,595.8 160.2,598.8 160.4,601.7 160.6,604.5 160.8,607.2 160.9,609.9 161.1,612.5 161.3,614.9 161.5,617.3 161.7,619.6 161.8,621.8 162,623.9 162.2,626 162.4,628.1 162.5,630.2 162.7,632.2 162.9,634.4 163.1,636.6 163.2,638.8 163.4,641.2 163.6,643.6 163.8,646.1 163.9,648.6 164.1,651.2 164.3,653.8 164.5,656.4 164.6,659 164.8,661.6 165,664.3 165.2,666.9 165.3,669.6 165.5,672.2 165.7,674.9 165.9,677.6 166,680.3 166.2,682.9 166.4,685.7 166.6,688.4 166.7,691.1 166.9,693.9 167.1,696.7 167.3,699.6 167.4,702.4 167.6,705.3 167.8,708.2 168,711.1 168.1,714 168.3,717 168.5,720 168.7,723 168.8,726.2 169,729.3 169.2,732.6 169.4,735.9 169.5,739.3 169.7,742.9 169.9,746.5 170.1,750.2 170.2,754.1 170.4,758 170.6,762 170.8,766.1 170.9,770.2 171.1,772.6 171.3,768.1 171.5,761.8 171.7,755.3 171.8,748.7 172,742 172.2,735.2 172.4,728.3 172.5,721.3 172.7,714.2 172.9,707.3 173.1,700.3 173.2,693.3 173.4,686.1 173.6,678.8 173.8,671.2 173.9,663.3 174.1,655.1 174.3,646.4 174.5,637.2 174.6,626.6 174.8,614.1 175,600.2 175.2,585.6 175.3,571.2 175.5,557.5 175.7,545.3 175.9,535.3 176,528.2 176.2,523.8 176.4,520.5 176.6,517.8 176.7,515.5 176.9,513.6 177.1,512 177.3,510.7 177.4,509.6 177.6,509.6 177.8,512.7 178,516.5 178.1,520.4 178.3,524.2 178.5,528.1 178.7,531.9 178.8,535.6 179,539.4 179.2,543.1 179.4,546.8 179.5,550.5 179.7,554.3 179.9,558 180.1,561.7 180.2,565.3 180.4,568.8 180.6,572.3 180.8,575.7 181,578.9 181.1,582 181.3,585.1 181.5,588.2 181.7,591.2 181.8,594.1 182,596.9 182.2,599.8 182.4,602.5 182.5,605.2 182.7,607.8 182.9,610.3 183.1,612.8 183.2,615.1 183.4,617.4 183.6,619.6 183.8,621.7 183.9,623.7 184.1,625.7 184.3,627.6 184.5,629.5 184.6,631.5 184.8,633.4 185,635.4 185.2,637.5 185.3,639.6 185.5,641.9 185.7,644.2 185.9,646.5 186,648.8 186.2,651.2 186.4,653.6 186.6,656.1 186.7,658.5 186.9,661 187.1,663.4 187.3,665.9 187.4,668.4 187.6,670.9 187.8,673.3 188,675.8 188.1,678.3 188.3,680.8 188.5,683.4 188.7,685.9 188.8,688.5 189,691.1 189.2,693.7 189.4,696.3 189.5,699 189.7,701.7 189.9,704.4 190.1,707.1 190.2,709.8 190.4,712.6 190.6,715.4 190.8,718.2 191,721.1 191.1,724.1 191.3,727.1 191.5,730.3 191.7,733.5 191.8,736.8 192,740.2 192.2,743.7 192.4,747.3 192.5,750.9 192.7,754.7 192.9,758.5 193.1,761.8 193.2,761.9 193.4,757.1 193.6,751.2 193.8,745.1 193.9,738.9 194.1,732.7 194.3,726.3 194.5,719.9 194.6,713.3 194.8,706.8 195,700.3 195.2,693.8 195.3,687.3 195.5,680.6 195.7,673.7 195.9,666.6 196,659.2 196.2,651.4 196.4,643.2 196.6,634.3 196.7,623.8 196.9,611.7 197.1,598.5 197.3,585 197.4,571.7 197.6,559.4 197.8,548.7 198,540.3 198.1,534.6 198.3,531 198.5,528.1 198.7,525.8 198.8,523.8 199,522.1 199.2,520.7 199.4,519.6 199.5,518.9 199.7,519.9 199.9,523 200.1,526.6 200.3,530.1 200.4,533.7 200.6,537.3 200.8,540.8 201,544.3 201.1,547.8 201.3,551.2 201.5,554.7 201.7,558.1 201.8,561.6 202,565 202.2,568.4 202.4,571.8 202.5,575.1 202.7,578.2 202.9,581.3 203.1,584.3 203.2,587.2 203.4,590.1 203.6,592.9 203.8,595.6 203.9,598.3 204.1,601 204.3,603.5 204.5,606.1 204.6,608.5 204.8,610.9 205,613.2 205.2,615.5 205.3,617.7 205.5,619.7 205.7,621.7 205.9,623.6 206,625.5 206.2,627.3 206.4,629.1 206.6,630.9 206.7,632.7 206.9,634.5 207.1,636.4 207.3,638.3 207.4,640.4 207.6,642.4 207.8,644.6 208,646.7 208.1,648.9 208.3,651.2 208.5,653.4 208.7,655.7 208.8,657.9 209,660.2 209.2,662.5 209.4,664.8 209.5,667.1 209.7,669.3 209.9,671.6 210.1,673.9 210.3,676.3 210.4,678.6 210.6,680.9 210.8,683.3 211,685.7 211.1,688.1 211.3,690.5 211.5,693 211.7,695.4 211.8,697.9 212,700.4 212.2,702.9 212.4,705.4 212.5,708 212.7,710.6 212.9,713.3 213.1,716 213.2,718.7 213.4,721.6 213.6,724.5 213.8,727.5 213.9,730.6 214.1,733.7 214.3,737 214.5,740.3 214.6,743.7 214.8,747.2 215,750.7 215.2,753.3 215.3,751.4 215.5,746.4 215.7,740.9 215.9,735.2 216,729.5 216.2,723.7 216.4,717.8 216.6,711.8 216.7,705.7 216.9,699.7 217.1,693.7 217.3,687.7 217.4,681.6 217.6,675.4 217.8,668.9 218,662.3 218.1,655.3 218.3,648 218.5,640.2 218.7,631.7 218.8,621.4 219,609.9 219.2,597.5 219.4,585 219.5,573 219.7,562 219.9,552.8 220.1,545.9 220.3,541.5 220.4,538.4 220.6,536 220.8,533.9 221,532.2 221.1,530.8 221.3,529.5 221.5,528.5 221.7,528.2 221.8,530 222,533.1 222.2,536.4 222.4,539.7 222.5,543 222.7,546.3 222.9,549.5 223.1,552.8 223.2,556 223.4,559.2 223.6,562.4 223.8,565.6 223.9,568.7 224.1,571.9 224.3,575 224.5,578.1 224.6,581.1 224.8,584 225,586.8 225.2,589.5 225.3,592.2 225.5,594.8 225.7,597.4 225.9,599.9 226,602.4 226.2,604.8 226.4,607.2 226.6,609.5 226.7,611.7 226.9,613.9 227.1,616 227.3,618.1 227.4,620.1 227.6,622 227.8,623.8 228,625.5 228.1,627.2 228.3,628.9 228.5,630.5 228.7,632.2 228.8,633.9 229,635.6 229.2,637.3 229.4,639.1 229.6,641 229.7,642.9 229.9,644.9 230.1,646.9 230.3,648.9 230.4,651 230.6,653 230.8,655.1 231,657.2 231.1,659.3 231.3,661.4 231.5,663.5 231.7,665.6 231.8,667.7 232,669.8 232.2,671.9 232.4,674.1 232.5,676.2 232.7,678.4 232.9,680.6 233.1,682.8 233.2,685 233.4,687.2 233.6,689.5 233.8,691.7 233.9,694 234.1,696.3 234.3,698.6 234.5,700.9 234.6,703.3 234.8,705.7 235,708.1 235.2,710.6 235.3,713.2 235.5,715.8 235.7,718.5 235.9,721.3 236,724.1 236.2,727.1 236.4,730.1 236.6,733.2 236.7,736.3 236.9,739.5 237.1,742.7 237.3,744.6 237.4,741 237.6,736 237.8,730.9 238,725.6 238.1,720.4 238.3,715 238.5,709.5 238.7,704 238.8,698.5 239,693 239.2,687.5 239.4,681.9 239.6,676.3 239.7,670.5 239.9,664.5 240.1,658.3 240.3,651.8 240.4,645 240.6,637.7 240.8,629.4 241,619.5 241.1,608.6 241.3,597.2 241.5,585.8 241.7,575 241.8,565.5 242,557.7 242.2,552.1 242.4,548.6 242.5,546.1 242.7,544 242.9,542.2 243.1,540.7 243.2,539.5 243.4,538.4 243.6,537.6 243.8,537.6 243.9,540 244.1,543 244.3,546.1 244.5,549.1 244.6,552.1 244.8,555.1 245,558.1 245.2,561.1 245.3,564 245.5,566.9 245.7,569.9 245.9,572.8 246,575.7 246.2,578.6 246.4,581.5 246.6,584.2 246.7,587 246.9,589.6 247.1,592.2 247.3,594.6 247.4,597.1 247.6,599.4 247.8,601.8 248,604.1 248.1,606.3 248.3,608.5 248.5,610.7 248.7,612.8 248.8,614.8 249,616.8 249.2,618.7 249.4,620.6 249.6,622.4 249.7,624.1 249.9,625.7 250.1,627.3 250.3,628.8 250.4,630.3 250.6,631.9 250.8,633.4 251,634.9 251.1,636.5 251.3,638.1 251.5,639.7 251.7,641.5 251.8,643.3 252,645.1 252.2,646.9 252.4,648.8 252.5,650.7 252.7,652.6 252.9,654.5 253.1,656.4 253.2,658.3 253.4,660.2 253.6,662.1 253.8,664 253.9,666 254.1,667.9 254.3,669.8 254.5,671.8 254.6,673.7 254.8,675.7 255,677.7 255.2,679.7 255.3,681.7 255.5,683.8 255.7,685.8 255.9,687.9 256,690 256.2,692.1 256.4,694.2 256.6,696.3 256.7,698.5 256.9,700.7 257.1,702.9 257.3,705.2 257.4,707.5 257.6,709.9 257.8,712.4 258,714.9 258.1,717.6 258.3,720.3 258.5,723 258.7,725.8 258.9,728.7 259,731.6 259.2,734.1 259.4,734.2 259.6,730.5 259.7,725.8 259.9,721.1 260.1,716.4 260.3,711.5 260.4,706.6 260.6,701.6 260.8,696.6 261,691.5 261.1,686.5 261.3,681.5 261.5,676.4 261.7,671.3 261.8,665.9 262,660.4 262.2,654.7 262.4,648.7 262.5,642.4 262.7,635.5 262.9,627.5 263.1,618.1 263.2,608 263.4,597.5 263.6,587.3 263.8,577.9 263.9,569.7 264.1,563.2 264.3,558.9 264.5,556.1 264.6,553.9 264.8,552.1 265,550.6 265.2,549.3 265.3,548.3 265.5,547.4 265.7,546.9 265.9,547.6 266,550 266.2,552.8 266.4,555.6 266.6,558.3 266.7,561.1 266.9,563.8 267.1,566.5 267.3,569.2 267.4,571.9 267.6,574.5 267.8,577.2 268,579.9 268.1,582.5 268.3,585.1 268.5,587.7 268.7,590.2 268.9,592.7 269,595 269.2,597.3 269.4,599.6 269.6,601.7 269.7,603.9 269.9,606 270.1,608.1 270.3,610.1 270.4,612.1 270.6,614 270.8,615.9 271,617.8 271.1,619.6 271.3,621.3 271.5,622.9 271.7,624.5 271.8,626.1 272,627.5 272.2,628.9 272.4,630.3 272.5,631.7 272.7,633.1 272.9,634.5 273.1,635.9 273.2,637.3 273.4,638.8 273.6,640.3 273.8,641.9 273.9,643.5 274.1,645.2 274.3,646.8 274.5,648.5 274.6,650.2 274.8,652 275,653.7 275.2,655.4 275.3,657.1 275.5,658.9 275.7,660.6 275.9,662.3 276,664.1 276.2,665.8 276.4,667.6 276.6,669.3 276.7,671.1 276.9,672.9 277.1,674.7 277.3,676.5 277.4,678.3 277.6,680.2 277.8,682.1 278,683.9 278.1,685.8 278.3,687.7 278.5,689.6 278.7,691.5 278.9,693.5 279,695.5 279.2,697.5 279.4,699.6 279.6,701.7 279.7,703.9 279.9,706.1 280.1,708.4 280.3,710.8 280.4,713.3 280.6,715.8 280.8,718.3 281,720.9 281.1,723.5 281.3,725.4 281.5,723.9 281.7,720.2 281.8,716 282,711.7 282.2,707.4 282.4,703 282.5,698.5 282.7,694 282.9,689.5 283.1,684.9 283.2,680.4 283.4,675.9 283.6,671.3 283.8,666.6 283.9,661.7 284.1,656.7 284.3,651.5 284.5,646 284.6,640.1 284.8,633.7 285,626 285.2,617.3 285.3,608 285.5,598.6 285.7,589.6 285.9,581.5 286,574.6 286.2,569.4 286.4,566.1 286.6,563.8 286.7,562 286.9,560.4 287.1,559.1 287.3,558.1 287.4,557.2 287.6,556.4 287.8,556.2 288,557.6 288.2,559.9 288.3,562.4 288.5,564.9 288.7,567.4 288.9,569.8 289,572.3 289.2,574.7 289.4,577.1 289.6,579.5 289.7,581.9 289.9,584.3 290.1,586.7 290.3,589.1 290.4,591.5 290.6,593.8 290.8,596 291,598.2 291.1,600.3 291.3,602.3 291.5,604.3 291.7,606.3 291.8,608.2 292,610.1 292.2,612 292.4,613.8 292.5,615.5 292.7,617.3 292.9,619 293.1,620.6 293.2,622.2 293.4,623.7 293.6,625.2 293.8,626.6 293.9,627.9 294.1,629.2 294.3,630.5 294.5,631.8 294.6,633 294.8,634.2 295,635.5 295.2,636.7 295.3,638 295.5,639.4 295.7,640.8 295.9,642.2 296,643.7 296.2,645.1 296.4,646.6 296.6,648.2 296.7,649.7 296.9,651.2 297.1,652.8 297.3,654.3 297.4,655.9 297.6,657.4 297.8,659 298,660.5 298.2,662.1 298.3,663.6 298.5,665.2 298.7,666.8 298.9,668.4 299,670 299.2,671.6 299.4,673.2 299.6,674.8 299.7,676.5 299.9,678.1 300.1,679.8 300.3,681.5 300.4,683.2 300.6,684.9 300.8,686.6 301,688.3 301.1,690.1 301.3,691.9 301.5,693.8 301.7,695.7 301.8,697.7 302,699.7 302.2,701.8 302.4,703.9 302.5,706.1 302.7,708.3 302.9,710.6 303.1,712.9 303.2,715.2 303.4,716.6 303.6,713.9 303.8,710.2 303.9,706.5 304.1,702.6 304.3,698.7 304.5,694.8 304.6,690.8 304.8,686.7 305,682.7 305.2,678.7 305.3,674.6 305.5,670.6 305.7,666.5 305.9,662.2 306,657.9 306.2,653.3 306.4,648.6 306.6,643.6 306.7,638.3 306.9,632.2 307.1,625 307.3,617.1 307.4,608.8 307.6,600.5 307.8,592.7 308,585.7 308.2,580.1 308.3,576.1 308.5,573.6 308.7,571.7 308.9,570.2 309,568.9 309.2,567.8 309.4,566.9 309.6,566.1 309.7,565.5 309.9,565.6 310.1,567.3 310.3,569.6 310.4,571.8 310.6,574 310.8,576.2 311,578.4 311.1,580.6 311.3,582.7 311.5,584.9 311.7,587 311.8,589.2 312,591.3 312.2,593.4 312.4,595.5 312.5,597.6 312.7,599.6 312.9,601.6 313.1,603.5 313.2,605.4 313.4,607.2 313.6,609 313.8,610.7 313.9,612.4 314.1,614.1 314.3,615.7 314.5,617.3 314.6,618.9 314.8,620.4 315,621.9 315.2,623.3 315.3,624.7 315.5,626 315.7,627.3 315.9,628.5 316,629.7 316.2,630.9 316.4,632 316.6,633.1 316.7,634.2 316.9,635.3 317.1,636.4 317.3,637.5 317.5,638.7 317.6,639.8 317.8,641.1 318,642.4 318.2,643.7 318.3,645 318.5,646.3 318.7,647.7 318.9,649 319,650.4 319.2,651.7 319.4,653.1 319.6,654.5 319.7,655.8 319.9,657.2 320.1,658.6 320.3,659.9 320.4,661.3 320.6,662.7 320.8,664.1 321,665.5 321.1,666.9 321.3,668.3 321.5,669.7 321.7,671.2 321.8,672.6 322,674.1 322.2,675.6 322.4,677 322.5,678.5 322.7,680 322.9,681.5 323.1,683.1 323.2,684.6 323.4,686.2 323.6,687.9 323.8,689.6 323.9,691.3 324.1,693.1 324.3,694.9 324.5,696.8 324.6,698.7 324.8,700.7 325,702.7 325.2,704.7 325.3,706.5 325.5,706.5 325.7,703.8 325.9,700.5 326,697.2 326.2,693.8 326.4,690.4 326.6,686.9 326.7,683.4 326.9,679.8 327.1,676.3 327.3,672.7 327.5,669.2 327.6,665.6 327.8,662 328,658.2 328.2,654.3 328.3,650.3 328.5,646.1 328.7,641.6 328.9,636.8 329,631.1 329.2,624.6 329.4,617.5 329.6,610.2 329.7,603.1 329.9,596.4 330.1,590.7 330.3,586.2 330.4,583.2 330.6,581.3 330.8,579.8 331,578.5 331.1,577.4 331.3,576.5 331.5,575.8 331.7,575.2 331.8,574.8 332,575.4 332.2,577.1 332.4,579 332.5,581 332.7,582.9 332.9,584.9 333.1,586.8 333.2,588.7 333.4,590.6 333.6,592.5 333.8,594.3 333.9,596.2 334.1,598.1 334.3,600 334.5,601.8 334.6,603.6 334.8,605.4 335,607.1 335.2,608.7 335.3,610.3 335.5,611.9 335.7,613.4 335.9,614.9 336,616.4 336.2,617.9 336.4,619.3 336.6,620.7 336.8,622 336.9,623.3 337.1,624.6 337.3,625.9 337.5,627.1 337.6,628.2 337.8,629.3 338,630.4 338.2,631.4 338.3,632.4 338.5,633.4 338.7,634.3 338.9,635.3 339,636.2 339.2,637.2 339.4,638.2 339.6,639.2 339.7,640.2 339.9,641.3 340.1,642.5 340.3,643.6 340.4,644.7 340.6,645.9 340.8,647.1 341,648.2 341.1,649.4 341.3,650.6 341.5,651.8 341.7,653 341.8,654.1 342,655.3 342.2,656.5 342.4,657.7 342.5,658.9 342.7,660.1 342.9,661.3 343.1,662.5 343.2,663.7 343.4,664.9 343.6,666.2 343.8,667.4 343.9,668.7 344.1,669.9 344.3,671.2 344.5,672.4 344.6,673.7 344.8,675 345,676.3 345.2,677.7 345.3,679 345.5,680.4 345.7,681.8 345.9,683.3 346,684.8 346.2,686.3 346.4,687.9 346.6,689.5 346.8,691.2 346.9,692.9 347.1,694.6 347.3,696.4 347.5,697.6 347.6,696.5 347.8,694 348,691.2 348.2,688.3 348.3,685.3 348.5,682.4 348.7,679.3 348.9,676.3 349,673.2 349.2,670.2 349.4,667.1 349.6,664.1 349.7,661 349.9,657.8 350.1,654.6 350.3,651.2 350.4,647.7 350.6,644 350.8,640.1 351,635.7 351.1,630.6 351.3,624.8 351.5,618.6 351.7,612.4 351.8,606.4 352,600.9 352.2,596.3 352.4,592.9 352.5,590.7 352.7,589.2 352.9,588 353.1,587 353.2,586.1 353.4,585.4 353.6,584.8 353.8,584.3 353.9,584.2 354.1,585.1 354.3,586.7 354.5,588.3 354.6,590 354.8,591.7 355,593.3 355.2,595 355.3,596.6 355.5,598.3 355.7,599.9 355.9,601.5 356,603.1 356.2,604.7 356.4,606.3 356.6,607.9 356.8,609.4 356.9,610.9 357.1,612.4 357.3,613.8 357.5,615.1 357.6,616.5 357.8,617.8 358,619 358.2,620.3 358.3,621.5 358.5,622.7 358.7,623.9 358.9,625.1 359,626.2 359.2,627.3 359.4,628.3 359.6,629.3 359.7,630.3 359.9,631.2 360.1,632.1 360.3,633 360.4,633.8 360.6,634.6 360.8,635.4 361,636.3 361.1,637.1 361.3,637.9 361.5,638.7 361.7,639.6 361.8,640.5 362,641.5 362.2,642.4 362.4,643.4 362.5,644.4 362.7,645.3 362.9,646.3 363.1,647.3 363.2,648.3 363.4,649.3 363.6,650.3 363.8,651.3 363.9,652.3 364.1,653.3 364.3,654.3 364.5,655.3 364.6,656.3 364.8,657.3 365,658.3 365.2,659.3 365.3,660.4 365.5,661.4 365.7,662.4 365.9,663.5 366.1,664.5 366.2,665.6 366.4,666.7 366.6,667.7 366.8,668.8 366.9,669.9 367.1,671 367.3,672.1 367.5,673.2 367.6,674.4 367.8,675.6 368,676.8 368.2,678.1 368.3,679.4 368.5,680.7 368.7,682.1 368.9,683.5 369,684.9 369.2,686.3 369.4,687.8 369.6,688.5 369.7,686.8 369.9,684.5 370.1,682.1 370.3,679.6 370.4,677.2 370.6,674.6 370.8,672.1 371,669.5 371.1,667 371.3,664.4 371.5,661.9 371.7,659.3 371.8,656.7 372,654 372.2,651.2 372.4,648.4 372.5,645.4 372.7,642.2 372.9,638.8 373.1,635 373.2,630.5 373.4,625.5 373.6,620.4 373.8,615.3 373.9,610.4 374.1,606.1 374.3,602.6 374.5,600.1 374.6,598.6 374.8,597.4 375,596.4 375.2,595.6 375.3,594.9 375.5,594.3 375.7,593.8 375.9,593.5 376.1,593.5 376.2,594.6 376.4,596 376.6,597.4 376.8,598.7 376.9,600.1 377.1,601.5 377.3,602.9 377.5,604.2 377.6,605.6 377.8,606.9 378,608.3 378.2,609.6 378.3,610.9 378.5,612.3 378.7,613.6 378.9,614.8 379,616.1 379.2,617.3 379.4,618.5 379.6,619.6 379.7,620.7 379.9,621.8 380.1,622.8 380.3,623.9 380.4,624.9 380.6,625.9 380.8,626.9 381,627.8 381.1,628.7 381.3,629.6 381.5,630.5 381.7,631.3 381.8,632.1 382,632.9 382.2,633.7 382.4,634.4 382.5,635.1 382.7,635.8 382.9,636.4 383.1,637.1 383.2,637.8 383.4,638.5 383.6,639.2 383.8,640 383.9,640.7 384.1,641.5 384.3,642.3 384.5,643.1 384.6,644 384.8,644.8 385,645.6 385.2,646.4 385.3,647.3 385.5,648.1 385.7,648.9 385.9,649.8 386.1,650.6 386.2,651.4 386.4,652.2 386.6,653.1 386.8,653.9 386.9,654.8 387.1,655.6 387.3,656.5 387.5,657.3 387.6,658.2 387.8,659 388,659.9 388.2,660.8 388.3,661.7 388.5,662.5 388.7,663.4 388.9,664.3 389,665.2 389.2,666.2 389.4,667.1 389.6,668 389.7,669 389.9,670 390.1,671 390.3,672 390.4,673 390.6,674 390.8,675 391,676 391.1,677 391.3,678 391.5,678.8 391.7,678.7 391.8,677.2 392,675.4 392.2,673.6 392.4,671.7 392.5,669.7 392.7,667.7 392.9,665.7 393.1,663.6 393.2,661.5 393.4,659.3 393.6,657.2 393.8,655 393.9,652.8 394.1,650.5 394.3,648.1 394.5,645.6 394.6,643.1 394.8,640.4 395,637.6 395.2,634.4 395.4,630.7 395.5,626.8 395.7,622.9 395.9,619 396.1,615.5 396.2,612.4 396.4,609.9 396.6,608.1 396.8,606.8 396.9,605.8 397.1,605 397.3,604.3 397.5,603.8 397.6,603.3 397.8,603 398,602.8 398.2,603.1 398.3,604 398.5,605 398.7,606 398.9,607 399,608.1 399.2,609.2 399.4,610.3 399.6,611.4 399.7,612.5 399.9,613.5 400.1,614.6 400.3,615.7 400.4,616.8 400.6,617.9 400.8,618.9 401,619.9 401.1,620.9 401.3,621.9 401.5,622.8 401.7,623.8 401.8,624.7 402,625.5 402.2,626.4 402.4,627.2 402.5,628.1 402.7,628.9 402.9,629.6 403.1,630.4 403.2,631.1 403.4,631.9 403.6,632.5 403.8,633.2 403.9,633.9 404.1,634.5 404.3,635.1 404.5,635.7 404.6,636.2 404.8,636.8 405,637.4 405.2,637.9 405.4,638.5 405.5,639 405.7,639.6 405.9,640.2 406.1,640.9 406.2,641.5 406.4,642.1 406.6,642.8 406.8,643.4 406.9,644.1 407.1,644.8 407.3,645.4 407.5,646.1 407.6,646.7 407.8,647.4 408,648.1 408.2,648.7 408.3,649.4 408.5,650 408.7,650.7 408.9,651.4 409,652 409.2,652.7 409.4,653.4 409.6,654.1 409.7,654.7 409.9,655.4 410.1,656.1 410.3,656.8 410.4,657.5 410.6,658.2 410.8,658.9 411,659.6 411.1,660.3 411.3,661 411.5,661.7 411.7,662.5 411.8,663.2 412,663.9 412.2,664.7 412.4,665.4 412.5,666.1 412.7,666.8 412.9,667.5 413.1,668.2 413.2,668.8 413.4,669.3 413.6,669.6 413.8,669.1 413.9,667.9 414.1,666.7 414.3,665.3 414.5,663.9 414.6,662.4 414.8,660.9 415,659.3 415.2,657.7 415.4,656.1 415.5,654.4 415.7,652.7 415.9,650.9 416.1,649.1 416.2,647.3 416.4,645.4 416.6,643.4 416.8,641.3 416.9,639.2 417.1,637 417.3,634.5 417.5,631.8 417.6,629 417.8,626.2 418,623.5 418.2,621.1 418.3,619 418.5,617.3 418.7,616.1 418.9,615.1 419,614.3 419.2,613.6 419.4,613.1 419.6,612.7 419.7,612.4 419.9,612.2 420.1,612.2 420.3,612.5 420.4,613.1 420.6,613.8 420.8,614.6 421,615.3 421.1,616.1 421.3,616.9 421.5,617.7 421.7,618.6 421.8,619.4 422,620.2 422.2,621.1 422.4,621.9 422.5,622.7 422.7,623.5 422.9,624.3 423.1,625.1 423.2,625.8 423.4,626.6 423.6,627.3 423.8,628 423.9,628.6 424.1,629.3 424.3,630 424.5,630.6 424.7,631.2 424.8,631.8 425,632.4 425.2,633 425.4,633.5 425.5,634.1 425.7,634.6 425.9,635.1 426.1,635.6 426.2,636 426.4,636.5 426.6,636.9 426.8,637.3 426.9,637.8 427.1,638.2 427.3,638.6 427.5,639 427.6,639.5 427.8,639.9 428,640.4 428.2,640.8 428.3,641.3 428.5,641.8 428.7,642.3 428.9,642.8 429,643.2 429.2,643.7 429.4,644.2 429.6,644.7 429.7,645.2 429.9,645.6 430.1,646.1 430.3,646.6 430.4,647.1 430.6,647.6 430.8,648 431,648.5 431.1,649 431.3,649.5 431.5,650 431.7,650.4 431.8,650.9 432,651.4 432.2,651.9 432.4,652.4 432.5,652.9 432.7,653.4 432.9,653.9 433.1,654.3 433.2,654.8 433.4,655.3 433.6,655.8 433.8,656.3 433.9,656.8 434.1,657.3 434.3,657.8 434.5,658.3 434.7,658.7 434.8,659.1 435,659.5 435.2,659.8 435.4,660.1 435.5,660.3 435.7,660.3 435.9,659.7 436.1,659 436.2,658.1 436.4,657.2 436.6,656.3 436.8,655.3 436.9,654.2 437.1,653.1 437.3,652 437.5,650.8 437.6,649.6 437.8,648.4 438,647.1 438.2,645.8 438.3,644.5 438.5,643.1 438.7,641.6 438.9,640.2 439,638.7 439.2,637.2 439.4,635.5 439.6,633.7 439.7,632 439.9,630.2 440.1,628.6 440.3,627.1 440.4,625.8 440.6,624.8 440.8,624 441,623.4 441.1,622.8 441.3,622.4 441.5,622 441.7,621.7 441.8,621.5 442,621.5 442.2,621.5 442.4,621.8 442.5,622.2 442.7,622.6 442.9,623.1 443.1,623.6 443.2,624.2 443.4,624.7 443.6,625.3 443.8,625.8 444,626.4 444.1,627 444.3,627.5 444.5,628.1 444.7,628.6 444.8,629.2 445,629.7 445.2,630.2 445.4,630.8 445.5,631.3 445.7,631.7 445.9,632.2 446.1,632.7 446.2,633.1 446.4,633.5 446.6,634 446.8,634.4 446.9,634.8 447.1,635.2 447.3,635.5 447.5,635.9 447.6,636.2 447.8,636.6 448,636.9 448.2,637.2 448.3,637.5 448.5,637.8 448.7,638.1 448.9,638.4 449,638.7 449.2,639 449.4,639.2 449.6,639.5 449.7,639.8 449.9,640.1 450.1,640.4 450.3,640.7 450.4,641 450.6,641.3 450.8,641.6 451,641.9 451.1,642.2 451.3,642.5 451.5,642.8 451.7,643 451.8,643.3 452,643.6 452.2,643.9 452.4,644.2 452.5,644.5 452.7,644.8 452.9,645.1 453.1,645.3 453.2,645.6 453.4,645.9 453.6,646.2 453.8,646.4 454,646.7 454.1,647 454.3,647.3 454.5,647.5 454.7,647.8 454.8,648.1 455,648.3 455.2,648.6 455.4,648.9 455.5,649.1 455.7,649.4 455.9,649.6 456.1,649.9 456.2,650.1 456.4,650.4 456.6,650.6 456.8,650.7 456.9,650.9 457.1,651 457.3,651.1 457.5,651.1 457.6,651.1 457.8,650.9 458,650.6 458.2,650.2 458.3,649.8 458.5,649.3 458.7,648.7 458.9,648.2 459,647.6 459.2,646.9 459.4,646.3 459.6,645.6 459.7,645 459.9,644.3 460.1,643.5 460.3,642.8 460.4,642.1 460.6,641.3 460.8,640.5 461,639.7 461.1,638.9 461.3,638.1 461.5,637.3 461.7,636.5 461.8,635.6 462,634.9 462.2,634.1 462.4,633.5 462.5,632.9 462.7,632.4 462.9,632 463.1,631.7 463.2,631.4 463.4,631.1 463.6,631 463.8,630.9 464,630.8 464.1,630.8 464.3,630.9 464.5,631 464.7,631.2 464.8,631.5 465,631.7 465.2,632 465.4,632.3 465.5,632.6 465.7,632.9 465.9,633.2 466.1,633.5 466.2,633.8 466.4,634.1 466.6,634.4 466.8,634.7 466.9,635 467.1,635.2 467.3,635.5 467.5,635.8 467.6,636 467.8,636.2 468,636.5 468.2,636.7 468.3,636.9 468.5,637.1 468.7,637.3 468.9,637.5 469,637.7 469.2,637.9 469.4,638.1 469.6,638.3 469.7,638.4 469.9,638.6 470.1,638.8 470.3,638.9 470.4,639 470.6,639.2 470.8,639.3 471,639.4 471.1,639.5 471.3,639.7 471.5,639.8 471.7,639.9 471.8,640 472,640.1 472.2,640.2 472.4,640.3 472.5,640.4 472.7,640.5 472.9,640.6 473.1,640.7 473.3,640.8 473.4,640.9 473.6,641 473.8,641 474,641.1 474.1,641.2 474.3,641.3 474.5,641.3 474.7,641.4 474.8,641.5 475,641.5 475.2,641.6 475.4,641.6 475.5,641.7 475.7,641.7 475.9,641.7 476.1,641.8 476.2,641.8 476.4,641.8 476.6,641.9 476.8,641.9 476.9,641.9 477.1,641.9 477.3,641.9 477.5,641.9 477.6,641.9 477.8,641.9 478,641.9 478.2,641.9 478.3,641.9 478.5,641.8 478.7,641.8 478.9,641.8 479,641.7 479.2,641.7 479.4,641.6 479.6,641.5 479.7,641.4 479.9,641.3 480.1,641.2 480.3,641.1 480.4,641 480.6,640.9 480.8,640.8 481,640.7 481.1,640.6 481.3,640.5 481.5,640.4 481.7,640.3 481.8,640.2 482,640.2 482.2,640.1 482.4,640.1 482.5,640 482.7,640 482.9,640"/>
</g>
<text transform="translate(118.5,527.7) scale(1.0000,1.0630)" font-size="39" text-anchor="end" fill="#262626" font-family="'Liberation Sans', Arial, Helvetica, sans-serif" stroke="#262626" stroke-width="0.5">100</text>
<text transform="translate(118.5,656.3) scale(1.0000,1.0630)" font-size="39" text-anchor="end" fill="#262626" font-family="'Liberation Sans', Arial, Helvetica, sans-serif" stroke="#262626" stroke-width="0.5">0</text>
<text transform="translate(118.5,783.9) scale(1.0000,1.0630)" font-size="39" text-anchor="end" fill="#262626" font-family="'Liberation Sans', Arial, Helvetica, sans-serif" stroke="#262626" stroke-width="0.5">-100</text>
<text transform="translate(130.8,834.8) scale(1.0000,1.0630)" font-size="39" text-anchor="middle" fill="#262626" font-family="'Liberation Sans', Arial, Helvetica, sans-serif" stroke="#262626" stroke-width="0.5">-100</text>
<text transform="translate(306.25,834.8) scale(1.0000,1.0630)" font-size="39" text-anchor="middle" fill="#262626" font-family="'Liberation Sans', Arial, Helvetica, sans-serif" stroke="#262626" stroke-width="0.5">-50</text>
<text transform="translate(481.7,834.8) scale(1.0000,1.0630)" font-size="39" text-anchor="middle" fill="#262626" font-family="'Liberation Sans', Arial, Helvetica, sans-serif" stroke="#262626" stroke-width="0.5">0</text>
<text x="425.5" y="532.8" font-size="43.7" text-anchor="start" fill="#000" font-family="'Liberation Sans', Arial, Helvetica, sans-serif">(c)</text>
<text transform="translate(28.9,636.9) rotate(-90)" font-size="44.2" text-anchor="middle" fill="#262626" font-family="'Liberation Serif', 'DejaVu Serif', serif">Γ</text>
<g fill="#262626" font-family="'Liberation Serif', 'DejaVu Serif', serif">
<text transform="translate(260.22,881.3) scale(1.181,1)" font-size="46.3">Δ</text>
<text transform="translate(297.8,891.6) skewX(-5.3) scale(1,1.382)" font-size="45">/</text>
<text transform="translate(317.2,881.3) scale(1.04,0.95)" font-size="41.7" font-style="italic">v</text>
<text x="337.5" y="888.7" font-size="28.2" font-style="italic">g</text>
</g>
<clipPath id="clip_d"><rect x="672" y="489.4" width="345.4" height="302.2"/></clipPath>
<rect x="672.7" y="491" width="344" height="299" fill="none" stroke="#262626" stroke-width="1.4"/>
<path d="M672.7,790v-3.9M672.7,491v3.9M844.7,790v-3.9M844.7,491v3.9M1016.7,790v-3.9M1016.7,491v3.9M672.7,790h3.9M1016.7,790h-3.9M672.7,640.5h3.9M1016.7,640.5h-3.9M672.7,491h3.9M1016.7,491h-3.9" stroke="#262626" stroke-width="1.4" fill="none"/>
<g clip-path="url(#clip_d)" fill="none" stroke-width="2.45" stroke-linejoin="round" stroke-linecap="butt">
<polyline stroke="#0000ff" points="672.7,718.5 672.9,722.8 673,726.6 673.2,730.1 673.4,733.1 673.6,735.7 673.7,737.9 673.9,739.7 674.1,741.2 674.2,742.2 674.4,743 674.6,743.3 674.8,743.4 674.9,743.2 675.1,742.6 675.3,741.9 675.5,740.8 675.6,739.6 675.8,738.1 676,736.4 676.1,734.6 676.3,732.6 676.5,730.4 676.7,728.1 676.8,725.6 677,723.1 677.2,720.4 677.3,717.6 677.5,714.8 677.7,711.8 677.9,708.8 678,705.7 678.2,702.6 678.4,699.4 678.5,696.1 678.7,692.8 678.9,689.5 679.1,686.1 679.2,682.7 679.4,679.3 679.6,675.8 679.8,672.4 679.9,668.9 680.1,665.4 680.3,661.9 680.4,658.3 680.6,654.8 680.8,651.3 681,647.7 681.1,644.2 681.3,640.6 681.5,637.1 681.6,633.6 681.8,630.1 682,626.5 682.2,623 682.3,619.5 682.5,616 682.7,612.6 682.8,609.1 683,605.7 683.2,602.3 683.4,598.9 683.5,595.6 683.7,592.3 683.9,589 684.1,585.7 684.2,582.5 684.4,579.4 684.6,576.3 684.7,573.3 684.9,570.3 685.1,567.4 685.3,564.6 685.4,561.8 685.6,559.2 685.8,556.6 685.9,554.2 686.1,551.9 686.3,549.7 686.5,547.6 686.6,545.7 686.8,544 687,542.5 687.1,541.1 687.3,539.9 687.5,539 687.7,538.3 687.8,537.8 688,537.6 688.2,537.7 688.4,538.1 688.5,538.9 688.7,539.9 688.9,541.3 689,543 689.2,545.2 689.4,547.7 689.6,550.5 689.7,553.8 689.9,557.5 690.1,561.6 690.2,566 690.4,570.9 690.6,576.1 690.8,581.7 690.9,587.6 691.1,593.8 691.3,600.2 691.4,606.9 691.6,613.8 691.8,620.9 692,628 692.1,635.3 692.3,642.5 692.5,649.7 692.7,656.8 692.8,663.8 693,670.6 693.2,677.2 693.3,683.6 693.5,689.7 693.7,695.4 693.9,700.8 694,705.9 694.2,710.5 694.4,714.8 694.5,718.7 694.7,722.2 694.9,725.3 695.1,728 695.2,730.3 695.4,732.3 695.6,733.8 695.7,735.1 695.9,735.9 696.1,736.5 696.3,736.8 696.4,736.7 696.6,736.4 696.8,735.8 697,735 697.1,734 697.3,732.7 697.5,731.3 697.6,729.7 697.8,727.9 698,725.9 698.2,723.9 698.3,721.6 698.5,719.3 698.7,716.9 698.8,714.3 699,711.7 699.2,709 699.4,706.2 699.5,703.4 699.7,700.4 699.9,697.5 700,694.5 700.2,691.4 700.4,688.3 700.6,685.2 700.7,682 700.9,678.8 701.1,675.6 701.3,672.4 701.4,669.1 701.6,665.8 701.8,662.5 701.9,659.3 702.1,656 702.3,652.6 702.5,649.3 702.6,646 702.8,642.7 703,639.4 703.1,636.1 703.3,632.8 703.5,629.5 703.7,626.2 703.8,622.9 704,619.7 704.2,616.4 704.3,613.2 704.5,609.9 704.7,606.7 704.9,603.6 705,600.4 705.2,597.3 705.4,594.2 705.6,591.2 705.7,588.2 705.9,585.2 706.1,582.3 706.2,579.4 706.4,576.6 706.6,573.8 706.8,571.1 706.9,568.5 707.1,566 707.3,563.5 707.4,561.2 707.6,559 707.8,556.8 708,554.8 708.1,553 708.3,551.3 708.5,549.7 708.6,548.3 708.8,547.1 709,546.1 709.2,545.3 709.3,544.7 709.5,544.4 709.7,544.3 709.9,544.5 710,544.9 710.2,545.7 710.4,546.8 710.5,548.2 710.7,550 710.9,552.1 711.1,554.5 711.2,557.3 711.4,560.5 711.6,564.1 711.7,568 711.9,572.3 712.1,577 712.3,582 712.4,587.3 712.6,592.9 712.8,598.7 712.9,604.9 713.1,611.2 713.3,617.7 713.5,624.3 713.6,631 713.8,637.8 714,644.5 714.2,651.2 714.3,657.8 714.5,664.3 714.7,670.6 714.8,676.7 715,682.5 715.2,688.1 715.4,693.3 715.5,698.3 715.7,702.9 715.9,707.1 716,711 716.2,714.5 716.4,717.6 716.6,720.4 716.7,722.8 716.9,724.8 717.1,726.5 717.2,727.8 717.4,728.9 717.6,729.6 717.8,730 717.9,730.1 718.1,730 718.3,729.6 718.5,729 718.6,728.2 718.8,727.1 719,725.9 719.1,724.5 719.3,722.9 719.5,721.2 719.7,719.4 719.8,717.4 720,715.3 720.2,713.1 720.3,710.8 720.5,708.4 720.7,705.9 720.9,703.3 721,700.7 721.2,698 721.4,695.3 721.5,692.5 721.7,689.7 721.9,686.8 722.1,683.9 722.2,681 722.4,678 722.6,675 722.8,672 722.9,669 723.1,666 723.3,662.9 723.4,659.9 723.6,656.8 723.8,653.7 724,650.6 724.1,647.6 724.3,644.5 724.5,641.4 724.6,638.3 724.8,635.2 725,632.1 725.2,629.1 725.3,626 725.5,623 725.7,619.9 725.8,616.9 726,613.9 726.2,610.9 726.4,608 726.5,605 726.7,602.1 726.9,599.2 727.1,596.3 727.2,593.5 727.4,590.7 727.6,588 727.7,585.3 727.9,582.6 728.1,580 728.3,577.5 728.4,575 728.6,572.6 728.8,570.3 728.9,568 729.1,565.9 729.3,563.8 729.5,561.9 729.6,560.1 729.8,558.4 730,556.9 730.1,555.5 730.3,554.2 730.5,553.2 730.7,552.3 730.8,551.6 731,551.2 731.2,550.9 731.4,550.9 731.5,551.2 731.7,551.7 731.9,552.6 732,553.7 732.2,555.1 732.4,556.8 732.6,558.9 732.7,561.3 732.9,564 733.1,567.1 733.2,570.6 733.4,574.3 733.6,578.4 733.8,582.9 733.9,587.6 734.1,592.6 734.3,597.9 734.4,603.5 734.6,609.2 734.8,615.1 735,621.2 735.1,627.4 735.3,633.6 735.5,639.9 735.7,646.2 735.8,652.4 736,658.5 736.2,664.4 736.3,670.2 736.5,675.8 736.7,681.1 736.9,686.2 737,691 737.2,695.4 737.4,699.6 737.5,703.4 737.7,706.9 737.9,710 738.1,712.8 738.2,715.3 738.4,717.4 738.6,719.1 738.7,720.6 738.9,721.7 739.1,722.6 739.3,723.2 739.4,723.5 739.6,723.5 739.8,723.3 740,722.9 740.1,722.2 740.3,721.4 740.5,720.4 740.6,719.2 740.8,717.8 741,716.3 741.2,714.6 741.3,712.9 741.5,711 741.7,709 741.8,706.9 742,704.7 742.2,702.5 742.4,700.2 742.5,697.8 742.7,695.3 742.9,692.8 743,690.3 743.2,687.7 743.4,685 743.6,682.4 743.7,679.7 743.9,676.9 744.1,674.2 744.3,671.4 744.4,668.6 744.6,665.8 744.8,663 744.9,660.2 745.1,657.3 745.3,654.5 745.5,651.6 745.6,648.8 745.8,645.9 746,643.1 746.1,640.2 746.3,637.4 746.5,634.5 746.7,631.7 746.8,628.8 747,626 747.2,623.2 747.3,620.4 747.5,617.6 747.7,614.8 747.9,612 748,609.3 748.2,606.6 748.4,603.9 748.6,601.2 748.7,598.6 748.9,596 749.1,593.4 749.2,590.9 749.4,588.4 749.6,586 749.8,583.6 749.9,581.3 750.1,579 750.3,576.8 750.4,574.7 750.6,572.7 750.8,570.7 751,568.8 751.1,567.1 751.3,565.5 751.5,563.9 751.6,562.6 751.8,561.3 752,560.2 752.2,559.3 752.3,558.6 752.5,558 752.7,557.7 752.9,557.5 753,557.6 753.2,558 753.4,558.5 753.5,559.4 753.7,560.5 753.9,561.9 754.1,563.7 754.2,565.7 754.4,568 754.6,570.6 754.7,573.6 754.9,576.9 755.1,580.5 755.3,584.4 755.4,588.5 755.6,593 755.8,597.7 755.9,602.7 756.1,607.9 756.3,613.3 756.5,618.8 756.6,624.4 756.8,630.2 757,636 757.2,641.7 757.3,647.5 757.5,653.2 757.7,658.8 757.8,664.2 758,669.5 758.2,674.6 758.4,679.4 758.5,684 758.7,688.3 758.9,692.4 759,696.1 759.2,699.5 759.4,702.6 759.6,705.4 759.7,707.8 759.9,710 760.1,711.8 760.2,713.4 760.4,714.6 760.6,715.6 760.8,716.3 760.9,716.7 761.1,716.9 761.3,716.8 761.5,716.6 761.6,716.1 761.8,715.4 762,714.6 762.1,713.6 762.3,712.4 762.5,711.1 762.7,709.7 762.8,708.1 763,706.5 763.2,704.7 763.3,702.8 763.5,700.9 763.7,698.8 763.9,696.7 764,694.6 764.2,692.3 764.4,690.1 764.5,687.7 764.7,685.4 764.9,683 765.1,680.5 765.2,678.1 765.4,675.6 765.6,673 765.8,670.5 765.9,667.9 766.1,665.4 766.3,662.8 766.4,660.2 766.6,657.6 766.8,655 767,652.3 767.1,649.7 767.3,647.1 767.5,644.4 767.6,641.8 767.8,639.2 768,636.6 768.2,633.9 768.3,631.3 768.5,628.7 768.7,626.1 768.8,623.5 769,621 769.2,618.4 769.4,615.9 769.5,613.3 769.7,610.8 769.9,608.3 770.1,605.9 770.2,603.4 770.4,601 770.6,598.6 770.7,596.3 770.9,594 771.1,591.7 771.3,589.5 771.4,587.3 771.6,585.2 771.8,583.1 771.9,581.2 772.1,579.2 772.3,577.4 772.5,575.6 772.6,574 772.8,572.4 773,570.9 773.1,569.6 773.3,568.4 773.5,567.3 773.7,566.3 773.8,565.5 774,564.9 774.2,564.5 774.4,564.2 774.5,564.2 774.7,564.3 774.9,564.7 775,565.3 775.2,566.2 775.4,567.3 775.6,568.7 775.7,570.4 775.9,572.4 776.1,574.6 776.2,577.1 776.4,579.9 776.6,583 776.8,586.4 776.9,590.1 777.1,594 777.3,598.2 777.4,602.6 777.6,607.3 777.8,612.1 778,617.1 778.1,622.2 778.3,627.4 778.5,632.6 778.7,638 778.8,643.3 779,648.5 779.2,653.7 779.3,658.8 779.5,663.7 779.7,668.5 779.9,673.1 780,677.4 780.2,681.6 780.4,685.4 780.5,689 780.7,692.3 780.9,695.4 781.1,698.1 781.2,700.5 781.4,702.7 781.6,704.6 781.7,706.1 781.9,707.5 782.1,708.5 782.3,709.3 782.4,709.8 782.6,710.2 782.8,710.2 783,710.1 783.1,709.8 783.3,709.3 783.5,708.7 783.6,707.8 783.8,706.9 784,705.8 784.2,704.5 784.3,703.2 784.5,701.7 784.7,700.1 784.8,698.5 785,696.7 785.2,694.9 785.4,693 785.5,691.1 785.7,689.1 785.9,687 786,684.9 786.2,682.8 786.4,680.6 786.6,678.4 786.7,676.2 786.9,673.9 787.1,671.6 787.3,669.3 787.4,667 787.6,664.6 787.8,662.3 787.9,659.9 788.1,657.5 788.3,655.1 788.5,652.7 788.6,650.3 788.8,647.9 789,645.5 789.1,643.1 789.3,640.7 789.5,638.3 789.7,635.9 789.8,633.5 790,631.1 790.2,628.8 790.3,626.4 790.5,624 790.7,621.7 790.9,619.4 791,617.1 791.2,614.7 791.4,612.5 791.6,610.2 791.7,608 791.9,605.7 792.1,603.6 792.2,601.4 792.4,599.3 792.6,597.2 792.8,595.1 792.9,593.1 793.1,591.2 793.3,589.3 793.4,587.4 793.6,585.6 793.8,583.9 794,582.2 794.1,580.7 794.3,579.2 794.5,577.8 794.6,576.5 794.8,575.3 795,574.2 795.2,573.3 795.3,572.5 795.5,571.8 795.7,571.3 795.9,571 796,570.8 796.2,570.8 796.4,571.1 796.5,571.5 796.7,572.1 796.9,573 797.1,574.1 797.2,575.5 797.4,577.1 797.6,578.9 797.7,581.1 797.9,583.5 798.1,586.1 798.3,589 798.4,592.2 798.6,595.6 798.8,599.3 798.9,603.2 799.1,607.3 799.3,611.5 799.5,616 799.6,620.5 799.8,625.2 800,630 800.2,634.8 800.3,639.6 800.5,644.4 800.7,649.2 800.8,653.9 801,658.5 801.2,662.9 801.4,667.2 801.5,671.3 801.7,675.2 801.9,678.8 802,682.3 802.2,685.4 802.4,688.4 802.6,691 802.7,693.4 802.9,695.5 803.1,697.4 803.2,699 803.4,700.3 803.6,701.5 803.8,702.3 803.9,703 804.1,703.4 804.3,703.6 804.5,703.6 804.6,703.4 804.8,703.1 805,702.6 805.1,701.9 805.3,701.1 805.5,700.2 805.7,699.1 805.8,698 806,696.7 806.2,695.3 806.3,693.9 806.5,692.4 806.7,690.8 806.9,689.1 807,687.4 807.2,685.6 807.4,683.7 807.5,681.9 807.7,679.9 807.9,678 808.1,676 808.2,674 808.4,671.9 808.6,669.9 808.8,667.8 808.9,665.7 809.1,663.6 809.3,661.4 809.4,659.3 809.6,657.1 809.8,655 810,652.8 810.1,650.6 810.3,648.5 810.5,646.3 810.6,644.1 810.8,641.9 811,639.8 811.2,637.6 811.3,635.4 811.5,633.3 811.7,631.1 811.8,629 812,626.8 812.2,624.7 812.4,622.6 812.5,620.5 812.7,618.4 812.9,616.3 813.1,614.3 813.2,612.2 813.4,610.2 813.6,608.2 813.7,606.3 813.9,604.3 814.1,602.4 814.3,600.5 814.4,598.7 814.6,596.9 814.8,595.2 814.9,593.5 815.1,591.8 815.3,590.2 815.5,588.7 815.6,587.2 815.8,585.8 816,584.5 816.1,583.3 816.3,582.2 816.5,581.1 816.7,580.2 816.8,579.4 817,578.7 817.2,578.2 817.4,577.8 817.5,577.5 817.7,577.4 817.9,577.5 818,577.8 818.2,578.2 818.4,578.9 818.6,579.8 818.7,580.8 818.9,582.1 819.1,583.7 819.2,585.4 819.4,587.4 819.6,589.7 819.8,592.2 819.9,594.9 820.1,597.8 820.3,601 820.4,604.3 820.6,607.9 820.8,611.6 821,615.5 821.1,619.6 821.3,623.7 821.5,628 821.7,632.3 821.8,636.6 822,641 822.2,645.3 822.3,649.6 822.5,653.7 822.7,657.8 822.9,661.8 823,665.6 823.2,669.2 823.4,672.6 823.5,675.8 823.7,678.8 823.9,681.6 824.1,684.2 824.2,686.5 824.4,688.5 824.6,690.4 824.7,691.9 824.9,693.3 825.1,694.4 825.3,695.3 825.4,696.1 825.6,696.6 825.8,696.9 826,697 826.1,696.9 826.3,696.7 826.5,696.4 826.6,695.9 826.8,695.2 827,694.4 827.2,693.6 827.3,692.6 827.5,691.5 827.7,690.3 827.8,689.1 828,687.7 828.2,686.3 828.4,684.9 828.5,683.4 828.7,681.8 828.9,680.2 829,678.5 829.2,676.8 829.4,675.1 829.6,673.3 829.7,671.5 829.9,669.7 830.1,667.8 830.3,666 830.4,664.1 830.6,662.2 830.8,660.3 830.9,658.4 831.1,656.5 831.3,654.5 831.5,652.6 831.6,650.7 831.8,648.7 832,646.8 832.1,644.8 832.3,642.9 832.5,640.9 832.7,639 832.8,637 833,635.1 833.2,633.2 833.3,631.3 833.5,629.3 833.7,627.4 833.9,625.5 834,623.6 834.2,621.8 834.4,619.9 834.6,618.1 834.7,616.2 834.9,614.4 835.1,612.6 835.2,610.9 835.4,609.1 835.6,607.4 835.8,605.7 835.9,604 836.1,602.4 836.3,600.8 836.4,599.3 836.6,597.8 836.8,596.3 837,594.9 837.1,593.6 837.3,592.3 837.5,591.1 837.6,590 837.8,588.9 838,587.9 838.2,587 838.3,586.3 838.5,585.6 838.7,585 838.9,584.6 839,584.3 839.2,584.1 839.4,584.1 839.5,584.2 839.7,584.5 839.9,585 840.1,585.6 840.2,586.5 840.4,587.5 840.6,588.7 840.7,590.2 840.9,591.8 841.1,593.7 841.3,595.8 841.4,598 841.6,600.5 841.8,603.2 841.9,606.1 842.1,609.1 842.3,612.4 842.5,615.8 842.6,619.3 842.8,622.9 843,626.6 843.2,630.4 843.3,634.3 843.5,638.1 843.7,642 843.8,645.8 844,649.6 844.2,653.3 844.4,656.9 844.5,660.3 844.7,663.6 844.9,666.8 845,669.8 845.2,672.6 845.4,675.2 845.6,677.6 845.7,679.7 845.9,681.7 846.1,683.5 846.2,685 846.4,686.3 846.6,687.5 846.8,688.4 846.9,689.2 847.1,689.7 847.3,690.1 847.5,690.3 847.6,690.4 847.8,690.3 848,690 848.1,689.6 848.3,689.1 848.5,688.5 848.7,687.8 848.8,687 849,686.1 849.2,685.1 849.3,684 849.5,682.9 849.7,681.7 849.9,680.4 850,679.1 850.2,677.7 850.4,676.3 850.5,674.9 850.7,673.4 850.9,671.9 851.1,670.3 851.2,668.7 851.4,667.1 851.6,665.5 851.8,663.9 851.9,662.2 852.1,660.6 852.3,658.9 852.4,657.2 852.6,655.5 852.8,653.8 853,652.1 853.1,650.4 853.3,648.7 853.5,646.9 853.6,645.2 853.8,643.5 854,641.8 854.2,640.1 854.3,638.3 854.5,636.6 854.7,634.9 854.8,633.2 855,631.5 855.2,629.8 855.4,628.2 855.5,626.5 855.7,624.8 855.9,623.2 856.1,621.6 856.2,619.9 856.4,618.3 856.6,616.7 856.7,615.2 856.9,613.6 857.1,612.1 857.3,610.6 857.4,609.1 857.6,607.7 857.8,606.3 857.9,604.9 858.1,603.5 858.3,602.2 858.5,601 858.6,599.8 858.8,598.6 859,597.5 859.1,596.5 859.3,595.5 859.5,594.6 859.7,593.8 859.8,593 860,592.4 860.2,591.8 860.4,591.4 860.5,591 860.7,590.8 860.9,590.7 861,590.7 861.2,590.9 861.4,591.2 861.6,591.7 861.7,592.3 861.9,593.1 862.1,594.1 862.2,595.2 862.4,596.6 862.6,598.1 862.8,599.8 862.9,601.7 863.1,603.7 863.3,606 863.4,608.4 863.6,611 863.8,613.7 864,616.6 864.1,619.6 864.3,622.7 864.5,625.9 864.7,629.2 864.8,632.6 865,635.9 865.2,639.3 865.3,642.7 865.5,646 865.7,649.3 865.9,652.5 866,655.6 866.2,658.6 866.4,661.4 866.5,664.1 866.7,666.7 866.9,669.1 867.1,671.3 867.2,673.3 867.4,675.1 867.6,676.8 867.7,678.2 867.9,679.5 868.1,680.6 868.3,681.5 868.4,682.3 868.6,682.9 868.8,683.3 869,683.6 869.1,683.7 869.3,683.7 869.5,683.6 869.6,683.3 869.8,682.9 870,682.5 870.2,681.9 870.3,681.2 870.5,680.5 870.7,679.7 870.8,678.8 871,677.8 871.2,676.8 871.4,675.7 871.5,674.6 871.7,673.4 871.9,672.2 872,671 872.2,669.7 872.4,668.4 872.6,667.1 872.7,665.7 872.9,664.3 873.1,662.9 873.3,661.5 873.4,660.1 873.6,658.6 873.8,657.2 873.9,655.7 874.1,654.2 874.3,652.8 874.5,651.3 874.6,649.8 874.8,648.3 875,646.8 875.1,645.3 875.3,643.8 875.5,642.3 875.7,640.8 875.8,639.4 876,637.9 876.2,636.4 876.3,634.9 876.5,633.4 876.7,632 876.9,630.5 877,629.1 877.2,627.6 877.4,626.2 877.6,624.8 877.7,623.4 877.9,622 878.1,620.6 878.2,619.2 878.4,617.9 878.6,616.5 878.8,615.2 878.9,613.9 879.1,612.7 879.3,611.4 879.4,610.2 879.6,609.1 879.8,607.9 880,606.8 880.1,605.7 880.3,604.7 880.5,603.7 880.6,602.8 880.8,601.9 881,601.1 881.2,600.4 881.3,599.7 881.5,599.1 881.7,598.6 881.9,598.1 882,597.8 882.2,597.5 882.4,597.4 882.5,597.3 882.7,597.4 882.9,597.6 883.1,597.9 883.2,598.4 883.4,599 883.6,599.7 883.7,600.6 883.9,601.7 884.1,602.9 884.3,604.2 884.4,605.7 884.6,607.4 884.8,609.3 884.9,611.2 885.1,613.4 885.3,615.6 885.5,618 885.6,620.5 885.8,623.2 886,625.9 886.2,628.7 886.3,631.5 886.5,634.4 886.7,637.3 886.8,640.2 887,643 887.2,645.9 887.4,648.7 887.5,651.4 887.7,654 887.9,656.5 888,658.9 888.2,661.2 888.4,663.3 888.6,665.3 888.7,667.1 888.9,668.8 889.1,670.3 889.2,671.7 889.4,672.9 889.6,673.9 889.8,674.8 889.9,675.5 890.1,676.1 890.3,676.5 890.5,676.8 890.6,677 890.8,677.1 891,677 891.1,676.9 891.3,676.6 891.5,676.3 891.7,675.8 891.8,675.3 892,674.7 892.2,674.1 892.3,673.3 892.5,672.5 892.7,671.7 892.9,670.8 893,669.9 893.2,668.9 893.4,667.9 893.5,666.8 893.7,665.8 893.9,664.7 894.1,663.5 894.2,662.4 894.4,661.2 894.6,660 894.8,658.8 894.9,657.6 895.1,656.4 895.3,655.2 895.4,653.9 895.6,652.7 895.8,651.4 896,650.2 896.1,648.9 896.3,647.6 896.5,646.4 896.6,645.1 896.8,643.8 897,642.6 897.2,641.3 897.3,640.1 897.5,638.8 897.7,637.5 897.8,636.3 898,635 898.2,633.8 898.4,632.6 898.5,631.3 898.7,630.1 898.9,628.9 899.1,627.7 899.2,626.5 899.4,625.3 899.6,624.1 899.7,623 899.9,621.8 900.1,620.7 900.3,619.6 900.4,618.5 900.6,617.4 900.8,616.4 900.9,615.4 901.1,614.4 901.3,613.4 901.5,612.4 901.6,611.5 901.8,610.6 902,609.8 902.1,609 902.3,608.2 902.5,607.5 902.7,606.9 902.8,606.3 903,605.7 903.2,605.2 903.4,604.8 903.5,604.5 903.7,604.2 903.9,604.1 904,604 904.2,604 904.4,604.1 904.6,604.3 904.7,604.6 904.9,605 905.1,605.6 905.2,606.3 905.4,607.1 905.6,608 905.8,609 905.9,610.2 906.1,611.6 906.3,613 906.4,614.6 906.6,616.3 906.8,618.1 907,620.1 907.1,622.1 907.3,624.2 907.5,626.4 907.7,628.7 907.8,631.1 908,633.5 908.2,635.9 908.3,638.3 908.5,640.7 908.7,643.1 908.9,645.4 909,647.7 909.2,650 909.4,652.1 909.5,654.2 909.7,656.1 909.9,658 910.1,659.7 910.2,661.3 910.4,662.8 910.6,664.1 910.7,665.3 910.9,666.4 911.1,667.3 911.3,668.1 911.4,668.8 911.6,669.4 911.8,669.8 912,670.1 912.1,670.3 912.3,670.4 912.5,670.5 912.6,670.4 912.8,670.2 913,670 913.2,669.6 913.3,669.2 913.5,668.8 913.7,668.3 913.8,667.7 914,667.1 914.2,666.4 914.4,665.7 914.5,664.9 914.7,664.1 914.9,663.3 915,662.4 915.2,661.6 915.4,660.7 915.6,659.7 915.7,658.8 915.9,657.8 916.1,656.9 916.3,655.9 916.4,654.9 916.6,653.9 916.8,652.9 916.9,651.9 917.1,650.8 917.3,649.8 917.5,648.8 917.6,647.7 917.8,646.7 918,645.7 918.1,644.6 918.3,643.6 918.5,642.5 918.7,641.5 918.8,640.5 919,639.4 919.2,638.4 919.3,637.4 919.5,636.3 919.7,635.3 919.9,634.3 920,633.3 920.2,632.3 920.4,631.3 920.6,630.3 920.7,629.3 920.9,628.4 921.1,627.4 921.2,626.5 921.4,625.5 921.6,624.6 921.8,623.7 921.9,622.8 922.1,621.9 922.3,621.1 922.4,620.2 922.6,619.4 922.8,618.6 923,617.8 923.1,617.1 923.3,616.3 923.5,615.6 923.6,615 923.8,614.3 924,613.8 924.2,613.2 924.3,612.7 924.5,612.2 924.7,611.8 924.9,611.5 925,611.1 925.2,610.9 925.4,610.7 925.5,610.6 925.7,610.6 925.9,610.6 926.1,610.7 926.2,611 926.4,611.3 926.6,611.6 926.7,612.1 926.9,612.7 927.1,613.4 927.3,614.2 927.4,615.1 927.6,616.1 927.8,617.2 927.9,618.4 928.1,619.7 928.3,621.1 928.5,622.6 928.6,624.2 928.8,625.9 929,627.6 929.2,629.4 929.3,631.3 929.5,633.2 929.7,635.1 929.8,637 930,639 930.2,640.9 930.4,642.8 930.5,644.7 930.7,646.5 930.9,648.2 931,649.9 931.2,651.5 931.4,653.1 931.6,654.5 931.7,655.8 931.9,657.1 932.1,658.2 932.2,659.2 932.4,660.1 932.6,660.9 932.8,661.6 932.9,662.2 933.1,662.7 933.3,663.1 933.5,663.4 933.6,663.7 933.8,663.8 934,663.8 934.1,663.8 934.3,663.7 934.5,663.5 934.7,663.3 934.8,663 935,662.7 935.2,662.3 935.3,661.9 935.5,661.4 935.7,660.9 935.9,660.3 936,659.7 936.2,659.1 936.4,658.5 936.5,657.8 936.7,657.1 936.9,656.4 937.1,655.7 937.2,654.9 937.4,654.2 937.6,653.4 937.8,652.7 937.9,651.9 938.1,651.1 938.3,650.3 938.4,649.5 938.6,648.7 938.8,647.9 939,647.1 939.1,646.3 939.3,645.4 939.5,644.6 939.6,643.8 939.8,643 940,642.2 940.2,641.4 940.3,640.6 940.5,639.7 940.7,638.9 940.8,638.1 941,637.3 941.2,636.6 941.4,635.8 941.5,635 941.7,634.2 941.9,633.4 942.1,632.7 942.2,631.9 942.4,631.2 942.6,630.4 942.7,629.7 942.9,629 943.1,628.2 943.3,627.5 943.4,626.8 943.6,626.2 943.8,625.5 943.9,624.8 944.1,624.2 944.3,623.6 944.5,623 944.6,622.4 944.8,621.8 945,621.3 945.1,620.8 945.3,620.3 945.5,619.8 945.7,619.4 945.8,619 946,618.6 946.2,618.3 946.4,618 946.5,617.7 946.7,617.5 946.9,617.4 947,617.3 947.2,617.2 947.4,617.2 947.6,617.3 947.7,617.4 947.9,617.6 948.1,617.9 948.2,618.2 948.4,618.6 948.6,619.1 948.8,619.6 948.9,620.3 949.1,621 949.3,621.8 949.4,622.7 949.6,623.6 949.8,624.7 950,625.8 950.1,626.9 950.3,628.1 950.5,629.4 950.7,630.8 950.8,632.1 951,633.5 951.2,635 951.3,636.4 951.5,637.9 951.7,639.3 951.9,640.8 952,642.2 952.2,643.6 952.4,644.9 952.5,646.2 952.7,647.5 952.9,648.6 953.1,649.7 953.2,650.8 953.4,651.7 953.6,652.6 953.7,653.4 953.9,654.1 954.1,654.8 954.3,655.3 954.4,655.8 954.6,656.2 954.8,656.6 955,656.8 955.1,657 955.3,657.1 955.5,657.2 955.6,657.2 955.8,657.2 956,657.1 956.2,656.9 956.3,656.7 956.5,656.5 956.7,656.2 956.8,655.9 957,655.5 957.2,655.2 957.4,654.8 957.5,654.3 957.7,653.9 957.9,653.4 958,652.9 958.2,652.4 958.4,651.9 958.6,651.4 958.7,650.8 958.9,650.3 959.1,649.7 959.3,649.2 959.4,648.6 959.6,648 959.8,647.4 959.9,646.8 960.1,646.3 960.3,645.7 960.5,645.1 960.6,644.5 960.8,643.9 961,643.3 961.1,642.7 961.3,642.1 961.5,641.5 961.7,640.9 961.8,640.4 962,639.8 962.2,639.2 962.3,638.6 962.5,638 962.7,637.5 962.9,636.9 963,636.4 963.2,635.8 963.4,635.3 963.6,634.7 963.7,634.2 963.9,633.6 964.1,633.1 964.2,632.6 964.4,632.1 964.6,631.6 964.8,631.1 964.9,630.6 965.1,630.1 965.3,629.6 965.4,629.2 965.6,628.7 965.8,628.3 966,627.9 966.1,627.5 966.3,627.1 966.5,626.7 966.6,626.3 966.8,626 967,625.7 967.2,625.4 967.3,625.1 967.5,624.8 967.7,624.6 967.9,624.4 968,624.2 968.2,624.1 968.4,624 968.5,623.9 968.7,623.8 968.9,623.8 969.1,623.9 969.2,623.9 969.4,624.1 969.6,624.2 969.7,624.4 969.9,624.7 970.1,625 970.3,625.4 970.4,625.8 970.6,626.3 970.8,626.8 970.9,627.3 971.1,628 971.3,628.6 971.5,629.4 971.6,630.1 971.8,631 972,631.8 972.2,632.7 972.3,633.6 972.5,634.5 972.7,635.5 972.8,636.5 973,637.4 973.2,638.4 973.4,639.4 973.5,640.3 973.7,641.3 973.9,642.2 974,643 974.2,643.9 974.4,644.7 974.6,645.4 974.7,646.1 974.9,646.8 975.1,647.4 975.2,648 975.4,648.5 975.6,648.9 975.8,649.3 975.9,649.6 976.1,649.9 976.3,650.1 976.5,650.3 976.6,650.4 976.8,650.5 977,650.6 977.1,650.6 977.3,650.6 977.5,650.5 977.7,650.4 977.8,650.3 978,650.1 978.2,649.9 978.3,649.7 978.5,649.5 978.7,649.3 978.9,649 979,648.7 979.2,648.4 979.4,648.1 979.5,647.8 979.7,647.5 979.9,647.2 980.1,646.8 980.2,646.5 980.4,646.1 980.6,645.7 980.8,645.4 980.9,645 981.1,644.6 981.3,644.3 981.4,643.9 981.6,643.5 981.8,643.2 982,642.8 982.1,642.4 982.3,642 982.5,641.7 982.6,641.3 982.8,640.9 983,640.6 983.2,640.2 983.3,639.9 983.5,639.5 983.7,639.1 983.8,638.8 984,638.4 984.2,638.1 984.4,637.8 984.5,637.4 984.7,637.1 984.9,636.8 985.1,636.5 985.2,636.1 985.4,635.8 985.6,635.5 985.7,635.2 985.9,634.9 986.1,634.6 986.3,634.3 986.4,634.1 986.6,633.8 986.8,633.5 986.9,633.3 987.1,633 987.3,632.8 987.5,632.5 987.6,632.3 987.8,632.1 988,631.9 988.1,631.7 988.3,631.5 988.5,631.4 988.7,631.2 988.8,631 989,630.9 989.2,630.8 989.4,630.7 989.5,630.6 989.7,630.5 989.9,630.5 990,630.4 990.2,630.4 990.4,630.4 990.6,630.5 990.7,630.5 990.9,630.6 991.1,630.7 991.2,630.8 991.4,631 991.6,631.1 991.8,631.3 991.9,631.6 992.1,631.8 992.3,632.1 992.4,632.4 992.6,632.7 992.8,633.1 993,633.5 993.1,633.9 993.3,634.3 993.5,634.7 993.7,635.2 993.8,635.7 994,636.1 994.2,636.6 994.3,637.1 994.5,637.6 994.7,638.1 994.9,638.6 995,639.1 995.2,639.6 995.4,640 995.5,640.5 995.7,640.9 995.9,641.3 996.1,641.6 996.2,642 996.4,642.3 996.6,642.6 996.7,642.9 996.9,643.1 997.1,643.3 997.3,643.5 997.4,643.6 997.6,643.8 997.8,643.8 998,643.9 998.1,644 998.3,644 998.5,644 998.6,644 998.8,644 999,643.9 999.2,643.9 999.3,643.8 999.5,643.7 999.7,643.6 999.8,643.5 1000,643.4 1000.2,643.2 1000.4,643.1 1000.5,642.9 1000.7,642.8 1000.9,642.6 1001,642.5 1001.2,642.3 1001.4,642.2 1001.6,642 1001.7,641.8 1001.9,641.7 1002.1,641.5 1002.3,641.3 1002.4,641.2 1002.6,641 1002.8,640.9 1002.9,640.7 1003.1,640.5 1003.3,640.4 1003.5,640.2 1003.6,640.1 1003.8,639.9 1004,639.8 1004.1,639.6 1004.3,639.5 1004.5,639.3 1004.7,639.2 1004.8,639.1 1005,638.9 1005.2,638.8 1005.3,638.7 1005.5,638.5 1005.7,638.4 1005.9,638.3 1006,638.2 1006.2,638.1 1006.4,638 1006.6,637.9 1006.7,637.8 1006.9,637.7 1007.1,637.6 1007.2,637.5 1007.4,637.5 1007.6,637.4 1007.8,637.3 1007.9,637.3 1008.1,637.2 1008.3,637.1 1008.4,637.1 1008.6,637 1008.8,637 1009,637 1009.1,636.9 1009.3,636.9 1009.5,636.9 1009.6,636.8 1009.8,636.8 1010,636.8 1010.2,636.8 1010.3,636.8 1010.5,636.8 1010.7,636.8 1010.9,636.8 1011,636.9 1011.2,636.9 1011.4,636.9 1011.5,636.9 1011.7,637 1011.9,637 1012.1,637.1 1012.2,637.1 1012.4,637.2 1012.6,637.2 1012.7,637.3 1012.9,637.3 1013.1,637.4 1013.3,637.5 1013.4,637.6 1013.6,637.6 1013.8,637.7 1013.9,637.8 1014.1,637.8 1014.3,637.9 1014.5,638 1014.6,638.1 1014.8,638.1 1015,638.2 1015.2,638.2 1015.3,638.3 1015.5,638.3 1015.7,638.4 1015.8,638.4 1016,638.4 1016.2,638.5 1016.4,638.5 1016.5,638.5 1016.7,638.5"/>
<polyline stroke="#ff0000" points="672.7,627.7 672.9,627.8 673,628 673.2,628.2 673.4,628.5 673.6,628.8 673.7,629.1 673.9,629.4 674.1,629.7 674.2,630 674.4,630.4 674.6,630.7 674.8,631.1 674.9,631.4 675.1,631.7 675.3,632 675.5,632.3 675.6,632.7 675.8,633 676,633.3 676.1,633.6 676.3,633.9 676.5,634.1 676.7,634.4 676.8,634.7 677,635 677.2,635.2 677.3,635.5 677.5,635.8 677.7,636 677.9,636.3 678,636.5 678.2,636.8 678.4,637 678.5,637.2 678.7,637.4 678.9,637.7 679.1,637.9 679.2,638.1 679.4,638.3 679.6,638.5 679.8,638.7 679.9,638.9 680.1,639.1 680.3,639.2 680.4,639.4 680.6,639.6 680.8,639.8 681,639.9 681.1,640.1 681.3,640.2 681.5,640.4 681.6,640.5 681.8,640.7 682,640.8 682.2,640.9 682.3,641 682.5,641.2 682.7,641.3 682.8,641.4 683,641.5 683.2,641.6 683.4,641.7 683.5,641.8 683.7,641.9 683.9,641.9 684.1,642 684.2,642.1 684.4,642.1 684.6,642.2 684.7,642.3 684.9,642.3 685.1,642.4 685.3,642.4 685.4,642.4 685.6,642.5 685.8,642.5 685.9,642.5 686.1,642.5 686.3,642.6 686.5,642.6 686.6,642.6 686.8,642.5 687,642.5 687.1,642.5 687.3,642.4 687.5,642.4 687.7,642.3 687.8,642.2 688,642.1 688.2,642 688.4,641.8 688.5,641.7 688.7,641.5 688.9,641.3 689,641.1 689.2,640.9 689.4,640.7 689.6,640.4 689.7,640.1 689.9,639.9 690.1,639.6 690.2,639.2 690.4,638.9 690.6,638.6 690.8,638.2 690.9,637.8 691.1,637.4 691.3,637 691.4,636.6 691.6,636.2 691.8,635.7 692,635.2 692.1,634.7 692.3,634.2 692.5,633.7 692.7,633.2 692.8,632.7 693,632.1 693.2,631.6 693.3,631 693.5,630.5 693.7,630 693.9,629.6 694,629.3 694.2,629 694.4,628.8 694.5,628.7 694.7,628.7 694.9,628.8 695.1,629 695.2,629.2 695.4,629.5 695.6,629.8 695.7,630.1 695.9,630.5 696.1,630.8 696.3,631.1 696.4,631.4 696.6,631.7 696.8,632.1 697,632.4 697.1,632.7 697.3,633 697.5,633.3 697.6,633.6 697.8,633.8 698,634.1 698.2,634.4 698.3,634.7 698.5,634.9 698.7,635.2 698.8,635.5 699,635.7 699.2,636 699.4,636.2 699.5,636.4 699.7,636.7 699.9,636.9 700,637.1 700.2,637.3 700.4,637.6 700.6,637.8 700.7,638 700.9,638.2 701.1,638.4 701.3,638.6 701.4,638.7 701.6,638.9 701.8,639.1 701.9,639.3 702.1,639.4 702.3,639.6 702.5,639.8 702.6,639.9 702.8,640.1 703,640.2 703.1,640.4 703.3,640.5 703.5,640.6 703.7,640.7 703.8,640.9 704,641 704.2,641.1 704.3,641.2 704.5,641.3 704.7,641.4 704.9,641.5 705,641.6 705.2,641.7 705.4,641.7 705.6,641.8 705.7,641.9 705.9,642 706.1,642 706.2,642.1 706.4,642.1 706.6,642.2 706.8,642.2 706.9,642.3 707.1,642.3 707.3,642.3 707.4,642.3 707.6,642.4 707.8,642.4 708,642.4 708.1,642.4 708.3,642.4 708.5,642.3 708.6,642.3 708.8,642.3 709,642.2 709.2,642.1 709.3,642 709.5,641.9 709.7,641.8 709.9,641.7 710,641.5 710.2,641.4 710.4,641.2 710.5,641 710.7,640.8 710.9,640.6 711.1,640.3 711.2,640.1 711.4,639.8 711.6,639.5 711.7,639.2 711.9,638.9 712.1,638.6 712.3,638.2 712.4,637.9 712.6,637.5 712.8,637.1 712.9,636.7 713.1,636.3 713.3,635.8 713.5,635.4 713.6,634.9 713.8,634.4 714,633.9 714.2,633.4 714.3,632.9 714.5,632.3 714.7,631.8 714.8,631.3 715,630.8 715.2,630.3 715.4,629.9 715.5,629.5 715.7,629.2 715.9,629 716,628.9 716.2,628.9 716.4,629 716.6,629.2 716.7,629.4 716.9,629.6 717.1,629.9 717.2,630.2 717.4,630.5 717.6,630.8 717.8,631.2 717.9,631.5 718.1,631.8 718.3,632.1 718.5,632.4 718.6,632.7 718.8,633 719,633.3 719.1,633.6 719.3,633.8 719.5,634.1 719.7,634.4 719.8,634.6 720,634.9 720.2,635.2 720.3,635.4 720.5,635.7 720.7,635.9 720.9,636.1 721,636.4 721.2,636.6 721.4,636.8 721.5,637 721.7,637.3 721.9,637.5 722.1,637.7 722.2,637.9 722.4,638.1 722.6,638.3 722.8,638.4 722.9,638.6 723.1,638.8 723.3,639 723.4,639.1 723.6,639.3 723.8,639.5 724,639.6 724.1,639.8 724.3,639.9 724.5,640.1 724.6,640.2 724.8,640.3 725,640.5 725.2,640.6 725.3,640.7 725.5,640.8 725.7,640.9 725.8,641 726,641.1 726.2,641.2 726.4,641.3 726.5,641.4 726.7,641.5 726.9,641.6 727.1,641.6 727.2,641.7 727.4,641.8 727.6,641.8 727.7,641.9 727.9,641.9 728.1,642 728.3,642 728.4,642.1 728.6,642.1 728.8,642.1 728.9,642.2 729.1,642.2 729.3,642.2 729.5,642.2 729.6,642.2 729.8,642.2 730,642.2 730.1,642.1 730.3,642.1 730.5,642 730.7,642 730.8,641.9 731,641.8 731.2,641.7 731.4,641.6 731.5,641.4 731.7,641.3 731.9,641.1 732,640.9 732.2,640.7 732.4,640.5 732.6,640.3 732.7,640 732.9,639.8 733.1,639.5 733.2,639.2 733.4,638.9 733.6,638.6 733.8,638.2 733.9,637.9 734.1,637.5 734.3,637.1 734.4,636.7 734.6,636.3 734.8,635.9 735,635.5 735.1,635 735.3,634.5 735.5,634.1 735.7,633.6 735.8,633.1 736,632.5 736.2,632 736.3,631.5 736.5,631 736.7,630.6 736.9,630.1 737,629.8 737.2,629.5 737.4,629.3 737.5,629.2 737.7,629.1 737.9,629.2 738.1,629.3 738.2,629.5 738.4,629.8 738.6,630 738.7,630.3 738.9,630.6 739.1,630.9 739.3,631.2 739.4,631.5 739.6,631.8 739.8,632.1 740,632.4 740.1,632.7 740.3,633 740.5,633.3 740.6,633.6 740.8,633.8 741,634.1 741.2,634.4 741.3,634.6 741.5,634.9 741.7,635.1 741.8,635.4 742,635.6 742.2,635.8 742.4,636.1 742.5,636.3 742.7,636.5 742.9,636.7 743,637 743.2,637.2 743.4,637.4 743.6,637.6 743.7,637.8 743.9,638 744.1,638.1 744.3,638.3 744.4,638.5 744.6,638.7 744.8,638.8 744.9,639 745.1,639.2 745.3,639.3 745.5,639.5 745.6,639.6 745.8,639.8 746,639.9 746.1,640 746.3,640.2 746.5,640.3 746.7,640.4 746.8,640.5 747,640.6 747.2,640.8 747.3,640.9 747.5,641 747.7,641 747.9,641.1 748,641.2 748.2,641.3 748.4,641.4 748.6,641.5 748.7,641.5 748.9,641.6 749.1,641.6 749.2,641.7 749.4,641.8 749.6,641.8 749.8,641.8 749.9,641.9 750.1,641.9 750.3,641.9 750.4,642 750.6,642 750.8,642 751,642 751.1,642 751.3,642 751.5,642 751.6,641.9 751.8,641.9 752,641.9 752.2,641.8 752.3,641.7 752.5,641.6 752.7,641.5 752.9,641.4 753,641.3 753.2,641.1 753.4,641 753.5,640.8 753.7,640.6 753.9,640.4 754.1,640.2 754.2,640 754.4,639.7 754.6,639.4 754.7,639.2 754.9,638.9 755.1,638.6 755.3,638.2 755.4,637.9 755.6,637.5 755.8,637.2 755.9,636.8 756.1,636.4 756.3,636 756.5,635.6 756.6,635.1 756.8,634.7 757,634.2 757.2,633.7 757.3,633.3 757.5,632.8 757.7,632.3 757.8,631.8 758,631.3 758.2,630.8 758.4,630.4 758.5,630 758.7,629.7 758.9,629.5 759,629.4 759.2,629.3 759.4,629.4 759.6,629.5 759.7,629.7 759.9,629.9 760.1,630.1 760.2,630.4 760.4,630.7 760.6,631 760.8,631.3 760.9,631.6 761.1,631.9 761.3,632.2 761.5,632.5 761.6,632.7 761.8,633 762,633.3 762.1,633.6 762.3,633.8 762.5,634.1 762.7,634.3 762.8,634.6 763,634.8 763.2,635.1 763.3,635.3 763.5,635.6 763.7,635.8 763.9,636 764,636.2 764.2,636.5 764.4,636.7 764.5,636.9 764.7,637.1 764.9,637.3 765.1,637.5 765.2,637.7 765.4,637.8 765.6,638 765.8,638.2 765.9,638.4 766.1,638.6 766.3,638.7 766.4,638.9 766.6,639 766.8,639.2 767,639.3 767.1,639.5 767.3,639.6 767.5,639.8 767.6,639.9 767.8,640 768,640.1 768.2,640.3 768.3,640.4 768.5,640.5 768.7,640.6 768.8,640.7 769,640.8 769.2,640.9 769.4,641 769.5,641 769.7,641.1 769.9,641.2 770.1,641.3 770.2,641.3 770.4,641.4 770.6,641.5 770.7,641.5 770.9,641.6 771.1,641.6 771.3,641.7 771.4,641.7 771.6,641.7 771.8,641.7 771.9,641.8 772.1,641.8 772.3,641.8 772.5,641.8 772.6,641.8 772.8,641.8 773,641.8 773.1,641.8 773.3,641.7 773.5,641.7 773.7,641.6 773.8,641.6 774,641.5 774.2,641.4 774.4,641.3 774.5,641.1 774.7,641 774.9,640.9 775,640.7 775.2,640.5 775.4,640.3 775.6,640.1 775.7,639.9 775.9,639.6 776.1,639.4 776.2,639.1 776.4,638.8 776.6,638.5 776.8,638.2 776.9,637.9 777.1,637.6 777.3,637.2 777.4,636.9 777.6,636.5 777.8,636.1 778,635.7 778.1,635.3 778.3,634.8 778.5,634.4 778.7,633.9 778.8,633.4 779,633 779.2,632.5 779.3,632 779.5,631.5 779.7,631.1 779.9,630.6 780,630.3 780.2,630 780.4,629.7 780.5,629.6 780.7,629.5 780.9,629.5 781.1,629.6 781.2,629.8 781.4,630 781.6,630.2 781.7,630.5 781.9,630.8 782.1,631.1 782.3,631.4 782.4,631.7 782.6,631.9 782.8,632.2 783,632.5 783.1,632.8 783.3,633 783.5,633.3 783.6,633.6 783.8,633.8 784,634.1 784.2,634.3 784.3,634.6 784.5,634.8 784.7,635.1 784.8,635.3 785,635.5 785.2,635.7 785.4,636 785.5,636.2 785.7,636.4 785.9,636.6 786,636.8 786.2,637 786.4,637.2 786.6,637.4 786.7,637.6 786.9,637.7 787.1,637.9 787.3,638.1 787.4,638.3 787.6,638.4 787.8,638.6 787.9,638.8 788.1,638.9 788.3,639.1 788.5,639.2 788.6,639.3 788.8,639.5 789,639.6 789.1,639.7 789.3,639.9 789.5,640 789.7,640.1 789.8,640.2 790,640.3 790.2,640.4 790.3,640.5 790.5,640.6 790.7,640.7 790.9,640.8 791,640.9 791.2,640.9 791.4,641 791.6,641.1 791.7,641.2 791.9,641.2 792.1,641.3 792.2,641.3 792.4,641.4 792.6,641.4 792.8,641.5 792.9,641.5 793.1,641.5 793.3,641.6 793.4,641.6 793.6,641.6 793.8,641.6 794,641.6 794.1,641.6 794.3,641.6 794.5,641.6 794.6,641.6 794.8,641.6 795,641.5 795.2,641.5 795.3,641.4 795.5,641.3 795.7,641.2 795.9,641.1 796,641 796.2,640.9 796.4,640.7 796.5,640.6 796.7,640.4 796.9,640.2 797.1,640 797.2,639.8 797.4,639.6 797.6,639.3 797.7,639.1 797.9,638.8 798.1,638.5 798.3,638.2 798.4,637.9 798.6,637.6 798.8,637.3 798.9,636.9 799.1,636.5 799.3,636.2 799.5,635.8 799.6,635.4 799.8,634.9 800,634.5 800.2,634.1 800.3,633.6 800.5,633.1 800.7,632.7 800.8,632.2 801,631.7 801.2,631.3 801.4,630.9 801.5,630.5 801.7,630.2 801.9,630 802,629.8 802.2,629.7 802.4,629.7 802.6,629.8 802.7,629.9 802.9,630.1 803.1,630.4 803.2,630.6 803.4,630.9 803.6,631.2 803.8,631.5 803.9,631.7 804.1,632 804.3,632.3 804.5,632.6 804.6,632.8 804.8,633.1 805,633.3 805.1,633.6 805.3,633.9 805.5,634.1 805.7,634.3 805.8,634.6 806,634.8 806.2,635 806.3,635.3 806.5,635.5 806.7,635.7 806.9,635.9 807,636.1 807.2,636.3 807.4,636.5 807.5,636.7 807.7,636.9 807.9,637.1 808.1,637.3 808.2,637.5 808.4,637.7 808.6,637.8 808.8,638 808.9,638.2 809.1,638.3 809.3,638.5 809.4,638.6 809.6,638.8 809.8,638.9 810,639.1 810.1,639.2 810.3,639.3 810.5,639.5 810.6,639.6 810.8,639.7 811,639.8 811.2,639.9 811.3,640.1 811.5,640.2 811.7,640.3 811.8,640.4 812,640.4 812.2,640.5 812.4,640.6 812.5,640.7 812.7,640.8 812.9,640.8 813.1,640.9 813.2,641 813.4,641 813.6,641.1 813.7,641.1 813.9,641.2 814.1,641.2 814.3,641.3 814.4,641.3 814.6,641.3 814.8,641.4 814.9,641.4 815.1,641.4 815.3,641.4 815.5,641.4 815.6,641.4 815.8,641.4 816,641.4 816.1,641.4 816.3,641.4 816.5,641.3 816.7,641.3 816.8,641.2 817,641.1 817.2,641.1 817.4,641 817.5,640.8 817.7,640.7 817.9,640.6 818,640.4 818.2,640.2 818.4,640.1 818.6,639.9 818.7,639.7 818.9,639.4 819.1,639.2 819.2,639 819.4,638.7 819.6,638.4 819.8,638.1 819.9,637.8 820.1,637.5 820.3,637.2 820.4,636.8 820.6,636.5 820.8,636.1 821,635.7 821.1,635.3 821.3,634.9 821.5,634.5 821.7,634.1 821.8,633.6 822,633.2 822.2,632.7 822.3,632.3 822.5,631.8 822.7,631.4 822.9,631 823,630.6 823.2,630.3 823.4,630.1 823.5,630 823.7,629.9 823.9,629.9 824.1,630 824.2,630.2 824.4,630.4 824.6,630.6 824.7,630.8 824.9,631.1 825.1,631.4 825.3,631.6 825.4,631.9 825.6,632.2 825.8,632.4 826,632.7 826.1,632.9 826.3,633.2 826.5,633.5 826.6,633.7 826.8,633.9 827,634.2 827.2,634.4 827.3,634.6 827.5,634.9 827.7,635.1 827.8,635.3 828,635.5 828.2,635.7 828.4,635.9 828.5,636.1 828.7,636.3 828.9,636.5 829,636.7 829.2,636.9 829.4,637.1 829.6,637.3 829.7,637.4 829.9,637.6 830.1,637.8 830.3,637.9 830.4,638.1 830.6,638.3 830.8,638.4 830.9,638.6 831.1,638.7 831.3,638.8 831.5,639 831.6,639.1 831.8,639.2 832,639.4 832.1,639.5 832.3,639.6 832.5,639.7 832.7,639.8 832.8,639.9 833,640 833.2,640.1 833.3,640.2 833.5,640.3 833.7,640.4 833.9,640.5 834,640.5 834.2,640.6 834.4,640.7 834.6,640.8 834.7,640.8 834.9,640.9 835.1,640.9 835.2,641 835.4,641 835.6,641.1 835.8,641.1 835.9,641.1 836.1,641.2 836.3,641.2 836.4,641.2 836.6,641.2 836.8,641.2 837,641.3 837.1,641.3 837.3,641.3 837.5,641.2 837.6,641.2 837.8,641.2 838,641.2 838.2,641.1 838.3,641 838.5,641 838.7,640.9 838.9,640.8 839,640.7 839.2,640.6 839.4,640.4 839.5,640.3 839.7,640.1 839.9,639.9 840.1,639.7 840.2,639.5 840.4,639.3 840.6,639.1 840.7,638.9 840.9,638.6 841.1,638.3 841.3,638.1 841.4,637.8 841.6,637.5 841.8,637.1 841.9,636.8 842.1,636.5 842.3,636.1 842.5,635.8 842.6,635.4 842.8,635 843,634.6 843.2,634.2 843.3,633.7 843.5,633.3 843.7,632.9 843.8,632.4 844,632 844.2,631.6 844.4,631.2 844.5,630.8 844.7,630.5 844.9,630.3 845,630.2 845.2,630.1 845.4,630.1 845.6,630.2 845.7,630.3 845.9,630.5 846.1,630.7 846.2,631 846.4,631.2 846.6,631.5 846.8,631.8 846.9,632 847.1,632.3 847.3,632.5 847.5,632.8 847.6,633 847.8,633.3 848,633.5 848.1,633.8 848.3,634 848.5,634.2 848.7,634.5 848.8,634.7 849,634.9 849.2,635.1 849.3,635.3 849.5,635.5 849.7,635.8 849.9,636 850,636.1 850.2,636.3 850.4,636.5 850.5,636.7 850.7,636.9 850.9,637.1 851.1,637.2 851.2,637.4 851.4,637.6 851.6,637.7 851.8,637.9 851.9,638 852.1,638.2 852.3,638.3 852.4,638.5 852.6,638.6 852.8,638.8 853,638.9 853.1,639 853.3,639.1 853.5,639.3 853.6,639.4 853.8,639.5 854,639.6 854.2,639.7 854.3,639.8 854.5,639.9 854.7,640 854.8,640.1 855,640.2 855.2,640.2 855.4,640.3 855.5,640.4 855.7,640.5 855.9,640.5 856.1,640.6 856.2,640.7 856.4,640.7 856.6,640.8 856.7,640.8 856.9,640.9 857.1,640.9 857.3,640.9 857.4,641 857.6,641 857.8,641 857.9,641 858.1,641.1 858.3,641.1 858.5,641.1 858.6,641.1 858.8,641.1 859,641.1 859.1,641 859.3,641 859.5,641 859.7,640.9 859.8,640.8 860,640.8 860.2,640.7 860.4,640.6 860.5,640.5 860.7,640.3 860.9,640.2 861,640.1 861.2,639.9 861.4,639.7 861.6,639.5 861.7,639.3 861.9,639.1 862.1,638.9 862.2,638.7 862.4,638.4 862.6,638.1 862.8,637.9 862.9,637.6 863.1,637.3 863.3,637 863.4,636.6 863.6,636.3 863.8,635.9 864,635.6 864.1,635.2 864.3,634.8 864.5,634.4 864.7,634 864.8,633.6 865,633.2 865.2,632.7 865.3,632.3 865.5,631.9 865.7,631.5 865.9,631.2 866,630.9 866.2,630.6 866.4,630.4 866.5,630.3 866.7,630.3 866.9,630.4 867.1,630.5 867.2,630.6 867.4,630.8 867.6,631 867.7,631.3 867.9,631.5 868.1,631.8 868.3,632 868.4,632.3 868.6,632.5 868.8,632.8 869,633 869.1,633.3 869.3,633.5 869.5,633.7 869.6,634 869.8,634.2 870,634.4 870.2,634.6 870.3,634.9 870.5,635.1 870.7,635.3 870.8,635.5 871,635.7 871.2,635.9 871.4,636.1 871.5,636.2 871.7,636.4 871.9,636.6 872,636.8 872.2,637 872.4,637.1 872.6,637.3 872.7,637.5 872.9,637.6 873.1,637.8 873.3,637.9 873.4,638.1 873.6,638.2 873.8,638.3 873.9,638.5 874.1,638.6 874.3,638.7 874.5,638.9 874.6,639 874.8,639.1 875,639.2 875.1,639.3 875.3,639.4 875.5,639.5 875.7,639.6 875.8,639.7 876,639.8 876.2,639.9 876.3,640 876.5,640.1 876.7,640.1 876.9,640.2 877,640.3 877.2,640.3 877.4,640.4 877.6,640.5 877.7,640.5 877.9,640.6 878.1,640.6 878.2,640.7 878.4,640.7 878.6,640.7 878.8,640.8 878.9,640.8 879.1,640.8 879.3,640.9 879.4,640.9 879.6,640.9 879.8,640.9 880,640.9 880.1,640.9 880.3,640.9 880.5,640.9 880.6,640.8 880.8,640.8 881,640.7 881.2,640.7 881.3,640.6 881.5,640.5 881.7,640.4 881.9,640.3 882,640.2 882.2,640.1 882.4,640 882.5,639.8 882.7,639.6 882.9,639.5 883.1,639.3 883.2,639.1 883.4,638.8 883.6,638.6 883.7,638.4 883.9,638.1 884.1,637.9 884.3,637.6 884.4,637.3 884.6,637 884.8,636.7 884.9,636.4 885.1,636 885.3,635.7 885.5,635.3 885.6,635 885.8,634.6 886,634.2 886.2,633.8 886.3,633.4 886.5,633 886.7,632.5 886.8,632.1 887,631.8 887.2,631.4 887.4,631.1 887.5,630.9 887.7,630.7 887.9,630.5 888,630.5 888.2,630.5 888.4,630.6 888.6,630.8 888.7,630.9 888.9,631.1 889.1,631.4 889.2,631.6 889.4,631.9 889.6,632.1 889.8,632.3 889.9,632.6 890.1,632.8 890.3,633.1 890.5,633.3 890.6,633.5 890.8,633.7 891,634 891.1,634.2 891.3,634.4 891.5,634.6 891.7,634.8 891.8,635 892,635.2 892.2,635.4 892.3,635.6 892.5,635.8 892.7,636 892.9,636.2 893,636.3 893.2,636.5 893.4,636.7 893.5,636.9 893.7,637 893.9,637.2 894.1,637.3 894.2,637.5 894.4,637.6 894.6,637.8 894.8,637.9 894.9,638.1 895.1,638.2 895.3,638.3 895.4,638.5 895.6,638.6 895.8,638.7 896,638.8 896.1,638.9 896.3,639 896.5,639.1 896.6,639.3 896.8,639.3 897,639.4 897.2,639.5 897.3,639.6 897.5,639.7 897.7,639.8 897.8,639.9 898,639.9 898.2,640 898.4,640.1 898.5,640.2 898.7,640.2 898.9,640.3 899.1,640.3 899.2,640.4 899.4,640.4 899.6,640.5 899.7,640.5 899.9,640.5 900.1,640.6 900.3,640.6 900.4,640.6 900.6,640.7 900.8,640.7 900.9,640.7 901.1,640.7 901.3,640.7 901.5,640.7 901.6,640.7 901.8,640.7 902,640.7 902.1,640.6 902.3,640.6 902.5,640.5 902.7,640.5 902.8,640.4 903,640.3 903.2,640.2 903.4,640.1 903.5,640 903.7,639.9 903.9,639.7 904,639.6 904.2,639.4 904.4,639.3 904.6,639.1 904.7,638.9 904.9,638.7 905.1,638.4 905.2,638.2 905.4,638 905.6,637.7 905.8,637.4 905.9,637.2 906.1,636.9 906.3,636.6 906.4,636.3 906.6,635.9 906.8,635.6 907,635.2 907.1,634.9 907.3,634.5 907.5,634.1 907.7,633.8 907.8,633.4 908,633 908.2,632.6 908.3,632.2 908.5,631.8 908.7,631.5 908.9,631.2 909,631 909.2,630.8 909.4,630.7 909.5,630.7 909.7,630.7 909.9,630.8 910.1,631 910.2,631.2 910.4,631.4 910.6,631.6 910.7,631.8 910.9,632.1 911.1,632.3 911.3,632.5 911.4,632.8 911.6,633 911.8,633.2 912,633.4 912.1,633.7 912.3,633.9 912.5,634.1 912.6,634.3 912.8,634.5 913,634.7 913.2,634.9 913.3,635.1 913.5,635.3 913.7,635.5 913.8,635.7 914,635.8 914.2,636 914.4,636.2 914.5,636.4 914.7,636.5 914.9,636.7 915,636.8 915.2,637 915.4,637.2 915.6,637.3 915.7,637.5 915.9,637.6 916.1,637.7 916.3,637.9 916.4,638 916.6,638.1 916.8,638.3 916.9,638.4 917.1,638.5 917.3,638.6 917.5,638.7 917.6,638.8 917.8,638.9 918,639 918.1,639.1 918.3,639.2 918.5,639.3 918.7,639.4 918.8,639.5 919,639.6 919.2,639.7 919.3,639.7 919.5,639.8 919.7,639.9 919.9,639.9 920,640 920.2,640.1 920.4,640.1 920.6,640.2 920.7,640.2 920.9,640.3 921.1,640.3 921.2,640.3 921.4,640.4 921.6,640.4 921.8,640.4 921.9,640.5 922.1,640.5 922.3,640.5 922.4,640.5 922.6,640.5 922.8,640.5 923,640.5 923.1,640.5 923.3,640.5 923.5,640.5 923.6,640.4 923.8,640.4 924,640.4 924.2,640.3 924.3,640.2 924.5,640.1 924.7,640 924.9,639.9 925,639.8 925.2,639.7 925.4,639.6 925.5,639.4 925.7,639.3 925.9,639.1 926.1,638.9 926.2,638.7 926.4,638.5 926.6,638.3 926.7,638.1 926.9,637.8 927.1,637.6 927.3,637.3 927.4,637 927.6,636.8 927.8,636.5 927.9,636.2 928.1,635.9 928.3,635.5 928.5,635.2 928.6,634.8 928.8,634.5 929,634.1 929.2,633.7 929.3,633.4 929.5,633 929.7,632.6 929.8,632.2 930,631.9 930.2,631.6 930.4,631.3 930.5,631.1 930.7,631 930.9,630.9 931,630.9 931.2,631 931.4,631.1 931.6,631.2 931.7,631.4 931.9,631.6 932.1,631.8 932.2,632 932.4,632.3 932.6,632.5 932.8,632.7 932.9,632.9 933.1,633.2 933.3,633.4 933.5,633.6 933.6,633.8 933.8,634 934,634.2 934.1,634.4 934.3,634.6 934.5,634.8 934.7,635 934.8,635.2 935,635.4 935.2,635.5 935.3,635.7 935.5,635.9 935.7,636.1 935.9,636.2 936,636.4 936.2,636.6 936.4,636.7 936.5,636.9 936.7,637 936.9,637.2 937.1,637.3 937.2,637.4 937.4,637.6 937.6,637.7 937.8,637.8 937.9,638 938.1,638.1 938.3,638.2 938.4,638.3 938.6,638.4 938.8,638.6 939,638.7 939.1,638.8 939.3,638.9 939.5,639 939.6,639.1 939.8,639.1 940,639.2 940.2,639.3 940.3,639.4 940.5,639.5 940.7,639.5 940.8,639.6 941,639.7 941.2,639.8 941.4,639.8 941.5,639.9 941.7,639.9 941.9,640 942.1,640 942.2,640.1 942.4,640.1 942.6,640.1 942.7,640.2 942.9,640.2 943.1,640.2 943.3,640.3 943.4,640.3 943.6,640.3 943.8,640.3 943.9,640.3 944.1,640.3 944.3,640.3 944.5,640.3 944.6,640.3 944.8,640.3 945,640.3 945.1,640.2 945.3,640.2 945.5,640.1 945.7,640.1 945.8,640 946,639.9 946.2,639.8 946.4,639.7 946.5,639.6 946.7,639.5 946.9,639.3 947,639.2 947.2,639 947.4,638.9 947.6,638.7 947.7,638.5 947.9,638.3 948.1,638.1 948.2,637.8 948.4,637.6 948.6,637.3 948.8,637.1 948.9,636.8 949.1,636.5 949.3,636.3 949.4,636 949.6,635.6 949.8,635.3 950,635 950.1,634.6 950.3,634.3 950.5,633.9 950.7,633.6 950.8,633.2 951,632.8 951.2,632.5 951.3,632.1 951.5,631.8 951.7,631.6 951.9,631.4 952,631.2 952.2,631.1 952.4,631.1 952.5,631.1 952.7,631.2 952.9,631.4 953.1,631.5 953.2,631.7 953.4,631.9 953.6,632.1 953.7,632.3 953.9,632.6 954.1,632.8 954.3,633 954.4,633.2 954.6,633.4 954.8,633.6 955,633.8 955.1,634 955.3,634.2 955.5,634.4 955.6,634.6 955.8,634.8 956,635 956.2,635.1 956.3,635.3 956.5,635.5 956.7,635.7 956.8,635.8 957,636 957.2,636.2 957.4,636.3 957.5,636.5 957.7,636.6 957.9,636.8 958,636.9 958.2,637 958.4,637.2 958.6,637.3 958.7,637.5 958.9,637.6 959.1,637.7 959.3,637.8 959.4,637.9 959.6,638.1 959.8,638.2 959.9,638.3 960.1,638.4 960.3,638.5 960.5,638.6 960.6,638.7 960.8,638.8 961,638.9 961.1,639 961.3,639.1 961.5,639.1 961.7,639.2 961.8,639.3 962,639.4 962.2,639.4 962.3,639.5 962.5,639.6 962.7,639.6 962.9,639.7 963,639.7 963.2,639.8 963.4,639.8 963.6,639.9 963.7,639.9 963.9,639.9 964.1,640 964.2,640 964.4,640 964.6,640.1 964.8,640.1 964.9,640.1 965.1,640.1 965.3,640.1 965.4,640.1 965.6,640.2 965.8,640.2 966,640.1 966.1,640.1 966.3,640.1 966.5,640.1 966.6,640 966.8,640 967,639.9 967.2,639.9 967.3,639.8 967.5,639.7 967.7,639.6 967.9,639.5 968,639.4 968.2,639.3 968.4,639.2 968.5,639 968.7,638.8 968.9,638.7 969.1,638.5 969.2,638.3 969.4,638.1 969.6,637.9 969.7,637.7 969.9,637.5 970.1,637.2 970.3,637 970.4,636.7 970.6,636.5 970.8,636.2 970.9,635.9 971.1,635.6 971.3,635.3 971.5,635 971.6,634.6 971.8,634.3 972,633.9 972.2,633.6 972.3,633.2 972.5,632.9 972.7,632.6 972.8,632.2 973,632 973.2,631.7 973.4,631.5 973.5,631.4 973.7,631.3 973.9,631.3 974,631.3 974.2,631.4 974.4,631.6 974.6,631.7 974.7,631.9 974.9,632.1 975.1,632.3 975.2,632.5 975.4,632.7 975.6,632.9 975.8,633.1 975.9,633.3 976.1,633.5 976.3,633.7 976.5,633.9 976.6,634.1 976.8,634.3 977,634.5 977.1,634.7 977.3,634.8 977.5,635 977.7,635.2 977.8,635.4 978,635.5 978.2,635.7 978.3,635.9 978.5,636 978.7,636.2 978.9,636.3 979,636.5 979.2,636.6 979.4,636.7 979.5,636.9 979.7,637 979.9,637.2 980.1,637.3 980.2,637.4 980.4,637.5 980.6,637.7 980.8,637.8 980.9,637.9 981.1,638 981.3,638.1 981.4,638.2 981.6,638.3 981.8,638.4 982,638.5 982.1,638.6 982.3,638.7 982.5,638.8 982.6,638.9 982.8,638.9 983,639 983.2,639.1 983.3,639.2 983.5,639.2 983.7,639.3 983.8,639.4 984,639.4 984.2,639.5 984.4,639.5 984.5,639.6 984.7,639.6 984.9,639.7 985.1,639.7 985.2,639.7 985.4,639.8 985.6,639.8 985.7,639.8 985.9,639.9 986.1,639.9 986.3,639.9 986.4,639.9 986.6,639.9 986.8,640 986.9,640 987.1,640 987.3,640 987.5,640 987.6,639.9 987.8,639.9 988,639.9 988.1,639.9 988.3,639.8 988.5,639.8 988.7,639.7 988.8,639.6 989,639.5 989.2,639.4 989.4,639.3 989.5,639.2 989.7,639.1 989.9,639 990,638.8 990.2,638.7 990.4,638.5 990.6,638.3 990.7,638.2 990.9,638 991.1,637.8 991.2,637.5 991.4,637.3 991.6,637.1 991.8,636.9 991.9,636.6 992.1,636.3 992.3,636.1 992.4,635.8 992.6,635.5 992.8,635.2 993,634.9 993.1,634.6 993.3,634.3 993.5,633.9 993.7,633.6 993.8,633.2 994,632.9 994.2,632.6 994.3,632.3 994.5,632 994.7,631.8 994.9,631.6 995,631.5 995.2,631.5 995.4,631.5 995.5,631.5 995.7,631.6 995.9,631.8 996.1,631.9 996.2,632.1 996.4,632.3 996.6,632.5 996.7,632.7 996.9,632.9 997.1,633.1 997.3,633.3 997.4,633.5 997.6,633.7 997.8,633.9 998,634.1 998.1,634.2 998.3,634.4 998.5,634.6 998.6,634.8 998.8,634.9 999,635.1 999.2,635.3 999.3,635.4 999.5,635.6 999.7,635.8 999.8,636 1000,636.2 1000.2,636.3 1000.4,636.5 1000.5,636.7 1000.7,636.8 1000.9,637 1001,637.1 1001.2,637.3 1001.4,637.4 1001.6,637.6 1001.7,637.7 1001.9,637.8 1002.1,637.9 1002.3,638.1 1002.4,638.2 1002.6,638.3 1002.8,638.4 1002.9,638.5 1003.1,638.6 1003.3,638.7 1003.5,638.7 1003.6,638.8 1003.8,638.9 1004,639 1004.1,639 1004.3,639.1 1004.5,639.2 1004.7,639.2 1004.8,639.3 1005,639.3 1005.2,639.4 1005.3,639.4 1005.5,639.5 1005.7,639.5 1005.9,639.5 1006,639.6 1006.2,639.6 1006.4,639.6 1006.6,639.7 1006.7,639.7 1006.9,639.7 1007.1,639.7 1007.2,639.7 1007.4,639.8 1007.6,639.8 1007.8,639.8 1007.9,639.8 1008.1,639.8 1008.3,639.8 1008.4,639.8 1008.6,639.8 1008.8,639.8 1009,639.8 1009.1,639.8 1009.3,639.8 1009.5,639.8 1009.6,639.8 1009.8,639.7 1010,639.7 1010.2,639.7 1010.3,639.7 1010.5,639.6 1010.7,639.6 1010.9,639.6 1011,639.6 1011.2,639.5 1011.4,639.5 1011.5,639.5 1011.7,639.4 1011.9,639.4 1012.1,639.4 1012.2,639.3 1012.4,639.3 1012.6,639.3 1012.7,639.3 1012.9,639.2 1013.1,639.2 1013.3,639.2 1013.4,639.2 1013.6,639.2 1013.8,639.1 1013.9,639.1 1014.1,639.1 1014.3,639.1 1014.5,639.1 1014.6,639.2 1014.8,639.2 1015,639.2 1015.2,639.2 1015.3,639.3 1015.5,639.3 1015.7,639.3 1015.8,639.4 1016,639.5 1016.2,639.5 1016.4,639.6 1016.5,639.7 1016.7,639.8"/>
</g>
<text transform="translate(658.8,506.4) scale(1.0000,1.0630)" font-size="39" text-anchor="end" fill="#262626" font-family="'Liberation Sans', Arial, Helvetica, sans-serif" stroke="#262626" stroke-width="0.5">100</text>
<text transform="translate(658.8,656.7) scale(1.0000,1.0630)" font-size="39" text-anchor="end" fill="#262626" font-family="'Liberation Sans', Arial, Helvetica, sans-serif" stroke="#262626" stroke-width="0.5">0</text>
<text transform="translate(658.8,805.7) scale(1.0000,1.0630)" font-size="39" text-anchor="end" fill="#262626" font-family="'Liberation Sans', Arial, Helvetica, sans-serif" stroke="#262626" stroke-width="0.5">-100</text>
<text transform="translate(671.5,843) scale(1.0000,1.0630)" font-size="39" text-anchor="middle" fill="#262626" font-family="'Liberation Sans', Arial, Helvetica, sans-serif" stroke="#262626" stroke-width="0.5">-100</text>
<text transform="translate(843.5,843) scale(1.0000,1.0630)" font-size="39" text-anchor="middle" fill="#262626" font-family="'Liberation Sans', Arial, Helvetica, sans-serif" stroke="#262626" stroke-width="0.5">-50</text>
<text transform="translate(1015.5,843) scale(1.0000,1.0630)" font-size="39" text-anchor="middle" fill="#262626" font-family="'Liberation Sans', Arial, Helvetica, sans-serif" stroke="#262626" stroke-width="0.5">0</text>
<text x="949.7" y="534.4" font-size="43" text-anchor="start" fill="#000" font-family="'Liberation Sans', Arial, Helvetica, sans-serif">(d)</text>
<text transform="translate(572.8,639.5) rotate(-90)" font-size="44.2" text-anchor="middle" fill="#262626" font-family="'Liberation Serif', 'DejaVu Serif', serif">Γ</text>
<g fill="#262626" font-family="'Liberation Serif', 'DejaVu Serif', serif">
<text transform="translate(797.12,888.9) scale(1.181,1)" font-size="46.3">Δ</text>
<text transform="translate(834.7,899.2) skewX(-5.3) scale(1,1.382)" font-size="45">/</text>
<text transform="translate(854.1,888.9) scale(1.04,0.95)" font-size="41.7" font-style="italic">v</text>
<text x="874.4" y="896.3" font-size="28.2" font-style="italic">g</text>
</g>
<rect x="135.5" y="0" width="347.5" height="45.5" fill="#fff" stroke="none"/>
<path d="M135.5,0V46" stroke="#262626" stroke-width="1" fill="none"/>
<path d="M135,45.5H483.7" stroke="#262626" stroke-width="1" fill="none"/>
<path d="M483,0V46" stroke="#262626" stroke-width="1.4" fill="none"/>
<path d="M135,0.4H483.7" stroke="#262626" stroke-width="1.2" fill="none"/>
<path d="M142.3,23H206.8" stroke="#0000ff" stroke-width="2.45"/>
<path d="M275.5,23H340" stroke="#ff0000" stroke-width="2.45"/>
<text transform="translate(211.6,33.6) scale(1.0680,1.0000)" font-size="28" text-anchor="start" fill="#000" font-family="'Liberation Sans', Arial, Helvetica, sans-serif">real</text>
<text transform="translate(345.2,33.6) scale(1.0680,1.0000)" font-size="28" text-anchor="start" fill="#000" font-family="'Liberation Sans', Arial, Helvetica, sans-serif">imaginary</text>
</svg></body></html>
